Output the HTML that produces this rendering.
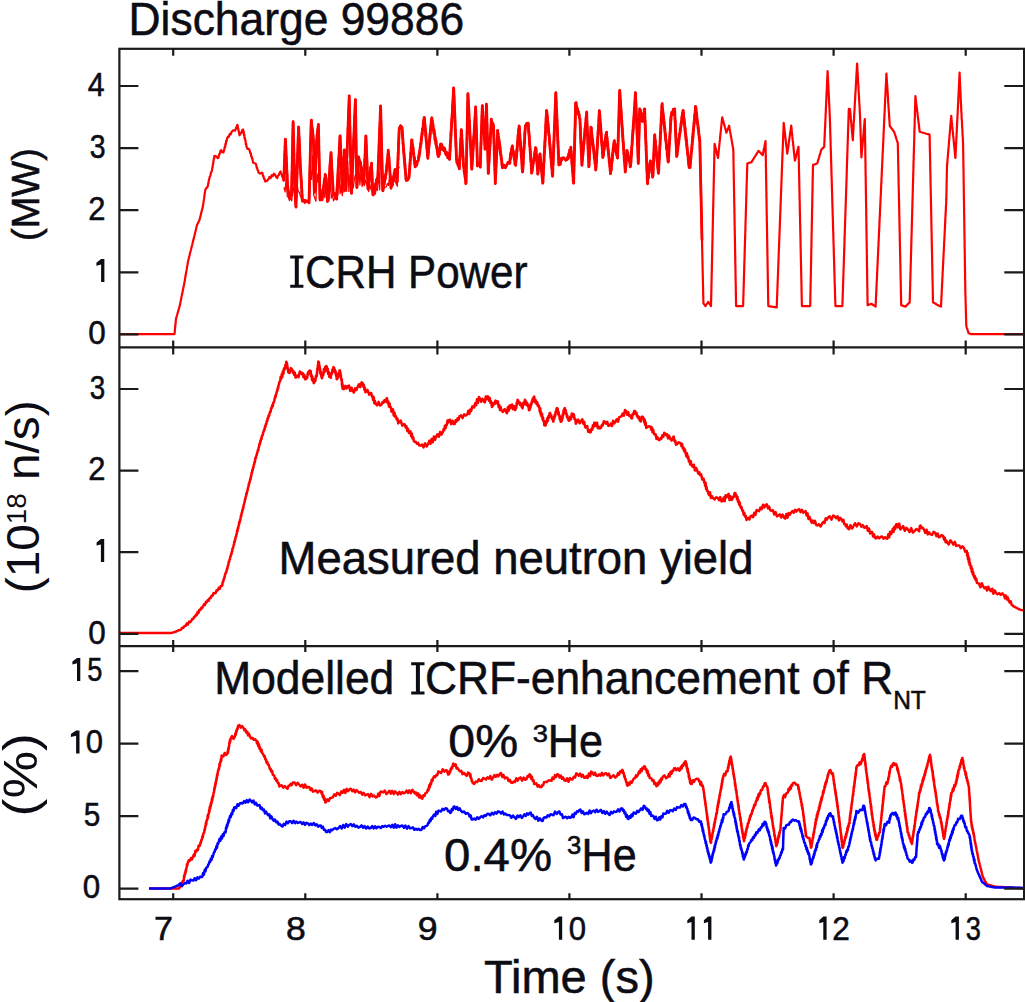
<!DOCTYPE html>
<html><head><meta charset="utf-8"><style>
html,body{margin:0;padding:0;background:#fff;}
body{width:1025px;height:1002px;overflow:hidden;}
svg{display:block;}
text{font-family:"Liberation Sans",sans-serif;fill:#0c0c14;stroke:#0c0c14;stroke-width:0.55px;}
</style></head><body>
<svg width="1025" height="1002" viewBox="0 0 1025 1002">
<rect width="1025" height="1002" fill="#fff"/>
<defs><clipPath id="c1"><rect x="119.4" y="48.8" width="904.6999999999999" height="850.4000000000001"/></clipPath></defs>
<g clip-path="url(#c1)">
<path d="M149.0,888.5 150.4,888.5 151.9,888.5 153.3,888.5 154.7,888.5 156.2,888.5 157.6,888.5 159.0,888.5 160.5,888.5 161.9,888.5 163.3,888.5 164.8,888.5 166.2,888.5 167.6,888.5 169.1,888.5 170.5,888.5 171.9,888.5 173.4,888.5 174.8,888.5 176.2,888.5 177.7,888.5 179.1,888.5 179.8,887.1 180.5,885.8 181.2,884.4 182.0,883.0 182.7,881.1 183.4,880.3 183.8,880.6 184.1,875.8 184.5,876.8 184.8,873.4 185.2,874.3 185.6,870.3 185.9,871.9 186.3,868.3 186.6,867.8 187.0,864.2 187.3,865.6 187.7,863.1 188.8,860.2 189.8,860.9 190.9,858.1 191.9,859.5 193.0,856.7 193.8,854.6 194.6,855.9 195.4,850.8 196.2,851.8 197.1,849.6 197.9,849.9 198.7,845.4 199.5,846.0 200.0,845.6 200.5,842.4 200.9,842.8 201.4,839.8 201.9,839.6 202.4,836.3 202.8,837.2 203.3,833.8 203.8,833.1 204.2,832.4 204.5,829.5 204.9,829.9 205.2,826.5 205.6,826.4 205.9,822.8 206.3,824.4 206.6,820.2 207.0,820.2 207.4,819.5 207.7,815.3 208.1,817.7 208.4,813.9 208.8,814.0 209.1,810.0 209.5,811.7 209.8,806.8 210.2,808.4 210.6,804.1 210.9,805.9 211.3,802.1 211.6,802.9 212.0,798.3 212.3,800.5 212.7,796.1 213.0,797.2 213.4,794.4 213.7,792.5 214.0,792.3 214.3,788.4 214.5,789.8 214.8,786.6 215.1,787.1 215.4,782.9 215.7,784.5 216.0,780.6 216.3,781.2 216.6,777.5 216.8,778.9 217.1,774.6 217.4,775.5 217.7,773.0 218.1,770.4 218.4,770.6 218.8,768.2 219.1,768.8 219.5,763.9 219.8,765.7 220.2,761.9 220.6,762.2 220.9,758.9 221.3,760.6 221.6,755.6 222.0,755.8 223.3,756.5 224.7,753.0 226.1,755.0 227.4,753.7 227.7,751.1 228.0,752.9 228.3,748.3 228.6,749.3 228.9,746.0 229.1,746.7 229.4,742.2 229.7,743.1 230.0,739.7 230.3,741.7 230.6,738.6 232.0,736.1 233.5,738.8 234.9,736.5 235.4,733.3 235.8,734.7 236.3,730.6 236.7,731.5 237.2,728.4 237.6,729.1 238.1,725.8 239.4,725.0 240.8,727.6 242.2,726.2 243.5,727.9 244.4,730.3 245.3,729.4 246.2,732.5 247.2,731.6 248.1,735.4 249.0,733.9 249.9,736.5 251.2,738.5 252.5,737.8 253.8,739.8 255.1,739.3 256.4,740.8 257.0,743.4 257.7,741.6 258.3,746.3 259.0,744.3 259.6,749.0 260.2,747.7 260.9,751.6 261.5,749.6 262.2,752.9 262.8,753.7 263.4,754.6 264.1,756.7 264.7,755.9 265.4,759.6 266.0,759.5 266.6,762.8 267.3,761.7 267.9,764.5 268.6,764.6 269.2,766.5 269.9,769.2 270.6,768.7 271.4,771.6 272.1,770.7 272.8,774.8 273.5,775.1 274.2,775.4 274.9,778.7 275.7,778.3 276.4,780.9 277.1,780.0 277.8,783.0 278.6,782.9 279.3,786.5 280.0,785.9 281.6,785.2 283.2,787.7 284.8,786.1 286.4,788.0 287.5,788.8 288.6,785.8 289.6,785.7 290.7,783.8 291.8,785.1 292.9,782.6 294.5,782.5 296.1,785.2 297.7,782.8 299.3,784.8 300.7,786.4 302.2,784.7 303.6,787.8 305.0,784.5 306.5,787.8 307.9,786.9 309.2,787.0 310.5,790.1 311.7,788.4 313.0,791.7 314.3,791.2 315.9,790.3 317.6,792.6 319.2,790.7 320.8,791.2 321.5,793.4 322.1,792.0 322.8,797.1 323.5,795.7 324.1,799.7 324.8,798.4 325.4,802.6 326.1,802.0 327.5,799.3 328.8,800.9 330.1,798.0 331.5,797.7 332.9,797.3 334.3,794.3 335.8,795.8 337.2,792.8 338.6,793.7 339.9,795.1 341.3,791.3 342.6,792.8 344.0,789.8 345.3,793.0 346.6,788.9 348.0,791.2 349.3,789.4 350.7,788.7 352.2,791.1 353.6,789.7 355.0,792.3 356.5,790.1 357.9,791.5 359.3,792.7 360.8,792.0 362.2,794.6 363.6,792.8 365.1,795.4 366.5,794.7 368.0,794.1 369.6,797.1 371.1,793.8 372.6,796.4 374.1,795.6 375.7,797.5 377.2,796.9 378.3,793.6 379.4,795.9 380.4,791.9 381.5,791.5 383.1,792.5 384.8,790.6 386.4,794.1 388.0,792.6 389.4,790.7 390.8,793.6 392.2,790.8 393.7,794.1 395.1,791.4 396.5,792.6 397.9,794.6 399.4,791.8 400.8,794.2 402.2,792.1 403.7,793.3 405.1,792.6 406.5,790.6 408.0,793.0 409.4,790.4 410.8,793.2 412.3,789.9 413.7,791.5 414.8,793.4 415.8,792.4 416.9,795.2 418.0,793.4 419.1,797.5 420.1,795.1 421.2,798.0 422.3,798.7 423.4,795.2 424.4,796.0 425.5,793.1 426.6,792.6 427.2,791.7 427.9,789.3 428.5,790.2 429.2,785.3 429.8,787.3 430.4,783.3 431.1,784.2 431.7,779.7 432.4,781.0 433.0,778.6 434.1,776.2 435.2,777.2 436.2,774.9 437.3,775.2 438.4,771.4 439.5,772.2 441.1,773.0 442.7,769.2 444.3,771.7 445.9,770.0 447.0,770.6 448.0,774.5 449.1,774.3 449.6,771.2 450.2,772.0 450.7,768.8 451.2,769.5 451.8,767.0 452.3,768.1 452.9,764.5 453.4,763.6 454.5,765.7 455.6,764.2 456.6,768.5 457.7,768.1 458.8,770.0 460.1,771.5 461.4,770.9 462.6,774.2 463.9,772.9 465.2,774.3 466.6,775.8 468.1,772.6 469.5,773.3 470.0,776.6 470.4,774.2 470.9,778.3 471.3,778.0 471.8,781.3 472.2,781.0 472.7,782.9 474.2,783.9 475.7,781.6 477.2,782.1 478.7,779.2 480.2,780.8 481.6,780.9 483.1,778.0 484.5,778.6 485.9,779.6 487.4,777.4 488.8,778.6 490.2,776.1 491.7,779.7 493.1,777.6 494.4,775.0 495.7,776.9 497.0,774.9 498.3,776.3 499.6,774.3 500.9,773.0 502.2,776.9 503.4,774.8 504.7,778.4 506.0,777.6 507.3,777.8 508.6,781.0 509.8,779.9 511.1,782.6 512.4,782.9 513.7,781.5 515.0,782.0 516.3,778.3 517.6,780.6 518.9,778.6 520.5,777.4 522.1,780.6 523.7,777.5 525.3,779.7 526.4,779.4 527.5,776.1 528.5,776.6 529.6,774.3 530.4,774.8 531.1,778.8 531.9,776.6 532.7,780.7 533.5,780.3 534.2,783.9 535.0,784.0 536.3,783.3 537.6,786.6 538.8,785.1 540.1,787.0 541.4,787.2 542.3,785.1 543.2,785.2 544.1,782.1 545.0,782.1 546.8,782.0 548.5,780.4 550.3,780.4 551.5,780.8 552.6,777.5 553.8,779.0 555.0,775.1 556.1,777.0 557.3,774.2 558.5,774.6 559.6,777.5 560.8,775.6 562.0,778.9 563.1,777.4 564.3,780.4 565.7,780.9 567.1,778.4 568.5,781.8 569.9,778.0 571.3,779.5 572.5,779.4 573.8,776.8 575.0,777.5 576.3,773.4 577.5,774.2 578.8,775.7 580.1,773.6 581.5,776.6 582.8,774.7 584.1,777.7 585.4,777.8 586.6,776.0 587.7,777.9 588.9,773.5 590.1,776.1 591.2,771.6 592.4,772.5 593.7,775.0 595.0,772.7 596.4,775.8 597.7,776.0 599.1,774.4 600.5,775.6 601.9,772.9 603.3,775.4 604.7,773.4 606.1,773.3 607.5,775.3 608.9,773.6 610.3,777.9 611.7,776.9 613.5,775.3 615.2,777.6 617.0,776.0 618.1,773.0 619.1,774.7 620.2,771.3 621.2,772.1 622.3,769.9 622.8,770.5 623.2,773.2 623.7,772.8 624.2,776.7 624.7,775.8 625.1,779.0 625.6,779.0 626.1,782.0 626.6,782.2 627.0,785.1 627.5,785.7 628.6,782.9 629.6,784.6 630.7,781.5 631.7,782.8 632.8,780.4 633.9,778.4 634.9,778.3 636.0,775.4 637.0,776.6 638.1,774.2 639.0,771.6 639.8,773.0 640.7,769.3 641.6,771.3 642.5,767.8 643.3,768.6 644.2,766.3 644.9,766.4 645.6,769.6 646.3,769.1 647.0,772.7 647.6,770.8 648.3,775.8 649.0,774.4 649.7,778.0 650.4,777.8 651.4,778.5 652.4,780.6 653.4,780.0 654.4,784.1 655.4,782.8 656.4,786.2 657.4,785.7 658.2,782.6 658.9,784.1 659.7,780.4 660.4,782.4 661.2,778.4 661.9,779.7 662.7,776.9 664.4,775.3 666.2,778.3 667.9,776.9 668.8,774.0 669.7,776.5 670.6,771.7 671.5,773.8 672.3,770.7 673.2,771.1 674.1,768.5 675.0,768.1 676.4,770.3 677.9,768.2 679.3,770.7 680.1,770.0 680.8,766.8 681.6,768.6 682.4,764.9 683.2,765.9 684.0,762.8 684.7,763.9 685.5,761.1 685.8,762.1 686.2,765.9 686.5,763.7 686.8,768.2 687.2,767.4 687.5,771.5 687.8,769.1 688.1,773.1 688.5,772.3 688.8,777.1 689.1,775.3 689.5,779.7 689.8,778.5 690.1,782.9 690.5,780.5 690.8,783.9 691.8,783.9 692.9,780.2 694.0,781.9 695.0,779.8 696.6,778.7 698.3,779.0 699.0,781.2 699.7,781.0 700.4,784.8 701.2,782.3 701.9,786.1 702.6,785.4 703.3,788.1 703.5,790.6 703.7,790.3 703.9,793.2 704.1,792.9 704.3,796.7 704.5,796.1 704.6,798.6 704.8,798.2 705.0,801.2 705.2,800.7 705.4,804.9 705.6,803.2 705.8,807.1 706.0,806.9 706.2,810.4 706.4,809.7 706.6,813.3 706.8,812.5 707.0,816.2 707.1,814.5 707.3,819.2 707.5,817.0 707.7,821.6 707.9,820.6 708.1,824.9 708.3,822.9 708.5,827.3 708.7,826.4 708.9,829.6 709.1,829.6 709.3,833.3 709.5,832.4 709.6,836.0 709.8,834.5 710.0,839.1 710.2,837.0 710.4,842.0 710.6,840.8 710.8,842.8 711.1,842.6 711.4,838.6 711.6,839.4 711.9,835.9 712.2,836.7 712.5,833.0 712.7,833.3 713.0,830.3 713.3,831.1 713.6,827.7 713.8,828.2 714.1,824.1 714.4,825.8 714.7,821.7 714.9,823.0 715.2,819.1 715.5,819.4 715.8,816.9 716.0,816.7 716.3,813.1 716.6,813.0 716.9,813.4 717.1,808.5 717.4,810.0 717.6,805.4 717.9,807.1 718.1,802.8 718.4,804.2 718.6,800.2 718.9,802.3 719.1,798.1 719.4,798.2 719.6,794.8 719.9,796.0 720.2,792.4 720.4,792.3 720.7,789.5 720.9,790.2 721.2,786.7 721.4,788.1 721.7,783.6 721.9,785.1 722.2,780.3 722.4,782.3 722.7,778.1 722.9,779.5 723.2,776.5 724.2,773.8 725.2,775.4 726.3,771.3 727.3,771.5 727.6,771.1 728.0,767.1 728.3,768.4 728.7,763.6 729.0,765.7 729.3,760.8 729.7,762.7 730.0,757.9 730.4,759.5 730.7,756.6 730.9,757.0 731.2,760.2 731.4,759.2 731.6,763.9 731.8,762.2 732.1,765.5 732.3,764.6 732.5,768.8 732.8,767.9 733.0,770.9 733.2,770.6 733.4,774.8 733.7,773.5 733.9,776.9 734.1,775.9 734.3,779.2 734.6,778.9 734.8,781.5 735.0,784.8 735.2,782.8 735.4,786.8 735.6,785.6 735.8,789.9 736.1,789.2 736.3,792.1 736.5,791.0 736.7,795.0 736.9,795.1 737.1,798.7 737.3,797.2 737.5,800.8 737.7,800.0 738.0,804.2 738.2,803.4 738.4,806.9 738.6,805.3 738.8,810.0 739.0,809.7 739.2,810.3 739.4,813.9 739.7,813.2 739.9,816.7 740.1,816.2 740.3,820.0 740.6,817.9 740.8,822.1 741.0,821.8 741.2,826.0 741.5,823.9 741.7,828.6 741.9,827.9 742.1,831.6 742.3,829.8 742.6,833.5 742.8,833.0 743.0,837.1 743.2,835.2 743.5,839.0 743.7,838.4 743.9,841.2 744.2,840.5 744.5,836.4 744.9,838.1 745.2,833.7 745.5,835.7 745.8,831.4 746.2,832.2 746.5,828.7 746.8,829.2 747.1,826.5 747.5,827.3 747.8,823.3 748.1,822.9 748.6,823.1 749.1,819.3 749.6,820.2 750.1,815.8 750.6,816.8 751.1,813.9 751.7,814.1 752.2,810.5 752.7,810.9 753.2,808.2 753.7,808.0 754.2,804.7 754.7,804.7 755.3,805.2 755.9,801.2 756.5,801.1 757.1,797.8 757.7,799.6 758.3,794.6 758.9,796.6 759.5,792.9 760.1,794.2 760.7,790.6 761.3,789.8 762.1,790.0 763.0,786.6 763.8,786.8 764.7,783.2 765.5,783.1 766.4,785.8 767.2,786.4 767.4,787.1 767.6,790.0 767.8,788.9 768.0,793.2 768.2,792.1 768.4,795.6 768.6,794.7 768.8,798.6 769.0,797.7 769.2,802.4 769.5,799.9 769.7,803.8 769.9,803.1 770.1,807.9 770.3,806.6 770.5,810.0 770.7,809.0 770.9,813.7 771.1,812.2 771.3,814.6 771.5,817.8 771.8,815.9 772.0,819.6 772.2,818.5 772.4,822.2 772.7,822.6 772.9,826.1 773.1,825.6 773.3,828.5 773.6,828.4 773.8,831.5 774.0,830.1 774.3,835.1 774.5,834.3 774.7,836.6 774.9,835.8 775.2,839.5 775.4,839.6 775.6,842.5 775.8,842.8 776.1,845.2 776.3,846.2 776.6,843.4 777.0,845.0 777.3,840.6 777.7,842.4 778.0,837.8 778.3,838.9 778.7,835.1 779.0,837.1 779.4,832.3 779.7,833.2 780.1,830.5 780.4,829.6 780.5,830.1 780.6,825.4 780.7,826.3 780.9,822.5 781.0,823.7 781.1,819.7 781.2,820.0 781.3,817.1 781.4,817.7 781.5,814.5 781.6,815.6 781.8,811.3 781.9,812.4 782.0,807.9 782.1,809.6 782.2,805.1 782.3,806.8 782.4,802.9 782.6,804.3 782.7,800.2 782.8,801.3 782.9,798.0 784.0,795.0 785.0,797.3 786.0,793.8 787.1,793.1 787.8,792.4 788.5,788.9 789.3,790.5 790.0,787.1 790.7,788.8 791.5,785.1 792.2,785.6 792.9,783.1 794.5,782.6 796.2,784.8 797.8,784.8 798.1,785.2 798.4,789.1 798.6,787.1 798.9,790.8 799.2,790.5 799.5,793.6 799.7,792.8 800.0,796.4 800.3,796.8 800.6,799.6 800.9,798.4 801.1,802.3 801.4,802.2 801.7,805.8 802.0,803.9 802.2,808.7 802.5,807.4 802.8,809.7 803.0,812.2 803.1,811.7 803.3,815.2 803.5,814.4 803.7,817.6 803.8,816.4 804.0,821.4 804.2,819.5 804.4,822.8 804.5,822.2 804.7,826.2 804.9,824.5 805.1,829.4 805.2,827.5 805.4,832.1 805.6,830.8 805.8,835.2 805.9,833.1 806.1,836.2 807.8,837.9 809.4,837.9 809.6,838.7 809.9,841.7 810.1,840.9 810.4,844.1 810.6,844.0 810.9,847.7 811.1,847.8 811.4,845.9 811.6,846.7 811.9,842.1 812.1,843.1 812.4,839.9 812.6,840.3 812.9,837.0 813.1,838.1 813.4,833.9 813.6,834.9 813.9,831.7 814.1,832.7 814.4,828.5 814.6,829.0 814.9,826.1 815.1,827.2 815.4,822.7 815.6,824.3 815.9,819.1 816.1,819.6 816.5,820.2 816.8,815.1 817.2,817.3 817.6,812.2 817.9,814.4 818.3,810.7 818.7,811.2 819.0,807.2 819.4,809.1 819.8,804.1 820.1,805.9 820.5,801.4 820.9,802.6 821.2,798.3 821.6,800.3 822.0,796.4 822.3,797.2 822.7,794.7 823.1,791.3 823.5,793.1 823.9,789.8 824.3,789.7 824.6,786.1 825.0,787.5 825.4,783.0 825.8,784.1 826.2,780.9 826.6,782.1 827.0,778.7 827.4,778.3 827.7,775.1 828.1,775.8 828.5,773.0 828.9,772.9 829.3,770.7 830.4,770.1 831.6,773.6 832.7,773.2 832.9,774.1 833.1,776.6 833.3,775.8 833.6,780.4 833.8,779.7 834.0,783.6 834.2,782.8 834.4,785.7 834.6,784.4 834.8,789.1 835.0,788.2 835.3,792.3 835.5,790.6 835.7,795.1 835.9,793.0 836.1,797.3 836.3,796.2 836.5,800.4 836.7,798.6 837.0,803.7 837.2,801.9 837.4,806.6 837.6,806.3 837.8,805.7 837.9,810.0 838.1,809.9 838.3,813.6 838.5,811.8 838.6,816.1 838.8,815.1 839.0,818.8 839.2,817.4 839.3,822.3 839.5,820.7 839.7,823.9 839.8,823.1 840.0,827.5 840.2,827.1 840.4,830.1 840.5,829.1 840.7,832.5 840.9,832.9 841.0,835.8 841.2,834.5 841.4,839.4 841.6,837.3 841.7,841.9 841.9,840.8 842.1,844.8 842.3,843.7 842.4,847.6 842.6,847.8 843.0,844.7 843.3,847.0 843.7,842.6 844.1,843.7 844.5,840.0 844.8,840.4 845.2,836.9 845.6,838.1 846.0,834.1 846.3,835.9 846.7,831.9 847.1,832.6 847.4,827.8 847.8,830.0 848.2,825.7 848.6,826.7 848.9,823.2 849.3,822.9 849.5,823.4 849.7,818.2 849.9,820.1 850.0,815.4 850.2,817.7 850.4,812.7 850.6,814.0 850.8,810.5 851.0,811.9 851.1,807.8 851.3,809.0 851.5,804.8 851.7,805.5 851.9,802.0 852.1,802.3 852.3,799.4 852.4,800.0 852.6,797.1 852.8,796.8 853.0,793.9 853.2,795.1 853.4,790.5 853.6,791.3 853.7,787.1 853.9,788.5 854.1,785.0 854.3,786.4 854.5,781.9 854.7,783.1 854.9,779.0 855.0,780.4 855.2,776.2 855.4,777.6 855.6,773.0 855.8,775.1 856.0,771.6 856.1,771.3 856.3,767.4 856.5,768.7 856.7,766.5 857.7,765.0 858.7,765.3 859.6,762.3 860.6,764.3 861.6,761.4 862.1,758.9 862.6,760.0 863.1,755.2 863.6,756.0 864.1,754.0 864.3,754.1 864.5,758.9 864.7,757.1 864.8,761.1 865.0,760.4 865.2,764.7 865.4,762.3 865.6,766.3 865.8,765.9 865.9,769.7 866.1,768.6 866.3,772.1 866.5,773.0 866.7,773.6 866.9,776.8 867.1,776.2 867.3,780.5 867.5,778.5 867.7,783.4 867.9,781.7 868.1,785.2 868.2,785.1 868.4,789.0 868.6,788.1 868.8,791.6 869.0,790.0 869.2,793.9 869.4,793.0 869.6,796.8 869.8,797.7 870.0,798.1 870.2,802.5 870.4,801.3 870.6,804.7 870.8,803.9 871.0,808.2 871.2,805.9 871.4,810.2 871.5,809.6 871.7,814.1 871.9,812.4 872.1,815.9 872.3,815.0 872.5,819.0 872.7,818.3 872.9,821.4 873.1,822.4 873.4,821.9 873.6,826.8 873.9,824.9 874.2,830.1 874.5,828.8 874.8,832.4 875.0,831.4 875.3,835.6 875.6,833.7 875.9,837.7 876.1,837.5 876.4,839.8 877.1,839.8 877.7,835.7 878.4,835.9 879.0,833.1 879.7,832.3 879.9,832.2 880.0,828.1 880.2,830.0 880.3,825.5 880.5,826.7 880.6,823.3 880.8,823.6 880.9,820.3 881.1,821.2 881.2,817.5 881.4,817.7 881.5,814.5 881.7,815.3 881.8,811.8 882.0,812.7 882.1,809.3 882.3,810.4 882.4,805.6 882.6,807.0 882.7,803.9 882.9,803.9 883.0,800.1 883.2,801.6 883.3,797.1 883.5,799.2 883.6,795.1 883.8,795.8 883.9,792.3 884.1,792.4 884.2,789.8 884.4,789.8 884.5,787.1 884.7,786.2 885.5,786.2 886.4,782.2 887.2,783.8 888.0,781.2 888.3,778.2 888.5,779.0 888.8,776.1 889.1,776.6 889.3,772.1 889.6,773.5 889.9,770.5 890.1,769.9 890.4,768.0 891.2,765.9 892.0,766.9 892.9,763.8 893.7,763.1 894.8,765.0 895.9,763.8 897.0,766.4 897.3,769.8 897.6,768.2 898.0,771.9 898.3,770.7 898.6,773.8 898.9,773.8 899.3,776.8 899.6,776.7 899.9,780.6 900.2,778.8 900.6,782.2 900.9,782.6 901.2,784.5 901.4,787.5 901.6,786.8 901.8,789.8 902.0,789.5 902.2,792.2 902.4,792.8 902.6,795.3 902.8,795.1 902.9,799.5 903.1,797.6 903.3,801.3 903.5,800.4 903.7,804.2 903.9,803.6 904.1,807.2 904.3,805.8 904.5,809.2 904.7,811.6 904.9,810.4 905.1,815.0 905.3,813.2 905.5,817.8 905.7,816.1 905.9,820.4 906.1,819.3 906.4,823.6 906.6,822.4 906.8,826.4 907.0,825.3 907.2,829.0 907.4,827.6 907.6,832.3 907.8,832.3 908.3,832.5 908.8,835.7 909.3,835.4 909.8,838.8 910.4,838.8 910.9,842.1 911.4,841.2 911.9,843.9 912.1,843.3 912.3,840.3 912.5,840.9 912.7,837.1 912.9,837.9 913.1,834.9 913.3,835.1 913.5,831.2 913.7,832.5 914.0,828.6 914.2,830.2 914.4,825.5 914.6,827.1 914.8,823.8 915.0,823.7 915.2,819.9 915.4,820.7 915.6,816.7 915.8,817.8 916.0,815.8 916.2,812.6 916.4,813.7 916.6,809.7 916.8,811.8 917.0,807.7 917.2,809.0 917.4,805.1 917.6,806.1 917.9,801.9 918.1,802.5 918.3,799.4 918.5,799.9 918.7,796.3 918.9,797.1 919.1,792.6 919.3,792.8 919.7,792.8 920.1,789.6 920.5,790.6 920.9,785.4 921.3,787.4 921.8,783.5 922.2,784.5 922.6,780.0 923.0,781.6 923.4,777.4 923.8,779.0 924.2,776.3 924.6,773.8 925.0,775.3 925.4,770.9 925.7,771.9 926.1,768.6 926.5,768.9 926.9,765.8 927.3,766.4 927.7,763.0 928.1,762.4 928.5,760.0 928.8,759.7 929.2,756.5 929.6,757.2 930.0,754.8 930.2,755.4 930.4,759.6 930.6,757.2 930.8,761.9 931.0,760.1 931.2,764.9 931.4,763.8 931.6,767.7 931.8,766.7 932.0,770.1 932.3,769.3 932.5,772.3 932.7,771.4 932.9,776.3 933.1,775.0 933.3,779.1 933.5,777.7 933.7,781.5 933.9,779.5 934.1,782.9 934.3,785.9 934.5,785.2 934.7,788.2 934.9,787.5 935.1,790.8 935.4,789.6 935.6,793.8 935.8,792.6 936.0,796.9 936.2,795.7 936.4,798.8 936.6,798.2 936.8,802.9 937.0,801.8 937.2,805.3 937.5,804.1 937.7,807.6 937.9,806.6 938.1,811.5 938.3,810.9 938.7,811.8 939.1,815.5 939.5,814.0 939.9,818.1 940.3,817.1 940.7,819.1 940.9,822.1 941.2,821.4 941.4,824.3 941.6,822.8 941.9,827.6 942.1,825.9 942.4,830.1 942.6,829.3 942.8,833.0 943.1,831.6 943.3,836.2 943.5,835.4 943.8,838.6 944.0,838.9 944.2,836.2 944.5,837.4 944.7,832.8 944.9,835.0 945.2,831.2 945.4,831.4 945.6,828.4 945.9,828.0 946.1,825.7 946.4,825.4 946.6,821.7 946.8,823.4 947.1,818.8 947.3,819.1 947.5,818.6 947.7,815.7 948.0,816.9 948.2,811.8 948.4,814.1 948.6,810.4 948.8,810.4 949.1,806.6 949.3,808.2 949.5,803.4 949.7,805.1 950.0,801.5 950.2,801.5 950.4,798.0 950.6,800.3 950.8,795.1 951.1,797.0 951.3,793.2 951.5,792.8 952.2,792.2 952.9,788.4 953.5,790.5 954.2,785.3 954.9,786.6 955.6,784.5 955.9,781.7 956.3,782.8 956.6,779.0 956.9,780.3 957.2,775.2 957.6,777.2 957.9,772.6 958.2,774.2 958.6,769.7 958.9,769.7 959.3,769.5 959.7,766.0 960.1,767.0 960.5,763.3 961.0,763.9 961.4,760.0 961.8,760.8 962.2,758.1 962.5,758.1 962.8,762.2 963.1,760.5 963.4,764.7 963.7,764.9 964.0,768.7 964.3,767.4 964.6,769.7 965.0,771.9 965.3,771.4 965.6,775.2 966.0,773.2 966.4,778.1 966.7,777.0 967.0,780.6 967.4,779.6 967.8,783.3 968.1,782.4 968.4,785.5 968.8,786.2 968.9,786.6 969.0,790.1 969.1,789.8 969.2,793.7 969.3,792.5 969.4,795.5 969.5,795.0 969.6,799.5 969.7,797.6 969.8,802.1 969.9,800.6 970.0,804.5 970.0,804.4 970.1,807.3 970.2,807.0 970.3,810.2 970.4,809.7 970.5,812.9 970.6,813.1 970.7,816.0 970.8,815.9 970.9,819.7 971.0,818.2 971.1,821.7 971.2,822.4 971.5,822.7 971.8,826.9 972.0,825.2 972.3,829.2 972.6,828.2 972.9,831.4 973.1,830.6 973.4,833.9 973.7,833.1 974.0,836.6 974.2,835.9 974.5,838.9 974.8,841.3 975.1,841.8 975.3,843.2 975.6,844.6 975.9,846.1 976.2,847.5 976.5,848.9 976.7,850.4 977.0,851.8 977.3,853.2 977.6,854.7 977.9,856.1 978.1,857.5 978.4,859.0 978.7,860.4 979.0,861.8 979.4,863.1 979.7,864.5 980.1,865.9 980.4,867.3 980.8,868.6 981.1,870.0 981.4,871.4 981.8,872.8 982.1,874.1 982.5,875.5 982.8,876.9 983.5,878.1 984.2,879.4 984.8,880.6 985.5,881.8 986.2,883.1 986.9,884.3 988.3,884.7 989.6,885.1 991.0,885.5 992.4,885.9 993.7,886.3 995.1,886.7 996.6,886.8 998.1,886.9 999.6,886.9 1001.1,887.0 1002.6,887.1 1004.1,887.2 1005.6,887.3 1007.1,887.4 1008.6,887.4 1010.1,887.5 1011.6,887.6 1013.1,887.7 1014.7,887.8 1016.2,887.9 1017.8,888.0 1019.4,888.1 1020.9,888.2 1022.5,888.3 1024.0,888.4" stroke="#ff0000" stroke-width="2.5" fill="none" stroke-linejoin="round"/>
<path d="M149.0,888.5 150.4,888.5 151.9,888.5 153.3,888.5 154.7,888.5 156.2,888.5 157.6,888.5 159.0,888.5 160.5,888.5 161.9,888.5 163.3,888.5 164.8,888.5 166.2,888.5 167.6,888.5 169.1,888.5 170.5,888.5 171.8,887.9 173.1,887.4 174.4,886.8 175.7,886.3 177.0,885.7 178.6,885.3 180.2,883.2 181.8,886.3 183.4,884.2 184.8,883.1 186.3,883.4 187.7,880.7 189.1,883.0 190.6,879.6 192.0,880.3 193.4,880.6 194.7,878.2 196.1,880.2 197.5,877.3 198.9,878.6 200.2,876.6 201.6,877.1 202.4,876.6 203.1,872.9 203.9,874.7 204.7,869.8 205.5,871.3 206.2,867.8 207.0,867.4 207.6,866.9 208.3,864.4 208.9,863.9 209.6,861.2 210.2,861.8 210.8,858.8 211.5,860.0 212.1,856.0 212.8,857.0 213.4,854.5 214.0,852.4 214.6,852.0 215.2,849.4 215.8,849.4 216.4,846.3 217.0,847.8 217.6,843.2 218.2,843.7 218.8,841.7 219.6,838.8 220.4,840.8 221.2,836.6 222.0,838.5 222.8,834.2 223.6,835.9 224.4,832.3 225.2,832.0 225.6,832.4 226.1,827.5 226.5,828.4 226.9,825.0 227.3,826.4 227.8,822.6 228.2,823.4 228.6,819.8 229.1,821.2 229.5,818.1 230.2,815.7 230.8,817.0 231.5,813.2 232.2,814.3 232.9,809.7 233.6,811.0 234.2,807.5 234.9,807.3 236.2,808.1 237.5,804.2 238.7,805.8 240.0,803.2 241.3,803.0 242.7,803.5 244.1,801.0 245.5,802.7 246.8,800.1 248.2,802.2 249.6,799.5 251.0,800.9 252.2,802.4 253.5,800.6 254.8,804.4 256.0,802.7 257.2,805.6 258.5,805.2 259.6,805.0 260.6,808.6 261.7,807.6 262.8,810.2 263.9,809.5 265.0,813.4 266.0,811.5 267.1,813.8 268.2,815.3 269.3,814.4 270.3,818.4 271.4,816.4 272.5,819.1 273.7,820.7 274.9,819.5 276.1,822.3 277.4,821.5 278.6,824.5 279.8,824.0 281.0,825.6 282.4,826.6 283.8,823.9 285.2,824.9 286.5,821.6 287.9,823.2 289.3,821.3 290.7,821.3 292.1,823.1 293.6,820.7 295.0,823.2 296.4,821.6 297.9,823.0 299.3,822.3 300.7,821.9 302.2,824.0 303.6,822.4 305.0,824.8 306.5,822.8 307.9,823.4 309.4,825.1 310.8,823.6 312.3,825.0 313.8,823.0 315.3,825.4 316.8,824.4 318.2,826.7 319.7,825.6 320.8,825.6 321.8,827.9 322.9,826.6 324.0,829.8 325.1,829.8 326.1,831.9 327.2,832.0 328.5,830.1 329.8,832.1 331.0,829.6 332.3,830.3 333.6,828.8 335.3,828.1 336.9,829.3 338.6,828.0 340.1,826.1 341.7,828.5 343.2,825.0 344.7,827.6 346.2,824.1 347.8,826.6 349.3,824.8 350.8,824.1 352.4,826.1 353.9,824.4 355.4,826.8 356.9,825.8 358.5,827.6 360.0,826.9 361.5,825.4 363.1,827.8 364.6,826.2 366.2,828.5 367.7,826.6 369.3,828.4 370.8,828.0 372.2,826.1 373.7,828.4 375.1,826.2 376.5,828.2 378.0,826.7 379.4,826.9 380.8,827.9 382.3,826.0 383.7,826.8 385.1,825.8 386.6,826.7 388.0,825.9 389.4,825.4 390.8,827.2 392.3,824.8 393.7,827.7 395.1,824.2 396.5,827.7 398.0,825.2 399.4,826.9 400.8,825.9 402.3,825.5 403.9,827.7 405.4,825.5 407.0,828.6 408.5,826.0 410.1,828.4 411.6,828.0 413.0,827.4 414.4,829.8 415.9,828.7 417.3,829.8 418.7,828.8 420.1,830.1 421.4,829.8 422.7,827.0 424.0,828.3 425.3,826.2 426.6,825.9 427.4,825.3 428.2,822.8 429.0,822.9 429.8,819.9 430.6,820.9 431.4,817.8 432.2,818.7 433.0,816.2 434.1,814.6 435.2,816.1 436.2,811.8 437.3,814.0 438.4,810.7 439.5,810.8 441.0,811.5 442.5,808.8 444.0,810.0 445.5,808.2 447.0,808.7 448.1,811.2 449.1,810.9 450.2,813.0 451.1,812.2 451.9,808.9 452.8,810.0 453.6,806.7 454.5,806.5 455.8,809.0 457.1,807.0 458.3,809.9 459.6,808.2 460.9,810.8 462.5,812.2 464.1,811.5 465.8,813.8 467.4,813.0 468.5,813.8 469.5,816.4 470.6,815.3 471.6,819.4 472.7,819.4 474.2,818.6 475.7,819.6 477.2,817.2 478.7,818.8 480.2,817.3 481.6,816.1 483.1,817.4 484.5,815.2 485.9,815.9 487.4,813.7 488.8,814.0 490.3,815.4 491.9,812.9 493.4,814.5 495.0,812.2 496.5,813.7 498.1,811.3 499.6,811.9 501.0,813.5 502.5,811.5 503.9,814.4 505.3,813.5 506.8,815.1 508.2,815.1 509.8,815.2 511.4,817.8 513.0,815.5 514.6,817.3 516.0,818.9 517.5,815.6 518.9,817.1 520.3,815.3 521.8,817.9 523.2,816.2 524.5,814.2 525.8,816.0 527.0,813.4 528.3,814.7 529.6,813.0 530.7,812.6 531.8,815.9 532.8,815.1 533.9,817.3 535.4,819.0 536.9,816.8 538.4,820.7 539.9,818.2 541.4,820.5 542.6,821.0 543.8,817.6 545.0,817.3 546.4,817.5 547.8,815.2 549.2,816.4 550.6,814.2 552.0,814.6 553.5,815.3 555.1,811.6 556.7,813.9 558.2,812.0 559.4,811.5 560.6,814.6 561.9,814.3 563.1,818.0 564.3,817.3 565.7,816.7 567.1,818.3 568.5,816.8 569.9,817.8 571.3,817.3 572.4,814.6 573.6,817.1 574.7,813.0 575.8,813.8 576.9,811.4 578.1,811.9 579.2,810.2 580.4,809.6 581.7,813.0 582.9,811.4 584.2,814.2 585.4,813.8 586.8,812.7 588.2,813.9 589.6,810.5 591.0,813.1 592.4,811.1 593.8,810.6 595.2,812.2 596.6,809.7 598.0,811.8 599.4,811.1 600.9,809.9 602.3,813.0 603.8,811.1 605.3,813.8 606.7,811.6 608.2,813.8 609.6,814.9 611.0,811.9 612.5,813.3 613.9,811.4 615.3,812.0 616.7,811.7 618.1,809.4 619.5,811.5 620.9,808.6 622.3,808.5 623.1,810.9 623.8,810.1 624.6,813.4 625.3,812.4 626.1,816.8 626.9,815.0 627.6,818.7 628.4,819.0 629.4,816.2 630.5,817.8 631.5,814.5 632.5,816.2 633.6,812.5 634.6,812.9 635.9,813.8 637.2,810.9 638.5,812.1 639.8,810.2 641.1,808.4 642.5,809.8 643.8,805.8 645.1,806.7 646.0,809.1 646.9,808.5 647.7,811.0 648.6,809.7 649.5,813.8 650.4,812.0 651.2,815.9 652.1,815.5 653.3,816.0 654.6,819.0 655.8,816.7 657.1,820.3 658.3,819.9 659.3,817.2 660.3,819.5 661.3,816.3 662.4,817.4 663.4,813.4 664.4,813.8 665.8,813.7 667.2,810.9 668.6,812.8 670.0,810.3 671.4,810.2 672.8,811.2 674.2,808.6 675.7,809.9 677.1,807.1 678.5,807.6 679.9,807.6 681.3,805.0 682.7,806.5 684.1,804.1 685.5,804.1 686.0,807.3 686.5,806.5 686.9,808.8 687.4,808.8 687.9,812.8 688.4,811.4 688.9,815.6 689.4,814.5 689.8,818.4 690.3,817.6 690.8,819.9 692.2,820.0 693.6,817.5 695.0,818.0 696.5,819.2 697.9,819.2 699.3,821.9 700.8,821.3 701.1,822.1 701.4,825.5 701.8,824.0 702.1,827.8 702.4,827.0 702.7,831.2 703.1,829.5 703.4,833.1 703.7,833.3 704.0,836.2 704.4,835.7 704.7,838.9 705.0,839.5 705.3,840.5 705.7,843.4 706.0,841.8 706.4,845.8 706.7,845.2 707.0,848.6 707.4,848.1 707.7,852.0 708.1,851.0 708.4,854.4 708.8,853.5 709.1,857.0 709.4,855.6 709.8,859.1 710.1,858.4 710.5,862.1 710.8,862.7 711.1,860.0 711.5,861.5 711.8,857.3 712.2,858.2 712.5,854.3 712.8,855.0 713.2,851.9 713.5,852.7 713.9,849.3 714.2,850.6 714.6,846.2 714.9,847.6 715.2,844.2 715.6,844.3 715.9,841.2 716.3,841.6 716.6,839.5 717.0,837.4 717.4,838.5 717.8,834.8 718.2,835.5 718.7,831.7 719.1,832.1 719.5,829.0 719.9,828.9 720.3,826.0 720.7,826.3 721.1,823.3 721.5,823.7 721.9,819.9 722.4,821.8 722.8,817.8 723.2,818.6 723.6,814.3 724.0,814.6 725.4,814.3 726.8,811.9 728.2,811.3 728.7,810.5 729.2,807.6 729.7,808.1 730.2,804.3 730.7,804.6 731.2,802.2 731.5,802.1 731.9,805.8 732.2,805.0 732.5,809.2 732.8,808.4 733.2,812.4 733.5,811.4 733.8,815.3 734.1,813.4 734.5,817.6 734.8,818.0 735.1,818.0 735.4,822.5 735.6,820.7 735.9,825.0 736.2,823.3 736.5,828.0 736.7,826.2 737.0,830.8 737.3,829.6 737.6,833.0 737.9,831.8 738.1,835.4 738.4,835.0 738.7,837.9 739.0,836.9 739.2,840.9 739.5,840.4 739.8,842.8 740.1,845.8 740.5,844.9 740.8,848.7 741.2,847.8 741.5,850.1 741.8,850.2 742.2,853.4 742.5,852.2 742.9,856.9 743.2,855.2 743.6,859.0 743.9,859.4 744.4,856.9 744.9,857.3 745.4,853.7 745.8,854.8 746.3,851.7 746.8,852.4 747.3,849.1 747.8,849.1 748.2,845.3 748.7,846.1 749.2,843.6 749.7,842.8 750.5,842.3 751.4,839.8 752.2,840.3 753.0,837.4 753.9,837.9 754.7,835.1 755.5,835.4 756.3,832.3 757.2,833.2 758.0,831.2 758.9,829.2 759.9,830.4 760.8,827.3 761.8,827.2 762.7,823.9 763.6,825.4 764.6,821.8 765.5,822.1 765.9,824.1 766.3,823.8 766.7,827.9 767.1,826.9 767.5,830.6 768.0,829.3 768.4,832.9 768.8,831.6 769.2,835.7 769.6,836.2 769.9,836.5 770.2,840.2 770.6,839.5 770.9,843.3 771.2,841.9 771.5,845.7 771.8,844.7 772.2,849.0 772.5,846.8 772.8,851.6 773.1,850.4 773.4,853.7 773.7,853.0 774.1,856.0 774.4,856.4 774.7,860.1 775.0,859.1 775.3,862.8 775.7,861.1 776.0,865.5 776.3,865.2 776.8,863.4 777.4,863.4 777.9,859.8 778.5,860.3 779.0,858.1 779.6,858.2 780.1,855.4 780.7,855.3 781.2,852.1 781.8,852.6 782.4,849.0 782.9,849.5 783.0,849.4 783.0,846.2 783.1,846.8 783.1,843.0 783.2,843.4 783.2,839.7 783.3,840.0 783.3,836.9 783.4,837.0 783.4,834.5 783.5,835.3 783.5,830.7 783.6,831.9 783.6,828.0 783.7,827.9 785.1,828.4 786.5,825.1 787.9,824.6 788.9,824.7 789.9,822.1 790.9,822.1 791.9,820.1 792.9,819.6 794.4,820.7 795.8,820.0 797.2,821.5 798.7,821.3 799.1,821.8 799.5,825.4 799.9,824.0 800.2,828.7 800.6,827.1 801.0,831.0 801.4,829.7 801.8,833.4 802.2,833.7 802.6,837.2 803.0,835.8 803.3,839.2 803.7,839.0 804.1,842.2 804.5,842.8 805.0,843.1 805.5,846.4 806.0,845.9 806.5,849.6 807.0,847.9 807.4,851.9 807.9,851.1 808.4,854.2 808.9,853.3 809.4,856.1 809.7,859.3 810.0,858.2 810.2,861.6 810.5,860.3 810.8,864.3 811.1,864.4 811.5,862.6 811.9,862.9 812.3,859.7 812.8,859.6 813.2,856.5 813.6,857.6 814.0,853.7 814.4,855.0 814.8,850.9 815.2,851.9 815.6,849.1 816.1,849.7 816.5,845.3 816.9,847.1 817.3,842.9 817.7,842.8 818.3,841.8 818.8,839.4 819.4,839.2 819.9,836.0 820.5,837.0 821.0,833.9 821.6,834.9 822.2,830.0 822.7,832.0 823.3,827.9 823.8,828.4 824.4,826.2 824.9,824.2 825.5,825.0 826.0,820.7 826.6,821.4 827.1,817.7 827.7,819.1 828.2,815.6 828.8,816.1 829.3,813.8 830.4,813.2 831.6,816.5 832.7,816.3 833.0,816.4 833.3,819.7 833.6,819.3 833.9,822.9 834.2,821.9 834.5,825.7 834.8,825.6 835.2,829.0 835.5,828.4 835.8,831.9 836.1,830.6 836.4,834.3 836.7,833.7 837.0,838.0 837.3,836.6 837.6,839.5 837.9,842.0 838.2,841.4 838.5,844.7 838.9,844.3 839.2,847.5 839.5,847.6 839.8,850.7 840.1,850.5 840.4,853.6 840.7,852.8 841.0,856.3 841.4,856.3 841.7,859.6 842.0,858.2 842.3,861.9 842.6,862.7 843.1,860.1 843.6,861.2 844.1,856.9 844.7,858.4 845.2,854.9 845.7,855.0 846.2,851.3 846.7,852.3 847.2,849.7 847.8,850.3 848.3,846.7 848.8,846.7 849.3,844.5 849.6,842.3 849.9,842.5 850.2,838.9 850.5,839.8 850.8,836.6 851.1,837.2 851.5,833.3 851.8,833.8 852.1,830.9 852.4,831.2 852.7,828.7 853.0,829.1 853.3,825.6 853.6,825.6 853.9,822.5 854.2,824.0 854.5,819.7 854.9,820.7 855.2,816.7 855.5,818.5 855.8,814.9 856.1,814.9 856.4,810.9 856.7,811.3 858.3,812.6 860.0,809.8 861.6,810.1 862.4,810.1 863.3,805.7 864.1,806.0 864.4,808.7 864.6,807.5 864.9,811.5 865.2,811.1 865.4,813.9 865.7,814.3 866.0,817.5 866.2,817.1 866.5,819.1 866.8,821.8 867.0,821.1 867.3,824.4 867.5,823.1 867.8,827.2 868.1,826.7 868.3,830.1 868.6,830.0 868.9,832.8 869.1,832.4 869.4,836.5 869.7,835.9 869.9,839.6 870.2,838.0 870.4,841.2 870.7,842.2 871.1,842.2 871.5,845.9 871.8,845.3 872.2,848.3 872.6,848.1 873.0,851.7 873.3,850.5 873.7,854.6 874.1,853.4 874.5,857.6 874.8,856.9 875.2,859.4 875.6,860.4 877.2,858.5 878.9,858.7 879.1,857.9 879.4,855.4 879.6,855.4 879.8,852.0 880.1,853.0 880.3,849.1 880.5,850.7 880.8,847.1 881.0,847.4 881.2,844.4 881.5,844.8 881.7,841.1 881.9,841.3 882.1,838.5 882.4,839.3 882.6,835.5 882.8,836.9 883.1,832.9 883.3,833.3 883.5,829.3 883.8,830.9 884.0,827.7 884.2,828.4 884.5,824.6 884.7,824.1 886.1,825.3 887.4,821.7 888.8,822.4 889.2,822.6 889.6,818.0 890.0,819.4 890.5,815.2 890.9,816.0 891.3,814.2 892.7,812.8 894.0,814.6 895.4,812.5 896.0,813.5 896.5,816.6 897.0,814.9 897.6,819.4 898.2,817.8 898.7,820.8 899.0,822.7 899.2,822.5 899.5,826.3 899.8,825.5 900.1,828.9 900.3,827.9 900.6,831.4 900.9,831.8 901.2,834.9 901.4,833.3 901.7,838.0 902.0,836.6 902.3,840.1 902.5,839.1 902.8,842.2 903.2,844.0 903.6,844.2 904.0,847.8 904.5,846.1 904.9,850.0 905.3,848.8 905.7,852.3 906.1,852.0 906.5,855.0 907.0,855.3 907.4,858.0 907.8,858.7 908.8,859.4 909.8,861.7 910.9,860.7 911.9,862.8 912.7,862.4 913.5,859.2 914.4,859.8 915.2,857.1 916.0,857.1 916.1,856.8 916.2,853.3 916.3,854.4 916.4,850.8 916.5,850.9 916.6,847.4 916.7,847.9 916.9,843.8 917.0,845.3 917.1,841.6 917.2,842.2 917.3,838.8 917.4,840.1 917.5,835.4 917.6,836.7 917.7,834.0 918.2,832.0 918.8,832.5 919.3,829.3 919.9,829.4 920.4,826.7 921.0,827.1 921.5,822.6 922.0,824.3 922.6,820.4 923.1,821.0 923.7,817.9 924.2,817.5 925.0,817.2 925.9,813.9 926.7,814.3 927.5,811.6 928.3,812.4 929.2,808.0 930.0,808.4 930.3,811.4 930.7,810.0 931.0,813.1 931.4,813.4 931.7,817.2 932.0,815.3 932.4,819.6 932.7,818.8 933.1,822.7 933.4,822.1 933.8,825.6 934.1,825.7 934.4,826.2 934.6,830.1 934.9,828.9 935.1,832.6 935.4,831.5 935.6,835.2 935.9,834.5 936.1,838.6 936.4,836.9 936.6,840.7 936.9,840.0 937.1,844.2 937.4,843.9 938.2,843.7 939.0,847.7 939.9,845.8 940.7,848.8 941.1,850.8 941.5,850.5 941.9,854.4 942.4,853.6 942.8,857.8 943.2,855.7 943.6,859.9 944.0,860.4 944.4,857.8 944.8,859.1 945.2,854.8 945.5,855.7 945.9,851.9 946.3,852.9 946.7,850.0 947.1,850.5 947.5,846.5 947.8,847.3 948.2,843.9 948.6,845.4 949.0,842.2 949.4,839.3 949.9,840.5 950.3,836.5 950.8,838.0 951.2,834.5 951.7,835.4 952.1,831.3 952.6,833.1 953.0,828.8 953.5,830.1 953.9,827.4 954.7,825.1 955.6,825.1 956.4,822.2 957.2,822.4 958.1,818.8 958.9,819.1 960.0,818.9 961.1,815.7 962.2,815.8 962.6,818.7 963.0,818.1 963.4,821.7 963.9,820.8 964.3,823.5 964.7,823.3 965.1,826.9 965.5,827.4 966.2,827.1 966.9,831.1 967.5,831.0 968.2,833.3 968.9,833.8 969.6,835.6 969.8,838.2 970.1,837.2 970.3,840.5 970.5,840.8 970.7,844.1 971.0,842.9 971.2,847.9 971.4,846.0 971.6,850.4 971.9,849.4 972.1,852.1 972.5,854.2 972.9,853.7 973.2,856.9 973.6,856.9 974.0,860.7 974.4,859.3 974.7,863.3 975.1,863.3 975.5,864.7 975.9,866.1 976.2,867.5 976.6,868.9 977.0,870.3 977.6,871.7 978.2,873.2 978.9,874.6 979.5,876.0 980.1,877.5 980.8,878.9 981.4,880.4 982.0,881.8 983.2,882.8 984.5,883.8 985.7,884.9 986.9,885.9 988.5,886.2 990.2,886.6 991.8,886.9 993.5,887.3 995.1,887.6 996.6,887.6 998.1,887.6 999.6,887.6 1001.1,887.6 1002.6,887.6 1004.1,887.6 1005.6,887.6 1007.1,887.6 1008.6,887.6 1010.1,887.6 1011.6,887.6 1013.1,887.6 1014.7,887.7 1016.2,887.7 1017.8,887.8 1019.4,887.8 1020.9,887.8 1022.5,887.9 1024.0,887.9" stroke="#0000ff" stroke-width="2.5" fill="none" stroke-linejoin="round"/>
<path d="M119.0,334.2 120.5,334.2 122.0,334.2 123.5,334.2 125.0,334.2 126.5,334.2 128.0,334.2 129.5,334.2 131.0,334.2 132.5,334.2 134.0,334.2 135.5,334.2 137.0,334.2 138.5,334.2 140.0,334.2 141.5,334.2 143.0,334.2 144.5,334.2 146.0,334.2 147.5,334.2 149.0,334.2 150.5,334.2 152.0,334.2 153.5,334.2 155.0,334.2 156.5,334.2 158.0,334.2 159.5,334.2 161.0,334.2 162.5,334.2 164.0,334.2 165.5,334.2 167.0,334.2 168.5,334.2 170.0,334.2 171.5,334.2 173.0,334.2 174.5,334.2 174.7,332.7 174.8,331.1 174.9,329.6 175.1,328.1 175.2,326.5 175.4,325.0 175.6,323.5 175.7,322.0 175.8,320.4 176.0,318.9 176.4,317.4 176.9,315.8 177.3,314.3 177.7,312.8 178.2,311.2 178.6,309.7 179.0,308.2 179.5,306.6 179.9,305.1 180.2,303.6 180.5,302.0 180.8,300.5 181.1,299.0 181.4,297.5 181.7,295.9 182.0,294.4 182.4,292.9 182.7,291.4 183.0,289.8 183.3,288.3 183.6,286.8 183.9,285.3 184.2,283.7 184.5,282.2 184.8,280.6 185.0,279.0 185.3,277.4 185.6,275.8 185.8,274.2 186.1,272.6 186.4,271.1 186.7,269.5 186.9,267.9 187.2,266.3 187.5,264.7 187.7,263.1 188.0,261.5 188.4,260.0 188.8,258.4 189.2,256.9 189.5,255.4 189.9,253.8 190.3,252.3 190.7,250.8 191.1,249.3 191.4,247.7 191.8,246.2 192.2,244.7 192.6,243.2 192.9,241.6 193.3,240.1 193.7,238.6 194.1,237.1 194.5,235.5 194.8,234.0 195.2,232.5 195.6,230.9 196.0,229.4 196.3,227.9 196.7,226.3 197.1,224.8 197.9,223.3 198.6,221.7 199.4,220.2 199.8,218.7 200.2,217.1 200.6,215.6 201.0,214.1 201.3,212.5 201.7,211.0 202.1,209.5 202.5,207.9 202.9,206.4 203.1,204.8 203.4,203.2 203.6,201.6 203.8,200.0 204.1,198.4 204.3,196.7 204.5,195.1 204.7,193.5 205.0,191.9 205.2,190.3 206.3,188.1 207.5,186.9 207.8,186.2 208.2,183.4 208.5,183.3 208.8,180.2 209.1,179.8 209.5,177.8 209.8,176.6 210.4,175.9 210.9,172.7 211.5,171.9 212.1,169.7 212.4,167.0 212.6,167.3 212.9,164.1 213.1,164.3 213.4,161.2 213.6,160.9 213.9,158.1 214.1,158.5 214.4,155.9 216.1,156.3 217.8,158.2 218.5,157.6 219.2,154.1 219.8,153.7 220.5,150.8 221.2,150.2 222.3,152.2 223.5,152.5 223.9,150.4 224.3,149.7 224.7,146.8 225.1,147.1 225.4,143.9 225.8,144.4 226.2,140.8 226.6,141.4 227.0,138.7 227.9,136.7 228.8,136.9 229.8,133.9 230.7,134.3 231.6,131.8 233.3,130.2 235.0,130.7 235.6,129.6 236.2,127.4 236.7,126.8 237.3,124.9 237.6,125.2 238.0,128.5 238.3,128.5 238.6,131.4 238.9,131.6 239.3,134.4 239.6,135.3 240.5,133.3 241.3,133.2 242.2,130.1 243.1,129.5 243.4,132.2 243.7,131.7 244.0,135.3 244.3,134.7 244.6,138.5 245.0,138.0 245.3,140.8 245.6,140.9 245.9,144.7 246.2,144.0 246.5,146.7 247.6,149.0 248.8,148.8 249.9,151.3 250.3,153.2 250.8,153.1 251.2,156.4 251.7,156.5 252.1,158.8 252.5,158.9 253.0,162.6 253.4,162.8 255.8,163.8 256.2,164.9 256.7,167.7 257.1,167.6 257.6,170.1 258.1,170.6 258.5,172.6 260.1,173.6 261.8,172.6 262.4,173.0 262.9,175.8 263.5,176.2 264.0,178.7 264.6,179.0 265.1,181.4 266.8,180.9 268.4,179.2 269.5,177.0 270.6,178.2 271.7,175.2 272.8,176.0 273.9,173.7 275.0,174.6 276.1,176.9 277.2,178.1 278.0,175.6 278.9,175.1 279.7,172.7 280.5,171.5 281.1,173.6 281.6,173.6 282.1,176.3 282.7,177.1 283.2,178.8 283.8,180.3 283.9,178.8 283.9,177.2 284.0,175.7 284.0,176.7 284.1,171.4 284.2,173.9 284.2,167.1 284.3,169.5 284.3,165.0 284.4,166.8 284.5,161.5 284.5,163.9 284.6,158.7 284.6,160.9 284.7,154.7 284.7,157.6 284.8,152.8 284.9,155.0 284.9,150.2 285.0,151.0 285.0,145.5 285.1,148.5 285.2,143.4 285.2,144.3 285.3,140.7 285.3,142.5 285.4,139.1 285.5,140.0 285.5,144.1 285.6,141.7 285.7,145.9 285.8,144.8 285.8,149.9 285.9,147.8 286.0,152.8 286.0,150.8 286.1,156.7 286.2,155.4 286.3,158.3 286.3,157.0 286.4,163.4 286.5,161.1 286.5,165.3 286.6,163.4 286.7,168.1 286.7,167.0 286.8,171.1 286.9,170.0 287.0,174.8 287.0,173.3 287.1,177.4 287.2,175.3 287.2,179.7 287.3,178.8 287.4,184.4 287.5,182.5 287.5,186.3 287.6,186.8 287.8,186.0 288.1,191.0 288.3,190.5 288.6,194.6 288.8,192.5 289.1,197.0 289.3,197.8 290.4,195.4 291.5,195.6 291.5,195.4 291.6,190.2 291.6,192.6 291.6,187.1 291.7,189.0 291.7,185.3 291.7,187.1 291.8,181.1 291.8,183.7 291.8,179.5 291.9,179.9 291.9,175.9 291.9,177.1 292.0,172.2 292.0,175.5 292.0,170.6 292.1,171.3 292.1,166.2 292.1,169.1 292.2,163.2 292.2,165.4 292.2,161.7 292.3,162.3 292.3,157.3 292.3,159.3 292.3,155.3 292.4,156.6 292.4,152.1 292.4,153.6 292.5,148.0 292.5,150.0 292.5,147.0 292.6,148.8 292.6,142.1 292.6,145.9 292.7,140.1 292.7,142.8 292.7,136.0 292.8,138.2 292.8,133.4 292.8,136.5 292.9,130.6 292.9,132.8 292.9,128.4 293.0,129.4 293.0,125.5 293.0,125.8 293.1,121.7 293.1,122.1 293.1,124.8 293.2,122.7 293.2,127.3 293.3,125.5 293.3,131.7 293.3,128.5 293.4,135.2 293.4,131.6 293.5,137.5 293.5,136.6 293.5,140.9 293.6,139.2 293.6,142.9 293.7,141.1 293.7,146.4 293.7,144.7 293.8,150.3 293.8,147.3 293.9,152.0 293.9,151.1 293.9,156.2 294.0,153.6 294.0,159.0 294.0,156.9 294.1,160.7 294.1,159.5 294.2,165.1 294.2,163.3 294.2,168.1 294.3,164.6 294.3,171.1 294.4,167.8 294.4,172.3 294.4,171.3 294.5,177.3 294.5,175.6 294.6,178.9 294.6,178.1 294.6,182.5 294.7,180.8 294.7,185.4 294.8,183.0 294.8,186.8 294.9,188.9 295.0,189.2 295.1,192.2 295.1,192.1 295.2,195.1 295.3,193.2 295.4,199.9 295.5,198.2 295.6,202.2 295.6,200.8 295.7,204.8 295.8,203.7 295.9,206.6 296.0,207.1 296.0,201.7 296.1,203.5 296.1,199.6 296.2,200.4 296.2,196.8 296.3,197.9 296.3,192.4 296.4,194.5 296.4,190.8 296.5,191.0 296.5,187.2 296.6,189.0 296.6,183.3 296.7,185.5 296.7,180.2 296.8,183.0 296.8,178.0 296.9,179.5 296.9,174.9 297.0,177.2 297.0,172.1 297.1,174.2 297.1,169.0 297.2,170.2 297.2,165.8 297.3,168.2 297.3,163.8 297.4,164.6 297.4,160.0 297.5,162.6 297.5,155.9 297.6,158.4 297.6,153.0 297.7,156.4 297.7,151.4 297.8,152.6 297.8,148.7 297.9,150.4 297.9,144.5 298.0,147.6 298.0,141.2 298.1,144.1 298.1,138.3 298.2,140.8 298.2,136.7 298.3,137.9 298.3,133.9 298.4,133.9 298.4,129.2 298.5,130.7 298.5,127.7 298.6,127.0 298.7,129.3 298.7,127.5 298.8,132.5 298.9,132.5 298.9,137.0 299.0,135.3 299.1,140.1 299.1,137.1 299.2,143.1 299.3,139.5 299.3,145.5 299.4,142.8 299.5,147.3 299.6,145.9 299.6,151.4 299.7,149.1 299.8,153.6 299.8,152.1 299.9,158.5 300.0,156.6 300.0,160.1 300.1,158.5 300.2,164.3 300.2,162.3 300.3,164.9 300.4,167.4 300.5,166.8 300.6,171.4 300.6,168.7 300.7,173.9 300.8,172.6 300.9,176.9 301.0,175.6 301.1,180.0 301.2,179.2 301.3,183.2 301.4,180.3 301.4,186.0 301.5,183.8 301.6,188.4 301.7,186.9 301.8,192.8 301.9,190.0 302.0,195.3 302.0,193.4 302.1,198.6 302.2,195.5 302.3,200.5 302.4,201.1 304.6,200.3 306.8,201.1 309.0,202.2 309.0,202.9 309.1,196.6 309.1,199.4 309.2,194.6 309.2,196.9 309.2,192.2 309.3,192.8 309.3,189.2 309.4,190.5 309.4,185.9 309.4,186.7 309.5,182.0 309.5,185.3 309.6,179.9 309.6,181.8 309.7,176.7 309.7,179.1 309.7,173.3 309.8,174.8 309.8,171.1 309.9,171.2 309.9,167.5 309.9,169.0 310.0,165.2 310.0,166.0 310.1,161.8 310.1,163.9 310.1,159.2 310.2,161.4 310.2,155.5 310.3,157.5 310.3,152.5 310.3,155.0 310.4,148.7 310.4,151.4 310.5,146.4 310.5,148.7 310.5,142.6 310.6,145.0 310.6,139.8 310.7,143.3 310.7,137.4 310.8,138.6 310.8,135.0 310.8,136.7 310.9,131.0 310.9,134.2 311.0,127.5 311.0,129.6 311.0,126.0 311.1,126.7 311.1,123.0 311.2,124.6 311.2,121.0 311.4,120.1 311.6,126.8 311.8,124.6 312.0,129.9 312.2,127.7 312.4,132.1 312.6,129.9 312.8,134.5 313.0,134.6 313.2,139.3 313.4,138.5 313.4,138.8 313.5,142.9 313.5,141.3 313.5,146.7 313.6,145.6 313.6,149.0 313.6,147.7 313.7,152.4 313.7,151.3 313.7,155.7 313.7,152.7 313.8,158.4 313.8,156.7 313.8,160.8 313.9,160.4 313.9,165.1 313.9,163.8 314.0,168.7 314.0,165.1 314.0,170.0 314.1,168.1 314.1,173.7 314.1,171.6 314.2,177.6 314.2,175.7 314.2,180.5 314.2,178.0 314.3,183.9 314.3,181.9 314.3,186.9 314.4,183.4 314.4,189.8 314.4,187.5 314.5,191.6 314.5,192.3 314.6,189.1 314.6,190.6 314.7,185.6 314.8,188.3 314.8,182.9 314.9,184.2 315.0,179.7 315.0,182.1 315.1,177.7 315.1,179.7 315.2,173.6 315.3,174.9 315.3,169.9 315.4,171.9 315.5,168.2 315.5,170.2 315.6,164.6 315.7,166.8 315.7,161.5 315.8,163.5 315.9,159.2 315.9,159.9 316.0,156.7 316.1,158.0 316.1,152.1 316.2,154.6 316.2,149.1 316.3,151.2 316.4,147.1 316.4,148.2 316.5,142.7 316.6,144.4 316.6,140.5 316.7,140.7 316.9,140.2 317.0,135.1 317.2,137.1 317.4,132.8 317.5,134.0 317.7,129.1 317.9,131.5 318.1,126.2 318.2,128.4 318.4,124.3 318.4,125.0 318.5,128.5 318.5,128.1 318.5,131.2 318.6,129.6 318.6,135.6 318.6,133.9 318.7,137.4 318.7,136.4 318.7,141.7 318.8,138.6 318.8,144.7 318.8,142.1 318.8,146.4 318.9,145.6 318.9,149.5 318.9,148.3 319.0,153.4 319.0,152.1 319.0,155.7 319.1,153.8 319.1,158.2 319.1,156.8 319.2,163.2 319.2,159.5 319.2,165.1 319.3,163.4 319.3,168.6 319.3,166.2 319.4,172.5 319.4,169.1 319.4,174.0 319.5,171.8 319.5,177.4 319.5,175.4 319.6,181.0 319.6,179.8 319.6,184.1 319.6,181.3 319.7,186.5 319.7,184.6 319.7,189.5 319.8,188.4 319.8,192.7 319.8,191.8 319.9,195.6 319.9,193.5 319.9,198.5 320.0,196.7 320.0,200.0 321.9,198.7 322.1,199.8 322.4,193.0 322.6,194.8 322.8,190.0 323.1,192.8 323.3,188.5 323.5,189.0 323.8,185.0 324.0,185.2 324.2,181.1 324.5,184.0 324.7,178.5 324.9,180.7 325.2,174.5 325.4,175.0 325.5,177.4 325.6,175.6 325.8,181.6 325.9,178.6 326.0,185.0 326.1,182.1 326.3,187.2 326.4,185.1 326.5,191.7 326.6,188.1 326.8,193.7 326.9,191.5 327.0,196.9 327.1,196.0 327.3,199.0 327.4,199.2 327.5,201.5 327.6,201.0 327.7,197.5 327.8,198.6 327.9,193.3 328.0,195.6 328.2,190.8 328.3,192.8 328.4,188.0 328.5,189.3 328.6,184.0 328.7,186.1 328.8,182.2 328.9,184.2 329.0,177.9 329.1,180.0 329.2,175.7 329.4,177.3 329.5,172.1 329.6,173.5 329.7,170.4 329.8,170.4 329.9,165.6 330.0,167.2 330.1,163.2 330.2,164.3 330.3,160.7 330.5,161.2 330.6,157.2 330.7,158.1 330.8,155.0 330.9,154.9 331.0,152.6 331.1,153.2 331.2,157.3 331.2,156.4 331.3,159.2 331.4,158.6 331.5,163.1 331.6,161.0 331.6,165.3 331.7,164.7 331.8,169.1 331.9,168.6 332.0,173.4 332.1,171.1 332.1,174.5 332.2,173.6 332.3,177.7 332.4,176.3 332.5,181.1 332.5,180.4 332.6,183.4 332.7,182.1 332.8,186.9 332.9,185.0 332.9,190.4 333.0,187.6 333.1,191.8 333.8,194.4 334.5,193.4 335.2,197.1 335.9,194.9 336.6,198.7 336.7,199.1 336.8,194.3 336.9,194.9 336.9,190.5 337.0,193.8 337.1,187.6 337.2,188.5 337.3,185.8 337.4,185.7 337.5,182.4 337.5,182.5 337.6,179.6 337.7,180.8 337.8,174.7 337.9,176.7 338.0,171.5 338.1,174.3 338.1,168.8 338.2,172.2 338.3,165.4 338.4,167.2 338.5,163.8 338.6,165.4 338.6,159.3 338.7,161.2 338.8,157.7 338.9,159.8 339.0,155.0 339.1,155.7 339.2,151.4 339.2,153.3 339.3,147.0 339.4,149.1 339.5,144.4 339.6,147.3 339.7,141.1 339.8,143.8 339.8,137.9 339.9,140.3 340.0,135.9 340.1,135.9 340.2,138.5 340.2,136.6 340.3,142.1 340.3,140.8 340.4,144.4 340.4,142.8 340.5,148.4 340.6,145.8 340.6,150.9 340.7,149.4 340.7,153.4 340.8,151.9 340.8,156.2 340.9,155.4 341.0,160.8 341.0,158.0 341.1,162.4 341.1,162.0 341.2,167.1 341.2,164.1 341.3,170.2 341.3,166.6 341.4,172.2 341.5,169.6 341.5,175.9 341.6,173.9 341.6,178.1 341.7,177.5 341.7,181.2 341.8,178.5 341.9,183.5 341.9,182.4 342.0,186.6 342.0,186.5 342.1,190.8 342.1,189.2 342.2,191.8 342.3,190.9 342.4,187.8 342.4,189.1 342.5,183.7 342.6,184.6 342.7,181.4 342.7,183.7 342.8,178.3 342.9,179.7 343.0,174.8 343.1,177.0 343.1,171.3 343.2,174.0 343.3,168.3 343.4,169.5 343.4,166.0 343.5,166.2 343.6,161.5 343.7,163.1 343.8,160.1 343.8,161.9 343.9,156.7 344.0,158.7 344.1,153.8 344.1,154.6 344.2,150.4 344.3,149.9 344.4,153.8 344.4,151.0 344.5,156.4 344.5,153.6 344.6,159.9 344.6,157.6 344.7,162.3 344.7,160.4 344.8,164.2 344.8,162.5 344.9,168.3 344.9,165.6 345.0,170.5 345.1,169.2 345.1,174.1 345.2,171.8 345.2,176.2 345.3,175.6 345.3,180.1 345.4,179.3 345.4,183.3 345.5,180.8 345.5,186.0 345.6,184.0 345.6,189.4 345.7,189.0 345.8,186.4 345.8,187.3 345.9,181.7 345.9,184.3 346.0,179.9 346.0,180.7 346.1,177.4 346.2,177.8 346.2,172.8 346.3,176.1 346.3,169.9 346.4,173.6 346.4,167.4 346.5,170.5 346.6,164.6 346.6,166.3 346.7,160.6 346.7,164.4 346.8,157.6 346.8,160.4 346.9,155.0 347.0,157.2 347.0,151.4 347.1,155.3 347.1,150.0 347.2,152.4 347.2,147.2 347.3,147.5 347.4,143.0 347.4,144.9 347.5,140.4 347.5,142.6 347.6,138.5 347.7,139.8 347.7,134.9 347.8,136.1 347.8,131.7 347.9,133.8 347.9,127.8 348.0,129.7 348.1,126.2 348.1,126.7 348.2,122.5 348.2,123.2 348.3,120.1 348.3,121.7 348.4,115.8 348.5,119.2 348.5,112.2 348.6,115.9 348.6,110.5 348.7,111.3 348.7,107.6 348.8,109.0 348.9,104.1 348.9,106.1 349.0,101.5 349.0,103.8 349.1,98.6 349.1,99.9 349.2,96.8 349.2,95.8 349.3,102.2 349.3,100.1 349.3,103.9 349.4,102.0 349.4,106.4 349.5,106.5 349.5,110.6 349.5,108.6 349.6,112.8 349.6,112.7 349.6,115.9 349.7,114.1 349.7,119.5 349.7,116.6 349.8,123.2 349.8,119.7 349.8,124.6 349.9,124.4 349.9,127.5 350.0,126.9 350.0,131.3 350.0,130.8 350.1,134.7 350.1,133.7 350.1,137.2 350.2,136.4 350.2,141.3 350.2,139.0 350.3,143.1 350.3,142.8 350.4,146.5 350.4,144.5 350.4,150.1 350.5,146.9 350.5,153.4 350.5,151.4 350.6,154.9 350.6,153.3 350.6,159.4 350.7,156.9 350.7,162.5 350.7,159.8 350.8,164.3 350.8,163.6 350.9,166.7 350.9,165.6 350.9,171.7 351.0,168.0 351.0,173.7 351.0,171.6 351.1,177.8 351.1,174.2 351.1,180.0 351.2,178.2 351.2,182.9 351.2,181.7 351.3,185.1 351.3,183.6 351.4,190.0 351.4,186.9 351.4,191.7 351.5,190.3 351.5,193.2 351.6,193.3 351.6,187.8 351.7,190.2 351.8,184.5 351.8,186.6 351.9,182.9 351.9,184.4 352.0,179.6 352.1,182.1 352.1,175.7 352.2,179.2 352.3,173.2 352.3,174.2 352.4,170.2 352.4,172.3 352.5,167.4 352.6,168.7 352.6,163.9 352.7,167.1 352.8,162.2 352.8,163.6 352.9,158.6 352.9,160.2 353.0,154.4 353.1,158.2 353.1,151.9 353.2,153.4 353.3,148.3 353.3,150.4 353.4,146.5 353.4,148.8 353.5,143.6 353.6,144.5 353.6,139.2 353.7,143.0 353.8,137.6 353.8,138.8 353.9,134.6 354.0,135.2 354.0,131.7 354.1,134.1 354.1,129.1 354.2,129.4 354.3,125.8 354.3,126.0 354.4,122.0 354.5,124.5 354.5,118.3 354.6,121.2 354.6,115.3 354.7,116.8 354.8,113.5 354.8,115.9 354.9,111.0 355.0,111.3 355.0,107.0 355.1,108.3 355.1,103.9 355.2,104.8 355.3,101.5 355.3,103.8 355.4,99.6 355.4,100.2 355.4,105.2 355.5,103.2 355.5,108.5 355.5,105.1 355.5,110.7 355.6,109.3 355.6,112.4 355.6,111.0 355.6,115.7 355.7,115.3 355.7,120.2 355.7,116.8 355.7,121.5 355.8,119.6 355.8,125.6 355.8,124.0 355.8,127.7 355.9,127.0 355.9,132.7 355.9,130.3 355.9,133.8 356.0,133.6 356.0,136.9 356.0,136.2 356.0,141.7 356.1,139.8 356.1,143.1 356.1,140.9 356.1,147.9 356.1,143.9 356.2,149.3 356.2,148.3 356.2,153.9 356.2,151.1 356.3,156.4 356.3,154.5 356.3,157.9 356.3,157.4 356.4,162.5 356.4,159.5 356.4,165.2 356.4,163.2 356.5,168.1 356.5,166.3 356.5,171.2 356.5,168.5 356.6,173.4 356.6,172.1 356.6,178.1 356.6,174.5 356.7,179.5 356.7,177.3 356.7,184.0 356.7,182.1 356.8,185.7 356.8,185.1 356.8,187.6 356.9,186.7 356.9,181.8 357.0,184.5 357.1,178.9 357.1,180.7 357.2,177.8 357.3,179.3 357.4,172.9 357.4,176.5 357.5,170.1 357.6,172.4 357.6,166.8 357.7,168.3 357.8,164.3 357.9,166.0 357.9,162.1 358.0,163.3 358.1,158.6 358.1,160.0 358.2,156.8 358.7,157.0 359.1,161.3 359.6,160.3 360.1,165.2 360.5,162.2 361.0,166.6 361.3,170.8 361.5,167.2 361.8,173.6 362.0,171.5 362.3,177.0 362.5,174.6 362.8,178.1 363.0,177.1 363.3,182.5 363.5,180.5 363.8,183.4 363.9,183.9 363.9,179.1 364.0,181.5 364.1,175.7 364.1,177.4 364.2,172.5 364.3,175.2 364.3,168.4 364.4,171.4 364.5,166.5 364.5,168.5 364.6,164.3 364.7,165.0 364.7,159.5 364.8,162.7 364.9,158.2 365.0,159.8 365.0,154.4 365.1,157.0 365.2,151.4 365.2,152.3 365.3,147.9 365.4,150.7 365.4,145.1 365.5,147.6 365.6,141.4 365.6,143.4 365.7,139.3 365.8,140.7 365.8,136.0 365.9,135.9 366.0,138.8 366.0,136.9 366.1,143.0 366.1,140.1 366.2,144.4 366.3,144.0 366.3,147.9 366.4,146.1 366.4,150.4 366.5,150.3 366.6,153.9 366.6,152.9 366.7,156.2 366.7,155.4 366.8,161.3 366.9,158.4 366.9,163.9 367.0,160.8 367.0,167.2 367.1,163.6 367.2,169.3 367.2,167.2 367.3,171.6 367.3,169.8 367.4,175.2 367.5,173.7 367.5,179.4 367.6,177.2 367.6,180.9 367.7,179.0 367.8,184.8 367.8,183.7 367.9,186.6 367.9,186.1 368.0,189.0 368.2,188.0 368.4,183.4 368.7,185.2 368.9,181.5 369.1,182.6 369.3,177.8 369.5,179.5 369.8,174.4 370.0,176.9 370.2,171.7 370.4,172.5 370.6,167.3 370.8,170.6 371.1,166.2 371.3,166.9 371.5,163.8 371.6,163.1 371.6,169.7 371.7,167.7 371.8,170.5 371.9,169.9 371.9,174.5 372.0,172.0 372.1,178.5 372.1,176.4 372.2,180.7 372.3,178.9 372.3,184.8 372.4,182.8 372.5,186.8 372.5,186.1 372.6,190.4 372.7,189.4 372.8,194.2 372.8,191.3 372.9,194.6 373.3,194.9 373.8,190.8 374.2,191.1 374.7,186.9 375.1,189.4 375.6,183.7 376.0,185.1 376.5,179.6 376.9,182.9 377.4,177.6 377.8,177.8 377.9,177.3 377.9,173.5 378.0,175.8 378.0,170.9 378.1,172.0 378.2,166.7 378.2,168.5 378.3,163.4 378.3,166.7 378.4,160.1 378.5,163.3 378.5,158.6 378.6,158.8 378.6,155.0 378.7,156.3 378.8,152.5 378.8,154.5 378.9,149.4 378.9,151.4 379.0,144.8 379.1,146.8 379.1,141.8 379.2,144.4 379.2,140.4 379.3,140.9 379.3,137.7 379.4,138.5 379.5,133.9 379.5,136.3 379.6,129.9 379.6,131.5 379.7,127.8 379.8,129.2 379.8,125.3 379.9,125.8 379.9,122.0 380.0,123.8 380.1,118.8 380.1,119.4 380.2,116.1 380.2,117.2 380.3,112.3 380.4,113.7 380.4,108.9 380.5,110.6 380.5,106.0 380.6,106.5 380.6,110.0 380.7,108.6 380.7,113.3 380.8,111.2 380.8,115.9 380.8,113.8 380.9,119.1 380.9,117.2 380.9,120.9 381.0,119.4 381.0,125.8 381.1,123.1 381.1,128.2 381.1,126.7 381.2,132.0 381.2,128.8 381.2,133.5 381.3,131.6 381.3,138.3 381.4,135.7 381.4,141.3 381.4,138.4 381.5,142.5 381.5,140.9 381.6,146.0 381.6,144.0 381.6,149.6 381.7,148.4 381.7,152.5 381.7,149.8 381.8,155.4 381.8,153.5 381.9,159.3 381.9,156.8 381.9,161.6 382.0,159.6 382.0,165.3 382.1,163.5 382.1,166.8 382.1,165.3 382.2,170.8 382.2,169.3 382.2,174.7 382.3,171.1 382.3,176.9 382.4,173.9 382.4,180.6 382.4,177.5 382.5,182.5 382.5,182.2 382.5,186.4 382.6,183.6 382.6,188.7 382.7,187.2 382.7,190.4 383.0,190.7 383.3,186.2 383.6,188.0 383.9,182.5 384.2,184.2 384.4,180.5 384.7,181.6 385.0,177.0 385.3,178.9 385.6,174.3 385.9,175.2 386.2,172.2 386.3,169.7 386.5,170.7 386.6,165.8 386.8,167.0 386.9,164.0 387.1,164.8 387.2,160.7 387.4,161.9 387.6,157.8 387.7,158.0 387.9,153.9 388.0,156.8 388.2,150.2 388.3,151.2 388.4,154.4 388.5,152.8 388.7,156.5 388.8,156.1 388.9,160.0 389.0,157.6 389.1,162.6 389.2,160.6 389.4,166.5 389.5,164.8 389.6,169.0 389.7,166.7 389.8,171.9 389.9,170.6 390.1,175.7 390.2,174.5 390.3,178.0 390.4,175.7 390.5,182.3 390.6,179.3 390.8,185.6 390.9,183.8 391.0,188.2 391.1,187.6 391.5,183.8 391.8,185.6 392.2,181.5 392.5,184.3 392.9,178.7 393.2,180.8 393.6,176.1 393.9,177.5 394.2,172.8 394.6,174.1 394.9,169.5 395.3,169.4 395.5,173.5 395.8,170.3 396.0,175.7 396.2,173.5 396.4,178.7 396.7,176.3 396.9,181.4 397.1,181.8 397.2,178.5 397.2,180.6 397.3,175.8 397.3,176.4 397.4,173.3 397.5,174.7 397.5,170.1 397.6,171.9 397.6,166.5 397.7,169.3 397.8,162.7 397.8,165.8 397.9,160.7 397.9,161.2 398.0,157.2 398.1,159.8 398.1,153.4 398.2,155.5 398.2,152.1 398.3,154.2 398.4,147.7 398.4,150.1 398.5,144.7 398.5,146.3 398.6,142.1 398.7,144.4 398.7,138.9 398.8,140.2 398.8,136.9 398.9,138.2 399.0,132.2 399.0,134.1 399.1,131.2 399.1,131.0 399.2,128.7 400.6,125.7 402.0,127.3 402.1,130.3 402.2,128.9 402.3,134.9 402.4,131.8 402.5,136.5 402.6,134.8 402.8,139.1 402.9,139.0 403.0,143.9 403.1,142.4 403.2,145.6 403.3,144.9 403.4,148.2 403.5,151.0 403.7,148.5 403.8,153.6 403.9,152.0 404.1,157.3 404.2,155.0 404.3,160.5 404.5,158.4 404.6,163.3 404.7,162.5 404.9,166.6 405.0,164.2 405.1,169.5 405.3,168.6 405.4,172.7 405.5,172.0 405.7,175.5 405.8,174.0 405.9,179.1 406.1,177.0 406.2,180.4 407.6,180.2 409.0,177.6 409.1,175.5 409.2,175.2 409.3,171.8 409.4,172.6 409.6,168.2 409.7,169.7 409.8,164.8 409.9,167.4 410.0,162.0 410.1,164.7 410.2,159.3 410.3,161.0 410.5,156.7 410.6,157.2 410.7,152.6 410.8,155.2 410.9,151.2 411.0,153.1 411.1,147.1 411.2,149.4 411.4,144.4 411.5,145.3 411.6,140.1 411.7,142.3 411.8,139.9 412.0,140.1 412.2,145.8 412.4,143.7 412.6,147.8 412.8,146.1 413.0,150.4 413.2,148.2 413.4,153.9 413.7,153.3 413.9,157.1 414.1,156.5 414.3,160.8 414.5,157.7 414.7,164.3 414.9,162.6 415.1,166.9 415.3,166.4 416.0,163.8 416.7,165.2 417.4,161.0 418.1,160.8 418.3,160.5 418.6,156.9 418.8,158.2 419.1,153.9 419.3,155.9 419.6,151.0 419.8,152.8 420.1,147.6 420.3,147.8 420.6,143.3 420.8,144.0 421.0,144.2 421.2,138.6 421.4,141.0 421.6,135.8 421.8,137.0 422.0,132.6 422.2,134.8 422.4,128.8 422.7,130.5 422.9,127.7 423.1,128.9 423.3,122.7 423.5,125.2 423.7,120.0 423.9,122.4 424.1,117.6 424.3,117.5 424.4,120.6 424.6,118.6 424.7,122.6 424.8,122.3 424.9,127.2 425.1,125.4 425.2,129.6 425.3,128.4 425.5,132.4 425.6,130.5 425.7,136.2 425.9,132.8 426.0,138.6 426.1,137.5 426.2,141.3 426.4,140.8 426.5,144.1 426.6,142.6 426.8,147.9 426.9,146.4 427.0,150.0 427.2,149.7 427.3,153.0 427.4,151.8 427.5,156.1 427.7,154.0 427.8,158.0 427.9,158.3 428.1,153.7 428.2,155.0 428.4,151.3 428.5,152.7 428.7,146.7 428.8,148.8 429.0,143.8 429.1,145.6 429.3,141.9 429.4,142.5 429.6,139.0 429.7,140.4 429.8,134.9 430.0,137.6 430.1,133.1 430.3,134.7 430.4,129.3 430.6,130.8 430.7,126.2 430.9,127.9 431.0,123.9 431.2,124.9 431.3,119.9 431.5,122.6 431.6,118.9 431.9,117.8 432.2,122.9 432.4,120.8 432.7,127.3 433.0,124.2 433.3,130.7 433.6,128.5 433.8,133.2 434.1,129.8 434.4,134.7 434.7,133.5 434.9,139.6 435.2,137.2 435.5,139.9 435.8,143.9 436.0,140.3 436.3,146.0 436.5,145.1 436.8,148.5 437.0,146.6 437.3,152.0 437.5,150.8 437.8,155.1 438.0,152.4 438.3,156.6 438.7,156.2 439.0,152.8 439.4,154.6 439.7,149.0 440.1,150.1 440.4,144.4 440.8,146.8 441.1,144.0 441.8,144.6 442.5,149.3 443.2,147.1 443.9,150.7 444.6,148.3 445.3,152.4 446.1,154.9 447.0,152.6 447.8,157.9 448.7,156.8 449.5,159.4 449.6,158.9 449.7,154.6 449.8,156.7 449.9,151.9 449.9,153.5 450.0,149.1 450.1,151.2 450.2,144.6 450.3,148.0 450.4,141.9 450.5,143.5 450.6,140.1 450.7,140.7 450.8,137.3 450.8,139.4 450.9,132.6 451.0,136.3 451.1,130.3 451.2,131.4 451.3,127.6 451.4,128.3 451.5,123.5 451.6,125.7 451.6,121.8 451.7,124.2 451.8,119.0 451.9,121.1 452.0,115.7 452.1,117.5 452.2,113.2 452.3,115.0 452.4,109.5 452.4,110.7 452.5,105.9 452.6,108.3 452.7,103.7 452.8,104.2 452.9,100.0 453.0,100.9 453.1,96.3 453.2,98.6 453.3,94.8 453.3,95.6 453.4,91.9 453.5,92.5 453.6,87.9 453.7,88.2 453.8,91.2 453.8,89.9 453.9,94.0 453.9,92.6 454.0,98.1 454.1,95.7 454.1,101.1 454.2,98.7 454.2,102.7 454.3,102.4 454.4,107.3 454.4,104.7 454.5,109.3 454.5,107.7 454.6,113.4 454.7,111.0 454.7,115.3 454.8,114.1 454.8,117.6 454.9,116.7 455.0,121.6 455.0,119.9 455.1,124.6 455.1,122.9 455.2,128.2 455.2,126.6 455.3,131.9 455.4,129.8 455.4,134.6 455.5,132.7 455.5,137.5 455.6,135.5 455.7,138.9 455.7,137.9 455.8,143.7 455.8,140.3 455.9,146.8 456.0,143.0 456.0,148.0 456.1,147.4 456.1,151.1 456.2,149.6 456.3,154.9 456.3,152.6 456.4,158.7 456.4,155.1 456.5,159.4 457.1,163.2 457.6,160.2 458.2,166.2 458.7,165.4 459.3,167.8 459.4,168.8 459.5,164.0 459.6,164.0 459.6,159.3 459.7,161.4 459.8,156.7 459.9,157.9 460.0,154.7 460.1,156.4 460.1,152.1 460.2,152.9 460.3,147.0 460.4,149.2 460.5,144.5 460.6,147.4 460.6,141.7 460.7,144.4 460.8,138.5 460.9,139.7 461.0,136.7 461.1,137.9 461.1,131.9 461.2,134.2 461.3,129.7 461.4,130.1 461.5,132.5 461.6,130.7 461.7,136.2 461.8,134.4 461.9,139.7 461.9,138.3 462.0,142.9 462.1,139.9 462.2,146.2 462.3,144.1 462.4,147.9 462.5,147.4 462.6,152.4 462.7,149.8 462.8,154.3 462.9,152.7 463.0,158.0 463.0,156.1 463.1,160.2 463.2,158.2 463.3,164.3 463.4,162.3 463.5,165.0 463.7,167.2 463.9,165.4 464.1,171.7 464.3,169.2 464.5,174.0 464.8,171.4 465.0,177.1 465.2,176.1 465.4,179.4 465.6,178.8 465.8,183.6 466.0,183.2 466.0,180.3 466.1,182.8 466.1,176.6 466.1,178.7 466.2,173.6 466.2,176.0 466.2,170.6 466.3,172.7 466.3,167.8 466.3,169.7 466.4,164.1 466.4,166.0 466.4,161.2 466.5,163.2 466.5,158.0 466.5,159.7 466.5,155.8 466.6,157.4 466.6,152.2 466.6,153.9 466.7,150.2 466.7,150.7 466.7,146.5 466.8,148.6 466.8,144.7 466.8,144.7 466.9,141.2 466.9,143.4 466.9,137.6 467.0,139.5 467.0,135.0 467.0,136.7 467.1,130.8 467.1,133.7 467.1,129.5 467.2,130.1 467.2,125.4 467.2,126.2 467.3,121.7 467.3,123.8 467.3,119.8 467.4,121.4 467.4,116.1 467.4,118.1 467.4,112.5 467.5,115.1 467.5,110.6 467.5,111.1 467.6,107.1 467.6,108.7 467.6,104.1 467.7,105.7 467.7,102.2 467.7,101.9 467.8,98.9 467.8,99.0 467.8,94.3 467.9,97.1 467.9,93.7 468.0,94.1 468.1,98.9 468.1,96.2 468.2,100.4 468.3,99.0 468.4,103.8 468.4,101.5 468.5,106.7 468.6,106.1 468.7,109.9 468.8,107.8 468.8,114.2 468.9,111.5 469.0,115.7 469.1,114.8 469.1,120.0 469.2,118.7 469.3,123.5 469.4,119.9 469.5,126.5 469.5,123.3 469.6,128.9 469.7,125.7 469.8,131.1 469.9,130.2 469.9,133.8 470.0,133.5 470.1,138.3 470.2,136.7 470.2,141.2 470.3,139.1 470.4,144.5 470.5,141.3 470.6,147.1 470.6,144.1 470.7,148.7 470.8,148.4 470.9,152.5 470.9,151.1 471.0,156.2 471.1,153.1 471.2,159.3 471.3,156.0 471.3,162.3 471.4,160.3 471.5,164.9 471.6,162.4 471.6,168.6 471.7,166.3 471.8,169.2 471.9,169.1 472.0,164.3 472.1,165.8 472.2,160.7 472.3,162.3 472.4,158.2 472.5,160.3 472.6,156.2 472.7,157.5 472.8,152.6 472.8,155.4 472.9,148.7 473.0,151.6 473.1,145.7 473.2,149.2 473.3,144.3 473.4,146.1 473.5,139.8 473.6,143.5 473.7,136.9 473.8,139.1 473.9,135.2 474.0,136.7 474.1,132.2 474.2,134.0 474.3,128.4 474.4,131.1 474.5,125.8 474.6,126.9 474.7,121.6 474.7,124.7 474.8,119.8 474.9,121.5 475.0,116.7 475.1,118.7 475.2,113.5 475.3,114.9 475.4,109.4 475.5,113.2 475.6,106.9 475.7,107.7 475.7,110.4 475.8,109.7 475.8,114.4 475.9,111.3 475.9,117.3 476.0,115.7 476.0,120.4 476.1,118.0 476.1,122.7 476.1,120.9 476.2,125.9 476.2,123.8 476.3,129.5 476.3,126.0 476.4,131.1 476.4,130.0 476.5,136.0 476.5,132.8 476.5,138.2 476.6,135.4 476.6,140.0 476.7,138.5 476.7,144.3 476.8,142.0 476.8,146.7 476.9,145.0 476.9,149.3 477.0,148.2 477.0,152.6 477.0,150.3 477.1,156.8 477.1,154.3 477.2,159.7 477.2,157.5 477.3,162.2 477.3,161.1 477.4,166.0 477.4,165.0 478.8,163.4 480.2,166.4 480.3,167.2 480.3,162.6 480.4,164.3 480.4,159.8 480.5,160.7 480.5,155.7 480.6,156.6 480.6,152.9 480.7,155.4 480.7,149.4 480.8,151.1 480.8,146.0 480.9,148.2 480.9,142.8 481.0,145.3 481.0,141.6 481.1,143.6 481.1,138.6 481.2,139.0 481.2,134.1 481.3,135.7 481.4,131.6 481.4,134.3 481.5,128.5 481.5,130.2 481.6,125.1 481.6,128.2 481.7,122.5 481.7,124.8 481.8,120.0 481.8,121.3 481.9,115.5 481.9,119.6 482.0,114.8 482.0,114.8 482.1,111.2 482.1,113.1 482.2,108.3 482.2,108.7 482.3,106.3 482.4,105.6 482.5,110.3 482.6,108.2 482.7,114.1 482.8,111.5 482.9,118.0 483.0,116.1 483.1,121.0 483.2,118.8 483.3,122.9 483.4,122.7 483.5,127.1 483.6,124.7 483.8,129.3 483.9,127.2 484.0,132.1 484.1,131.1 484.2,135.0 484.3,134.4 484.4,139.9 484.5,137.2 484.6,141.3 484.7,140.9 484.8,145.5 484.9,143.9 485.0,149.2 485.1,148.2 485.2,146.0 485.2,147.6 485.2,141.6 485.3,144.4 485.4,139.1 485.4,139.6 485.5,136.4 485.5,137.8 485.6,133.7 485.6,133.5 485.7,128.9 485.7,132.2 485.8,125.6 485.8,129.0 485.9,123.2 485.9,126.0 485.9,119.8 486.0,122.2 486.1,117.3 486.1,117.9 486.1,115.0 486.2,115.3 486.2,111.0 486.3,111.9 486.4,106.8 486.4,109.8 486.4,104.2 486.5,104.9 486.5,109.0 486.6,106.9 486.6,112.0 486.7,108.3 486.7,113.7 486.7,113.2 486.8,117.9 486.8,114.5 486.9,120.9 486.9,118.6 486.9,123.6 487.0,122.4 487.0,125.8 487.1,124.7 487.1,130.0 487.1,128.5 487.2,133.4 487.2,131.7 487.3,136.6 487.3,134.3 487.3,139.3 487.4,136.0 487.4,142.6 487.5,139.8 487.5,145.1 487.5,143.3 487.6,148.4 487.6,146.7 487.7,151.6 487.7,148.7 487.7,152.8 487.8,150.9 487.8,156.4 487.9,155.9 487.9,159.3 487.9,159.1 488.0,162.4 488.0,160.6 488.1,167.0 488.1,163.8 488.1,169.8 488.2,166.4 488.2,172.5 488.3,170.5 488.3,173.4 488.4,173.0 488.5,169.5 488.6,170.6 488.7,166.3 488.7,168.0 488.8,163.0 488.9,164.6 489.0,159.5 489.1,161.7 489.2,157.3 489.3,157.8 489.4,153.1 489.5,154.7 489.5,150.1 489.6,153.4 489.7,147.7 489.8,150.3 489.9,144.2 490.0,147.2 490.1,141.3 490.2,143.8 490.2,137.9 490.3,139.5 490.4,135.3 490.5,137.3 490.6,132.4 490.7,134.5 490.8,128.3 490.9,131.7 491.0,125.5 491.0,127.2 491.1,122.7 491.2,125.3 491.3,119.2 491.4,120.3 492.1,122.7 492.8,123.1 493.5,125.9 493.5,130.2 493.6,127.5 493.6,132.6 493.7,130.0 493.7,134.9 493.8,133.4 493.8,138.3 493.9,135.2 493.9,141.2 494.0,138.6 494.0,143.7 494.1,141.8 494.1,147.4 494.2,144.8 494.2,151.0 494.3,149.3 494.3,154.3 494.4,151.1 494.4,155.7 494.4,154.5 494.5,158.3 494.5,158.0 494.6,163.0 494.6,159.9 494.7,166.1 494.7,164.2 494.8,167.4 494.8,166.7 494.9,171.3 494.9,169.0 495.0,173.9 495.0,171.9 495.1,177.5 495.1,176.0 495.2,181.0 495.2,179.5 495.3,183.6 495.3,183.2 495.4,180.7 495.4,180.8 495.5,177.0 495.6,178.8 495.7,173.7 495.7,175.5 495.8,169.9 495.9,173.4 495.9,168.6 496.0,168.6 496.1,163.8 496.1,166.4 496.2,162.6 496.3,162.9 496.4,158.3 496.4,159.8 496.5,156.0 496.6,157.9 496.6,153.0 496.7,154.8 496.8,148.6 496.9,152.1 496.9,146.3 497.0,148.7 497.1,143.9 497.1,145.7 497.2,140.1 497.3,142.5 497.3,137.4 497.4,139.8 497.5,135.0 497.6,136.7 497.6,130.3 497.7,131.5 497.9,133.7 498.1,133.4 498.3,138.8 498.5,136.8 498.7,141.5 498.9,138.7 499.1,142.8 499.3,141.6 499.5,145.7 499.7,144.2 499.9,149.4 500.1,147.0 500.4,153.7 500.6,151.8 500.8,155.7 501.0,154.8 501.2,159.5 501.4,158.0 501.6,161.0 501.8,160.9 502.0,165.7 502.2,163.7 502.4,167.6 502.6,167.8 504.0,165.3 505.4,167.7 506.8,165.0 508.2,162.1 509.6,162.2 509.9,163.3 510.1,157.8 510.4,159.2 510.6,153.5 510.9,155.6 511.1,152.0 511.4,153.9 511.6,148.6 511.9,150.9 512.1,146.8 512.4,145.9 512.7,151.2 513.0,150.0 513.3,153.7 513.6,151.9 513.9,157.5 514.1,156.1 514.4,159.9 514.7,159.4 515.0,164.5 515.3,162.6 515.6,165.0 515.7,165.3 515.9,160.0 516.0,162.2 516.1,157.3 516.3,158.9 516.4,155.0 516.5,156.9 516.7,150.4 516.8,153.3 516.9,148.8 517.1,151.1 517.2,145.9 517.4,146.4 517.5,142.0 517.6,144.9 517.8,139.1 517.9,140.2 518.0,135.2 518.2,137.3 518.3,133.6 518.4,136.2 518.6,129.6 518.7,132.7 518.8,128.2 519.0,129.9 519.1,125.9 519.2,126.0 519.3,129.6 519.5,128.2 519.6,134.7 519.7,132.9 519.8,136.7 519.9,134.1 520.0,139.5 520.1,138.5 520.3,143.6 520.4,141.3 520.5,147.1 520.6,143.4 520.7,149.9 520.9,146.8 521.0,151.5 521.1,149.9 521.2,155.4 521.3,153.5 521.4,158.5 521.6,156.9 521.7,160.7 521.8,158.6 521.9,164.2 522.0,163.5 522.1,168.6 522.2,165.7 522.4,171.0 522.5,169.1 522.6,172.0 522.7,171.4 522.8,167.6 522.9,169.8 523.0,164.7 523.1,166.9 523.2,161.5 523.3,163.8 523.3,158.7 523.4,159.7 523.5,155.8 523.6,156.0 523.7,151.8 523.8,153.4 523.9,148.7 524.0,150.0 524.1,146.2 524.2,147.2 524.3,141.8 524.4,143.5 524.5,139.8 524.6,142.2 524.7,136.4 524.7,137.8 524.8,132.3 524.9,134.4 525.0,131.2 525.1,131.1 525.2,127.4 525.3,129.9 525.4,125.9 526.8,123.3 528.2,123.1 528.3,125.8 528.4,123.8 528.5,128.4 528.6,128.6 528.7,132.8 528.9,131.5 529.0,135.5 529.1,134.4 529.2,138.8 529.3,135.9 529.4,141.5 529.5,140.3 529.6,144.9 529.7,142.4 529.8,146.7 530.0,146.5 530.1,150.5 530.2,148.9 530.3,153.3 530.4,151.6 530.5,156.3 530.6,154.1 530.7,159.6 530.8,158.7 530.9,162.0 531.0,162.0 531.2,165.4 531.3,163.4 531.4,168.9 531.5,167.4 531.6,173.2 531.7,172.0 532.0,167.8 532.2,171.3 532.5,166.4 532.7,167.3 533.0,162.9 533.2,164.2 533.5,160.3 533.8,161.1 534.0,157.5 534.3,159.4 534.5,153.7 534.8,155.7 535.0,151.0 535.3,153.1 535.5,147.6 535.8,148.2 535.9,150.4 536.1,148.9 536.2,154.5 536.3,153.2 536.5,158.8 536.6,155.4 536.7,160.6 536.8,160.2 537.0,163.9 537.1,162.4 537.2,166.9 537.4,166.3 537.5,170.5 537.6,169.1 537.8,174.1 537.9,173.4 538.1,170.1 538.2,171.6 538.4,166.5 538.5,168.9 538.7,165.1 538.9,165.5 539.0,162.2 539.2,162.9 539.4,157.2 539.5,161.0 539.7,154.8 539.8,156.2 540.0,153.8 540.1,154.3 540.3,157.9 540.4,157.0 540.6,162.0 540.7,160.9 540.9,164.7 541.0,163.1 541.2,168.2 541.3,165.3 541.5,170.7 541.6,168.9 541.8,173.5 541.9,172.3 542.1,177.4 542.2,176.3 542.4,180.3 542.5,178.4 542.7,182.6 542.8,183.2 542.9,180.6 543.0,182.6 543.0,177.3 543.1,178.1 543.2,174.4 543.3,175.8 543.4,171.1 543.4,172.4 543.5,168.3 543.6,169.1 543.7,164.8 543.8,166.9 543.8,162.8 543.9,163.9 544.0,159.2 544.1,161.7 544.1,154.8 544.2,156.8 544.3,152.3 544.4,154.2 544.5,150.6 544.5,152.4 544.6,145.8 544.7,149.2 544.8,143.3 544.9,146.6 544.9,140.5 545.0,142.9 545.1,137.3 545.2,140.2 545.3,133.8 545.3,136.0 545.4,132.2 545.5,133.5 545.6,128.3 545.6,130.0 545.7,124.7 545.8,128.1 545.9,122.0 546.0,124.4 546.0,119.0 546.1,120.6 546.2,115.7 546.3,117.4 546.4,112.5 546.4,115.5 546.5,110.8 546.6,110.5 546.8,113.1 546.9,111.7 547.1,116.8 547.2,114.7 547.4,119.2 547.5,117.4 547.7,123.0 547.9,121.6 548.0,126.9 548.2,124.3 548.3,129.4 548.5,128.2 548.6,132.6 548.8,131.9 548.9,135.3 549.1,135.7 549.2,134.8 549.4,139.5 549.5,139.4 549.6,144.2 549.7,141.8 549.9,146.4 550.0,144.3 550.1,149.9 550.3,147.9 550.4,153.0 550.5,151.6 550.7,156.2 550.8,153.9 550.9,158.7 551.0,157.0 551.2,161.9 551.3,159.8 551.4,164.6 551.6,162.9 551.7,168.1 551.8,164.9 552.0,169.7 552.1,167.9 552.2,174.4 552.3,172.1 552.5,175.7 552.6,176.2 552.7,172.0 552.7,175.9 552.8,170.8 552.8,172.5 552.9,166.0 552.9,168.3 553.0,163.3 553.1,165.3 553.1,160.3 553.2,162.8 553.2,158.0 553.3,158.9 553.4,154.5 553.4,157.2 553.5,152.3 553.5,152.7 553.6,149.8 553.6,150.1 553.7,144.7 553.8,148.2 553.8,141.9 553.9,145.2 553.9,140.6 554.0,141.4 554.1,135.7 554.1,139.4 554.2,132.6 554.2,136.3 554.3,130.2 554.3,133.1 554.4,126.8 554.5,129.4 554.5,125.7 554.6,126.1 554.6,122.7 554.7,123.0 554.8,118.4 554.8,120.0 554.9,116.2 554.9,116.5 555.0,112.9 555.0,114.5 555.1,109.3 555.2,112.4 555.2,107.5 555.3,107.8 555.3,104.5 555.4,106.3 555.5,100.2 555.5,102.7 555.6,96.8 555.6,98.2 555.7,93.5 555.7,95.9 555.8,93.1 555.9,92.7 555.9,97.6 556.0,95.5 556.1,100.5 556.1,99.6 556.2,103.4 556.3,101.6 556.3,106.9 556.4,106.0 556.5,109.8 556.5,108.1 556.6,112.9 556.7,111.1 556.7,117.0 556.8,114.1 556.9,119.9 556.9,117.9 557.0,123.1 557.1,119.5 557.1,125.4 557.2,124.6 557.3,127.5 557.3,126.0 557.4,132.3 557.4,129.2 557.5,134.6 557.6,132.6 557.6,136.8 557.7,135.6 557.8,141.8 557.8,139.5 557.9,144.0 558.0,141.1 558.0,147.1 558.1,145.3 558.2,149.3 558.2,147.5 558.3,153.9 558.4,150.2 558.4,155.7 558.5,153.6 558.6,159.7 558.6,157.5 558.7,162.7 558.8,160.5 558.8,164.5 558.9,165.0 559.6,163.0 560.3,164.4 561.0,158.6 561.7,160.1 562.4,158.0 564.0,157.8 565.7,160.2 567.3,159.4 567.8,156.8 568.3,158.4 568.8,153.6 569.3,154.9 569.8,149.6 570.3,151.1 570.8,148.2 570.9,147.2 571.0,152.8 571.2,151.1 571.3,156.3 571.4,154.3 571.5,158.3 571.7,156.2 571.8,162.6 571.9,160.1 572.0,165.1 572.1,163.0 572.3,167.7 572.4,167.3 572.5,171.3 572.6,168.5 572.7,173.3 572.9,171.3 573.0,177.0 573.1,174.3 573.2,180.9 573.4,179.0 573.5,182.7 573.6,183.2 573.6,179.1 573.7,182.9 573.7,176.3 573.8,179.0 573.8,173.8 573.8,176.4 573.9,170.2 573.9,173.5 574.0,168.3 574.0,170.4 574.0,163.8 574.1,166.8 574.1,162.9 574.2,162.9 574.2,158.4 574.2,160.4 574.3,154.8 574.3,157.9 574.4,152.3 574.4,153.8 574.4,149.6 574.5,152.0 574.5,145.7 574.6,149.4 574.6,144.1 574.6,145.4 574.7,139.5 574.7,141.5 574.7,138.5 574.8,138.7 574.8,134.0 574.9,135.9 574.9,131.0 574.9,134.0 575.0,127.7 575.0,129.2 575.1,125.0 575.1,127.9 575.1,121.9 575.2,125.0 575.2,118.6 575.3,121.4 575.3,115.5 575.3,118.2 575.4,114.1 575.4,114.6 575.5,109.3 575.5,111.7 575.5,107.3 575.6,109.9 575.6,103.7 575.7,106.6 575.7,102.8 576.1,102.7 576.5,107.4 576.8,106.5 577.2,109.7 577.6,109.2 578.0,113.3 578.4,111.3 578.8,115.2 579.1,114.0 579.5,118.2 579.9,118.9 580.0,119.0 580.0,122.6 580.1,121.9 580.2,125.9 580.2,123.9 580.3,129.5 580.4,127.2 580.4,132.7 580.5,131.4 580.6,136.7 580.6,134.6 580.7,139.1 580.8,136.9 580.8,143.2 580.9,139.8 581.0,144.2 581.0,143.4 581.1,149.3 581.2,145.6 581.2,151.0 581.3,150.3 581.4,153.9 581.4,152.0 581.5,156.7 581.6,154.8 581.6,160.0 581.7,158.3 581.8,164.0 581.8,162.4 581.9,165.0 582.0,165.2 582.2,160.0 582.3,161.6 582.5,157.2 582.6,159.4 582.7,153.2 582.9,155.6 583.0,151.9 583.1,153.0 583.3,147.9 583.4,149.9 583.6,144.1 583.7,146.2 583.8,142.0 584.0,143.8 584.1,139.7 584.2,140.7 584.4,136.1 584.5,137.5 584.7,132.3 584.8,135.8 584.9,128.8 585.1,131.1 585.2,127.1 585.4,129.7 585.5,124.7 585.6,124.7 585.8,121.7 585.9,123.6 586.0,117.7 586.2,119.4 586.3,115.6 586.5,117.4 586.6,113.3 586.7,112.0 586.7,118.4 586.8,115.2 586.9,121.2 586.9,119.6 587.0,123.4 587.1,122.7 587.1,126.3 587.2,125.6 587.3,129.1 587.3,129.3 587.4,134.1 587.5,130.6 587.5,136.9 587.6,134.7 587.7,139.1 587.7,137.3 587.8,142.9 587.8,140.9 587.9,145.4 588.0,143.4 588.0,149.1 588.1,146.9 588.2,150.3 588.2,149.8 588.3,155.3 588.4,153.3 588.4,157.7 588.5,156.4 588.6,160.0 588.6,158.4 588.7,162.6 588.8,161.8 588.8,166.8 588.9,166.4 589.0,163.5 589.1,165.6 589.1,159.4 589.2,161.6 589.3,156.6 589.4,159.6 589.5,154.0 589.5,156.3 589.6,151.0 589.7,153.6 589.8,147.8 589.9,149.5 590.0,144.8 590.0,147.5 590.1,142.2 590.2,144.9 590.3,139.6 590.4,141.1 590.4,136.0 590.5,138.2 590.6,133.8 590.7,135.4 590.8,131.0 590.8,132.1 590.9,127.2 591.0,127.3 591.2,130.9 591.4,127.8 591.5,134.6 591.7,132.2 591.9,137.4 592.0,134.7 592.2,139.5 592.4,138.6 592.6,143.3 592.8,141.2 592.9,144.9 593.1,144.0 593.3,147.8 593.5,147.0 593.6,151.0 593.8,149.5 594.0,154.1 594.1,152.0 594.3,158.4 594.5,154.6 594.7,160.1 594.9,158.1 595.0,163.9 595.2,161.0 595.4,166.2 595.5,165.2 595.7,170.0 595.9,169.2 596.0,165.6 596.1,167.5 596.2,162.6 596.3,163.8 596.4,159.3 596.5,162.6 596.5,155.8 596.6,157.8 596.7,153.4 596.8,156.2 596.9,151.5 597.0,152.8 597.1,148.4 597.2,148.9 597.3,145.7 597.4,146.0 597.5,140.8 597.6,143.6 597.6,137.9 597.7,141.4 597.8,136.2 597.9,138.1 598.0,131.5 598.1,134.6 598.2,129.7 598.3,130.5 598.4,126.4 598.5,127.9 598.6,123.8 598.7,125.5 598.8,119.9 598.8,121.5 598.9,117.9 599.0,119.0 599.1,113.6 599.2,116.3 599.3,110.7 599.4,111.2 599.5,115.3 599.6,112.0 599.8,117.3 599.9,115.0 600.0,120.8 600.1,119.0 600.2,122.7 600.3,121.9 600.4,127.0 600.6,124.1 600.7,129.1 600.8,127.6 600.9,131.6 601.0,130.5 601.1,135.5 601.3,133.1 601.4,139.4 601.5,137.8 601.6,142.7 601.7,140.5 601.9,145.7 602.0,141.7 602.1,147.1 602.2,146.3 602.3,149.9 602.4,147.9 602.5,154.3 602.7,150.8 602.8,157.5 602.9,156.6 603.1,153.7 603.4,155.7 603.6,150.5 603.8,151.6 604.1,147.2 604.3,149.2 604.5,144.3 604.8,145.8 605.0,140.5 605.2,143.1 605.5,137.6 605.7,139.1 605.9,134.3 606.2,136.1 606.4,132.9 606.6,132.2 606.7,136.7 606.9,136.4 607.0,139.5 607.2,138.9 607.3,144.4 607.5,141.5 607.6,146.9 607.8,143.7 608.0,150.3 608.1,148.2 608.3,152.0 608.4,150.6 608.6,155.0 608.7,153.5 608.9,157.6 609.0,157.0 609.2,162.1 609.4,160.3 609.5,163.8 609.7,162.2 609.8,166.9 610.0,164.8 610.1,170.8 610.3,167.8 610.4,173.7 610.6,173.4 610.8,170.2 610.9,171.5 611.1,168.1 611.3,170.0 611.4,164.7 611.6,164.9 611.8,160.0 611.9,162.9 612.1,157.7 612.3,160.7 612.4,154.3 612.6,156.1 612.8,152.3 612.9,154.0 613.1,148.3 613.3,149.9 613.4,146.2 613.6,147.5 613.8,143.6 613.9,145.1 614.1,141.2 614.4,140.7 614.7,145.2 615.1,143.9 615.4,149.2 615.7,148.1 616.0,151.9 616.3,149.6 616.6,155.0 617.0,152.8 617.3,157.6 617.6,158.0 617.6,153.7 617.7,157.0 617.7,151.7 617.8,152.6 617.8,149.1 617.9,149.5 617.9,145.9 618.0,146.9 618.0,143.4 618.1,144.2 618.1,140.6 618.2,141.1 618.2,136.8 618.3,137.8 618.3,133.6 618.3,136.6 618.4,130.2 618.4,133.6 618.5,128.6 618.5,130.0 618.6,125.3 618.6,127.6 618.7,121.7 618.7,124.1 618.8,118.1 618.8,119.7 618.9,116.6 618.9,118.3 619.0,112.0 619.0,114.4 619.0,110.7 619.1,110.5 619.1,106.0 619.2,109.0 619.2,103.9 619.3,105.9 619.3,100.0 619.4,101.4 619.4,97.1 619.5,100.6 619.5,93.8 619.6,97.4 619.6,91.8 619.7,93.7 619.7,90.3 619.8,91.0 619.9,95.7 620.0,92.8 620.1,97.9 620.2,97.2 620.3,100.4 620.4,99.5 620.5,105.1 620.6,102.4 620.7,108.0 620.8,106.1 620.9,109.7 621.0,109.0 621.1,112.8 621.2,110.8 621.3,116.0 621.4,114.9 621.5,119.8 621.6,117.6 621.7,123.3 621.8,120.1 621.9,126.2 622.0,123.8 622.1,128.3 622.2,126.8 622.3,132.6 622.4,128.7 622.5,132.9 622.6,136.2 622.7,134.2 622.8,138.1 622.9,136.4 623.0,142.3 623.1,140.4 623.3,144.4 623.4,143.3 623.5,148.6 623.6,146.8 623.7,150.6 623.8,149.2 623.9,154.1 624.0,153.4 624.1,156.2 624.2,155.6 624.3,160.6 624.4,158.6 624.5,162.1 624.7,161.9 624.8,165.5 624.9,163.7 625.0,168.6 625.1,166.2 625.2,171.7 625.3,172.0 625.4,169.5 625.6,169.6 625.7,165.8 625.8,167.7 625.9,162.1 626.1,165.0 626.2,159.6 626.3,160.6 626.5,155.7 626.6,158.0 626.7,154.3 626.8,154.8 627.0,150.4 627.1,150.8 627.5,154.4 627.8,152.6 628.1,156.6 628.5,156.4 628.9,160.4 629.2,157.9 629.6,162.4 629.9,162.0 630.2,166.9 630.6,166.2 630.7,162.5 630.8,164.0 630.9,158.9 631.0,162.3 631.1,156.5 631.2,158.4 631.3,152.9 631.4,155.6 631.5,150.6 631.6,153.8 631.7,147.1 631.8,149.0 631.9,145.7 632.0,146.0 632.1,142.7 632.2,144.5 632.3,138.7 632.4,140.6 632.5,136.0 632.6,137.6 632.7,132.9 632.8,135.1 632.9,129.9 633.0,132.4 633.2,125.9 633.3,129.3 633.4,123.1 633.5,124.7 633.6,120.8 633.7,123.2 633.8,117.9 633.9,119.6 634.0,115.2 634.1,117.1 634.2,111.9 634.3,113.0 634.4,107.8 634.5,109.4 634.6,106.6 634.7,107.1 634.8,102.5 634.9,103.4 635.0,99.6 635.1,101.8 635.2,95.5 635.3,99.2 635.4,92.7 635.5,93.5 635.6,95.7 635.6,95.2 635.7,99.6 635.7,99.0 635.8,103.4 635.9,101.4 635.9,106.4 636.0,103.6 636.0,108.3 636.1,107.4 636.2,111.8 636.2,110.7 636.3,113.8 636.4,113.3 636.4,117.4 636.5,116.7 636.5,121.7 636.6,118.6 636.7,123.9 636.7,123.3 636.8,127.7 636.8,125.8 636.9,129.2 637.0,127.7 637.0,134.1 637.1,131.9 637.1,136.3 637.2,133.5 637.3,139.3 637.3,137.7 637.4,141.5 637.4,141.5 637.5,146.2 637.6,142.8 637.6,147.7 637.7,146.2 637.8,150.7 637.8,149.0 637.9,154.2 637.9,152.2 638.0,157.6 638.1,156.6 638.1,160.7 638.2,158.3 638.2,162.5 638.3,163.4 638.3,161.2 638.4,161.5 638.4,156.7 638.5,160.1 638.5,154.3 638.5,156.8 638.6,150.7 638.6,152.5 638.6,148.2 638.7,150.7 638.7,145.1 638.8,146.9 638.8,141.5 638.8,143.1 638.9,139.1 638.9,140.9 639.0,135.8 639.0,138.3 639.0,133.5 639.1,134.7 639.1,130.0 639.2,130.9 639.2,126.3 639.2,129.8 639.3,123.7 639.3,125.5 639.4,121.1 639.4,122.6 639.4,118.1 639.5,119.2 639.5,113.8 639.5,116.3 639.6,112.4 639.6,114.0 639.7,109.8 639.7,108.9 640.1,111.8 640.4,110.2 640.8,116.0 641.1,114.0 641.5,117.5 641.8,115.6 642.1,120.5 642.5,121.5 642.8,118.4 643.0,120.1 643.3,114.0 643.5,116.6 643.8,112.5 644.1,113.2 644.3,109.1 644.6,108.9 644.7,111.3 644.7,109.3 644.8,115.1 644.8,112.7 644.9,117.6 644.9,115.9 645.0,122.1 645.1,119.9 645.1,125.2 645.2,122.8 645.2,127.7 645.3,124.4 645.3,130.1 645.4,127.4 645.5,133.0 645.5,131.5 645.6,137.2 645.6,134.2 645.7,138.3 645.7,138.2 645.8,142.4 645.9,140.8 645.9,144.3 646.0,142.8 646.0,147.9 646.1,145.6 646.1,151.1 646.2,150.2 646.3,154.2 646.3,151.8 646.4,158.3 646.4,155.4 646.5,159.9 646.5,158.5 646.6,162.9 646.7,161.9 646.7,165.4 646.8,165.7 646.8,170.4 646.9,167.0 646.9,171.9 647.0,170.4 647.1,174.5 647.1,172.9 647.2,178.8 647.2,176.2 647.3,181.4 647.3,179.9 647.4,182.9 647.6,183.8 647.8,178.6 648.0,179.2 648.2,176.1 648.4,178.1 648.6,172.8 648.8,173.2 648.9,169.1 649.1,170.3 649.3,166.5 649.5,168.8 649.7,163.9 649.9,165.0 650.1,162.0 650.4,160.9 650.7,167.6 651.0,164.2 651.3,168.9 651.7,167.0 652.0,173.1 652.3,172.0 652.6,177.2 652.9,176.0 653.0,173.7 653.0,175.8 653.1,170.9 653.2,170.7 653.2,166.9 653.3,168.9 653.3,163.6 653.4,166.4 653.5,161.7 653.5,163.1 653.6,158.2 653.7,160.7 653.7,154.5 653.8,157.1 653.8,152.6 653.9,154.5 654.0,149.2 654.0,150.0 654.1,145.9 654.2,148.2 654.2,143.1 654.3,144.5 654.3,139.5 654.4,141.0 654.5,137.6 654.5,138.4 654.6,135.4 654.8,134.8 654.9,140.5 655.1,138.9 655.2,143.5 655.4,140.5 655.5,146.6 655.7,145.0 655.8,148.2 656.0,146.2 656.2,152.7 656.3,150.9 656.5,155.8 656.6,153.2 656.8,158.5 656.9,156.7 657.1,161.6 657.3,159.7 657.4,164.0 657.6,162.8 657.7,167.8 657.9,164.7 658.0,169.9 658.2,169.4 658.3,172.8 658.5,173.2 658.6,169.4 658.7,171.5 658.7,168.0 658.8,169.6 658.9,164.1 659.0,164.8 659.0,160.3 659.1,162.7 659.2,157.0 659.3,160.4 659.4,154.1 659.4,157.5 659.5,152.0 659.6,154.3 659.7,148.7 659.7,150.9 659.8,146.3 659.9,147.8 660.0,143.6 660.1,145.2 660.1,140.3 660.2,141.5 660.3,135.7 660.4,139.1 660.4,132.7 660.5,135.1 660.6,131.4 660.7,133.3 660.8,127.8 660.8,130.0 660.9,124.5 661.0,126.0 661.1,121.2 661.1,123.2 661.2,117.6 661.3,120.3 661.4,115.9 661.5,117.1 661.5,113.1 661.6,114.8 661.7,109.8 661.8,110.6 661.8,105.9 661.9,107.5 662.0,104.7 662.2,103.6 662.3,110.1 662.5,107.9 662.7,112.3 662.8,110.0 663.0,115.5 663.2,113.3 663.3,118.1 663.5,116.4 663.7,121.7 663.8,118.7 664.0,124.1 664.2,121.9 664.3,126.8 664.5,126.1 664.7,129.9 664.8,127.7 665.0,132.6 665.1,132.1 665.3,136.5 665.5,134.2 665.6,139.9 665.8,138.5 666.0,142.3 666.1,140.2 666.3,144.8 666.5,144.6 666.6,149.3 666.8,147.9 667.0,150.7 667.1,150.5 667.3,155.4 667.5,153.1 667.6,157.5 667.8,155.7 668.0,161.5 668.1,159.8 668.3,162.0 668.4,161.5 668.5,157.5 668.6,159.4 668.7,155.0 668.8,155.9 668.9,150.9 669.0,151.9 669.0,148.4 669.1,148.9 669.2,144.0 669.3,145.7 669.4,142.6 669.5,144.0 669.6,139.4 669.7,140.8 669.8,136.1 669.9,138.7 670.0,132.5 670.1,134.2 670.2,130.3 670.3,131.4 670.4,125.9 670.4,128.8 670.5,123.0 670.6,125.3 670.7,119.4 670.8,122.0 670.9,117.2 671.0,120.1 671.1,115.9 671.8,112.2 672.5,114.7 673.2,109.4 673.9,112.6 674.6,108.9 674.7,109.2 674.7,113.4 674.8,111.2 674.9,116.4 674.9,115.2 675.0,119.9 675.1,118.9 675.1,122.3 675.2,119.9 675.3,125.3 675.3,123.4 675.4,127.9 675.5,127.6 675.5,132.1 675.6,130.6 675.7,136.1 675.8,132.2 675.8,137.7 675.9,137.1 676.0,142.2 676.0,138.7 676.1,144.3 676.2,143.5 676.2,146.3 676.3,145.1 676.4,150.8 676.4,148.7 676.5,153.1 676.6,152.2 676.6,156.3 676.7,156.4 676.9,153.4 677.1,155.4 677.3,150.5 677.5,151.8 677.7,147.9 677.9,149.5 678.1,143.3 678.3,145.5 678.5,140.7 678.7,143.5 678.9,139.0 679.1,139.4 679.3,134.6 679.5,136.5 679.7,133.3 680.0,133.4 680.2,128.7 680.4,131.0 680.6,127.6 680.8,127.8 681.0,123.4 681.2,125.3 681.4,121.3 681.6,123.2 681.8,117.1 682.0,118.9 682.2,115.0 682.4,115.9 682.6,112.7 682.8,113.7 683.0,110.3 683.2,110.6 683.3,115.4 683.5,112.4 683.7,117.6 683.8,116.6 684.0,120.7 684.2,119.2 684.3,123.0 684.5,122.4 684.7,126.6 684.8,126.1 685.0,130.8 685.2,127.8 685.3,133.1 685.5,132.2 685.7,136.6 685.8,134.5 686.0,140.0 686.1,136.9 686.3,141.6 686.5,139.7 686.6,145.4 686.8,143.6 687.0,148.8 687.1,146.7 687.3,150.4 687.5,150.4 687.6,154.5 687.8,152.9 688.0,156.5 688.1,156.4 688.3,160.8 688.5,158.9 688.6,164.1 688.8,160.5 689.0,167.0 689.1,165.0 689.3,167.6 690.0,166.3 690.1,167.5 690.3,161.3 690.4,164.2 690.6,157.7 690.7,160.0 690.9,155.9 691.0,158.3 691.1,153.0 691.3,153.5 691.4,150.6 691.6,151.5 691.7,147.0 691.9,149.4 692.0,144.6 692.2,145.1 692.3,140.0 692.4,142.6 692.6,136.7 692.7,139.7 692.9,133.6 693.0,137.4 693.2,130.6 693.3,133.5 693.4,128.7 693.6,130.4 693.7,126.0 693.9,126.7 694.0,122.4 694.2,124.1 694.3,119.6 694.5,120.3 694.6,115.3 694.7,117.9 694.9,113.4 695.0,114.9 695.2,110.2 695.3,112.8 695.5,106.3 695.6,107.5 695.8,110.9 696.0,107.9 696.2,113.5 696.4,112.0 696.6,116.5 696.7,113.9 696.9,119.0 697.1,118.7 697.3,123.5 697.5,121.7 697.7,125.0 697.9,124.4 698.1,129.0 698.3,127.3 698.5,131.5 698.7,130.6 698.8,134.7 699.0,134.0 699.2,138.2 699.4,137.0 699.6,140.6 699.8,141.1 699.8,140.0 699.9,146.6 699.9,144.2 699.9,148.9 700.0,147.8 700.0,150.7 700.0,151.6 700.1,153.1 700.1,154.6 700.1,156.1 700.2,157.6 700.2,159.1 700.2,160.6 700.3,162.1 700.3,163.6 700.3,165.1 700.4,166.6 700.4,168.1 700.4,169.6 700.5,171.1 700.5,172.6 700.5,174.1 700.6,175.6 700.6,177.1 700.6,178.6 700.7,180.1 700.7,181.7 700.7,183.2 700.8,184.7 700.8,186.2 700.8,187.7 700.9,189.2 700.9,190.7 700.9,192.2 701.0,193.7 701.0,195.2 701.0,196.7 701.1,198.2 701.1,199.7 701.1,201.2 701.2,202.7 701.2,204.2 701.2,205.7 701.3,207.2 701.3,208.7 701.3,210.2 701.4,211.7 701.4,213.2 701.4,214.7 701.5,216.2 701.5,217.7 701.5,219.2 701.6,220.7 701.6,222.2 701.6,223.7 701.7,225.2 701.7,226.7 701.7,228.2 701.8,229.7 701.8,231.2 701.8,232.7 701.9,234.2 701.9,235.7 701.9,237.2 702.0,238.7 702.0,240.2 702.0,241.7 702.1,243.2 702.1,244.7 702.1,246.2 702.2,247.7 702.2,249.2 702.2,250.7 702.3,252.2 702.3,253.7 702.3,255.2 702.4,256.7 702.4,258.2 702.4,259.7 702.5,261.2 702.5,262.8 702.5,264.3 702.6,265.8 702.6,267.3 702.6,268.8 702.7,270.3 702.7,271.8 702.7,273.3 702.8,274.8 702.8,276.3 702.8,277.8 702.9,279.3 702.9,280.8 702.9,282.3 703.0,283.8 703.0,285.3 703.0,286.8 703.1,288.3 703.1,289.8 703.1,291.3 703.2,292.8 703.2,294.3 703.2,295.8 703.3,297.3 703.3,298.8 703.3,300.3 703.4,301.8 703.4,303.3 704.4,304.7 705.4,306.1 706.3,304.7 707.3,303.3 708.2,301.9 709.1,303.3 710.1,304.7 711.0,306.1 711.0,304.6 711.1,303.1 711.1,301.6 711.1,300.1 711.2,298.6 711.2,297.1 711.2,295.6 711.3,294.1 711.3,292.6 711.3,291.1 711.4,289.6 711.4,288.1 711.4,286.6 711.5,285.1 711.5,283.6 711.5,282.1 711.6,280.6 711.6,279.1 711.6,277.6 711.7,276.1 711.7,274.6 711.7,273.1 711.8,271.6 711.8,270.1 711.8,268.6 711.9,267.1 711.9,265.6 711.9,264.0 712.0,262.5 712.0,261.0 712.0,259.5 712.1,258.0 712.1,256.5 712.1,255.0 712.2,253.5 712.2,252.0 712.2,250.5 712.3,249.0 712.3,247.5 712.3,246.0 712.4,244.5 712.4,243.0 712.4,241.5 712.5,240.0 712.5,238.5 712.5,237.0 712.6,235.5 712.6,234.0 712.6,232.5 712.7,231.0 712.7,229.5 712.7,228.0 712.8,226.5 712.8,225.0 712.8,223.5 712.9,222.0 712.9,220.5 712.9,219.0 713.0,217.5 713.0,216.0 713.0,214.5 713.1,213.0 713.1,211.5 713.1,210.0 713.2,208.5 713.2,207.0 713.2,205.5 713.3,204.0 713.3,202.5 713.3,201.0 713.4,199.5 713.4,198.0 713.4,196.5 713.5,195.0 713.5,193.5 713.5,192.0 713.6,190.5 713.6,189.0 713.6,187.5 713.7,186.0 713.7,184.5 713.7,182.9 713.8,181.4 713.8,179.9 713.8,178.4 713.9,176.9 713.9,175.4 713.9,173.9 714.0,172.4 714.0,170.9 714.0,169.4 714.1,167.9 714.1,166.4 714.1,164.9 714.2,163.4 714.2,161.9 714.2,160.4 714.3,158.9 714.3,157.4 714.3,155.9 714.4,154.4 714.4,152.9 714.4,151.4 714.5,149.9 714.5,148.4 714.5,146.9 714.6,145.4 714.6,143.9 715.0,145.5 715.4,147.0 715.7,148.6 716.1,150.1 716.5,151.7 716.9,153.2 717.2,154.8 717.6,156.3 718.0,157.9 718.2,156.4 718.3,154.9 718.5,153.4 718.6,151.9 718.8,150.4 718.9,148.9 719.1,147.4 719.2,145.9 719.4,144.4 719.6,142.9 719.7,141.4 719.9,139.9 720.0,138.4 720.2,136.8 720.3,135.3 720.5,133.8 720.6,132.3 720.8,130.8 721.0,129.3 721.1,127.8 721.3,126.3 721.4,124.8 721.6,123.3 721.7,121.8 721.9,120.3 722.0,118.8 722.2,117.3 722.6,118.8 723.0,120.4 723.5,121.9 723.9,123.5 724.3,125.0 724.7,126.5 725.1,128.1 725.6,129.6 726.0,131.2 726.4,132.7 726.9,131.3 727.5,129.9 728.0,128.5 728.6,127.1 729.1,125.7 729.4,127.2 729.6,128.7 729.9,130.2 730.1,131.7 730.4,133.1 730.7,134.6 730.9,136.1 731.2,137.6 731.5,139.1 731.7,140.6 732.0,142.1 732.2,143.6 732.5,145.0 732.8,146.5 733.0,148.0 733.3,149.5 733.3,151.0 733.4,152.5 733.4,154.0 733.4,155.5 733.4,157.0 733.5,158.5 733.5,160.0 733.5,161.5 733.5,163.1 733.6,164.6 733.6,166.1 733.6,167.6 733.6,169.1 733.7,170.6 733.7,172.1 733.7,173.6 733.8,175.1 733.8,176.6 733.8,178.1 733.8,179.6 733.9,181.1 733.9,182.6 733.9,184.1 733.9,185.6 734.0,187.1 734.0,188.7 734.0,190.2 734.1,191.7 734.1,193.2 734.1,194.7 734.1,196.2 734.2,197.7 734.2,199.2 734.2,200.7 734.2,202.2 734.3,203.7 734.3,205.2 734.3,206.7 734.4,208.2 734.4,209.7 734.4,211.2 734.4,212.7 734.5,214.2 734.5,215.8 734.5,217.3 734.5,218.8 734.6,220.3 734.6,221.8 734.6,223.3 734.6,224.8 734.7,226.3 734.7,227.8 734.7,229.3 734.8,230.8 734.8,232.3 734.8,233.8 734.8,235.3 734.9,236.8 734.9,238.3 734.9,239.8 734.9,241.4 735.0,242.9 735.0,244.4 735.0,245.9 735.0,247.4 735.1,248.9 735.1,250.4 735.1,251.9 735.2,253.4 735.2,254.9 735.2,256.4 735.2,257.9 735.3,259.4 735.3,260.9 735.3,262.4 735.3,263.9 735.4,265.4 735.4,267.0 735.4,268.5 735.5,270.0 735.5,271.5 735.5,273.0 735.5,274.5 735.6,276.0 735.6,277.5 735.6,279.0 735.6,280.5 735.7,282.0 735.7,283.5 735.7,285.0 735.8,286.5 735.8,288.0 735.8,289.5 735.8,291.0 735.9,292.5 735.9,294.1 735.9,295.6 735.9,297.1 736.0,298.6 736.0,300.1 736.0,301.6 736.0,303.1 736.1,304.6 736.1,306.1 737.9,306.1 739.6,306.1 741.4,306.1 743.1,306.1 743.1,304.6 743.2,303.1 743.2,301.6 743.3,300.1 743.3,298.6 743.4,297.1 743.4,295.6 743.5,294.1 743.5,292.6 743.5,291.1 743.6,289.6 743.6,288.1 743.7,286.6 743.7,285.1 743.8,283.6 743.8,282.1 743.9,280.6 743.9,279.1 743.9,277.6 744.0,276.1 744.0,274.6 744.1,273.1 744.1,271.6 744.2,270.1 744.2,268.6 744.2,267.1 744.3,265.6 744.3,264.1 744.4,262.6 744.4,261.1 744.5,259.6 744.5,258.1 744.6,256.6 744.6,255.1 744.6,253.6 744.7,252.1 744.7,250.6 744.8,249.1 744.8,247.6 744.9,246.1 744.9,244.6 745.0,243.1 745.0,241.6 745.0,240.1 745.1,238.6 745.1,237.1 745.2,235.6 745.2,234.0 745.3,232.5 745.3,231.0 745.4,229.5 745.4,228.0 745.4,226.5 745.5,225.0 745.5,223.5 745.6,222.0 745.6,220.5 745.7,219.0 745.7,217.5 745.8,216.0 745.8,214.5 745.8,213.0 745.9,211.5 745.9,210.0 746.0,208.5 746.0,207.0 746.1,205.5 746.1,204.0 746.2,202.5 746.2,201.0 746.2,199.5 746.3,198.0 746.3,196.5 746.4,195.0 746.4,193.5 746.5,192.0 746.5,190.5 746.5,189.0 746.6,187.5 746.6,186.0 746.7,184.5 746.7,183.0 746.8,181.5 746.8,180.0 746.9,178.5 746.9,177.0 746.9,175.5 747.0,174.0 747.0,172.5 747.1,171.0 747.1,169.5 747.2,168.0 747.2,166.5 747.3,165.0 747.3,163.5 749.4,162.8 751.5,162.1 752.4,160.7 753.2,159.3 754.1,157.9 755.0,156.5 755.9,155.1 756.8,153.7 757.6,152.3 758.5,150.9 759.9,152.3 761.3,153.7 762.7,155.1 763.0,153.5 763.3,152.0 763.6,150.4 763.9,148.9 764.3,147.3 764.6,145.8 764.9,144.2 765.2,142.7 765.5,141.1 765.5,142.6 765.6,144.1 765.6,145.6 765.6,147.1 765.6,148.6 765.7,150.1 765.7,151.6 765.7,153.1 765.7,154.6 765.8,156.1 765.8,157.6 765.8,159.1 765.8,160.6 765.9,162.1 765.9,163.6 765.9,165.1 765.9,166.6 766.0,168.1 766.0,169.6 766.0,171.1 766.0,172.6 766.1,174.1 766.1,175.6 766.1,177.1 766.1,178.6 766.2,180.1 766.2,181.6 766.2,183.1 766.2,184.6 766.3,186.1 766.3,187.6 766.3,189.1 766.3,190.6 766.4,192.1 766.4,193.6 766.4,195.1 766.4,196.6 766.5,198.1 766.5,199.6 766.5,201.1 766.5,202.6 766.6,204.1 766.6,205.6 766.6,207.1 766.6,208.6 766.7,210.1 766.7,211.6 766.7,213.1 766.7,214.6 766.8,216.1 766.8,217.6 766.8,219.1 766.8,220.6 766.9,222.1 766.9,223.6 766.9,225.1 767.0,226.6 767.0,228.1 767.0,229.6 767.0,231.1 767.1,232.6 767.1,234.1 767.1,235.6 767.1,237.1 767.2,238.6 767.2,240.1 767.2,241.6 767.2,243.1 767.3,244.6 767.3,246.1 767.3,247.6 767.3,249.1 767.4,250.6 767.4,252.1 767.4,253.6 767.4,255.1 767.5,256.6 767.5,258.1 767.5,259.6 767.5,261.1 767.6,262.6 767.6,264.1 767.6,265.6 767.6,267.1 767.7,268.6 767.7,270.1 767.7,271.6 767.7,273.1 767.8,274.6 767.8,276.1 767.8,277.6 767.8,279.1 767.9,280.6 767.9,282.1 767.9,283.6 767.9,285.1 768.0,286.6 768.0,288.1 768.0,289.6 768.0,291.1 768.1,292.6 768.1,294.1 768.1,295.6 768.1,297.1 768.2,298.6 768.2,300.1 768.2,301.6 768.2,303.1 768.3,304.6 768.3,306.1 770.0,306.4 771.7,306.7 773.3,306.9 775.0,307.2 776.7,307.5 776.8,306.0 776.8,304.5 776.9,303.0 776.9,301.5 777.0,300.0 777.0,298.5 777.1,297.0 777.2,295.5 777.2,294.0 777.3,292.5 777.3,291.0 777.4,289.5 777.4,288.0 777.5,286.5 777.6,285.0 777.6,283.5 777.7,282.0 777.7,280.5 777.8,279.0 777.8,277.5 777.9,276.0 778.0,274.5 778.0,273.0 778.1,271.5 778.1,270.0 778.2,268.5 778.2,267.0 778.3,265.5 778.4,264.0 778.4,262.5 778.5,261.0 778.5,259.5 778.6,258.0 778.6,256.5 778.7,255.0 778.7,253.5 778.8,252.0 778.9,250.5 778.9,249.0 779.0,247.5 779.0,246.0 779.1,244.5 779.1,243.0 779.2,241.5 779.3,240.0 779.3,238.5 779.4,237.0 779.4,235.5 779.5,234.0 779.5,232.5 779.6,231.0 779.7,229.5 779.7,228.0 779.8,226.5 779.8,225.0 779.9,223.5 779.9,222.0 780.0,220.5 780.1,219.0 780.1,217.5 780.2,216.0 780.2,214.4 780.3,212.9 780.3,211.4 780.4,209.9 780.5,208.4 780.5,206.9 780.6,205.4 780.6,203.9 780.7,202.4 780.7,200.9 780.8,199.4 780.9,197.9 780.9,196.4 781.0,194.9 781.0,193.4 781.1,191.9 781.1,190.4 781.2,188.9 781.3,187.4 781.3,185.9 781.4,184.4 781.4,182.9 781.5,181.4 781.5,179.9 781.6,178.4 781.7,176.9 781.7,175.4 781.8,173.9 781.8,172.4 781.9,170.9 781.9,169.4 782.0,167.9 782.0,166.4 782.1,164.9 782.2,163.4 782.2,161.9 782.3,160.4 782.3,158.9 782.4,157.4 782.4,155.9 782.5,154.4 782.6,152.9 782.6,151.4 782.7,149.9 782.7,148.4 782.8,146.9 782.8,145.4 782.9,143.9 783.0,142.4 783.0,140.9 783.1,139.4 783.1,137.9 783.2,136.4 783.2,134.9 783.3,133.4 783.4,131.9 783.4,130.4 783.5,128.9 783.5,127.4 783.6,125.9 783.6,124.4 783.7,122.9 783.9,124.4 784.1,126.0 784.2,127.5 784.4,129.1 784.6,130.6 784.8,132.1 785.0,133.7 785.1,135.2 785.3,136.8 785.5,138.3 785.7,139.8 785.9,141.4 786.0,142.9 786.2,144.5 786.4,146.0 786.6,147.5 786.8,149.1 786.9,150.6 787.1,152.2 787.3,153.7 787.5,152.1 787.7,150.6 787.9,149.0 788.2,147.5 788.4,145.9 788.6,144.4 788.8,142.8 789.0,141.3 789.2,139.7 789.5,138.1 789.7,136.6 789.9,135.0 790.1,133.5 790.3,131.9 790.6,130.4 790.8,128.8 791.0,127.3 791.2,125.7 791.4,127.2 791.5,128.7 791.7,130.3 791.8,131.8 792.0,133.3 792.2,134.8 792.3,136.4 792.5,137.9 792.6,139.4 792.8,140.9 793.0,142.4 793.1,144.0 793.3,145.5 793.5,147.0 793.6,148.5 793.8,150.0 793.9,151.6 794.1,153.1 794.3,154.6 794.4,156.1 794.6,157.7 794.7,159.2 794.9,160.7 795.3,159.1 795.7,157.6 796.1,156.0 796.5,154.5 796.9,152.9 797.3,151.4 797.7,149.8 798.1,148.3 798.5,146.7 798.5,148.2 798.6,149.7 798.6,151.2 798.6,152.7 798.7,154.2 798.7,155.7 798.7,157.2 798.8,158.7 798.8,160.2 798.8,161.7 798.9,163.2 798.9,164.7 798.9,166.2 798.9,167.8 799.0,169.3 799.0,170.8 799.0,172.3 799.1,173.8 799.1,175.3 799.1,176.8 799.2,178.3 799.2,179.8 799.2,181.3 799.3,182.8 799.3,184.3 799.3,185.8 799.4,187.3 799.4,188.8 799.4,190.3 799.5,191.8 799.5,193.3 799.5,194.8 799.6,196.3 799.6,197.8 799.6,199.3 799.7,200.8 799.7,202.3 799.7,203.8 799.8,205.3 799.8,206.9 799.8,208.4 799.8,209.9 799.9,211.4 799.9,212.9 799.9,214.4 800.0,215.9 800.0,217.4 800.0,218.9 800.1,220.4 800.1,221.9 800.1,223.4 800.2,224.9 800.2,226.4 800.2,227.9 800.3,229.4 800.3,230.9 800.3,232.4 800.4,233.9 800.4,235.4 800.4,236.9 800.5,238.4 800.5,239.9 800.5,241.4 800.6,242.9 800.6,244.4 800.6,245.9 800.6,247.5 800.7,249.0 800.7,250.5 800.7,252.0 800.8,253.5 800.8,255.0 800.8,256.5 800.9,258.0 800.9,259.5 800.9,261.0 801.0,262.5 801.0,264.0 801.0,265.5 801.1,267.0 801.1,268.5 801.1,270.0 801.2,271.5 801.2,273.0 801.2,274.5 801.3,276.0 801.3,277.5 801.3,279.0 801.4,280.5 801.4,282.0 801.4,283.5 801.5,285.0 801.5,286.6 801.5,288.1 801.5,289.6 801.6,291.1 801.6,292.6 801.6,294.1 801.7,295.6 801.7,297.1 801.7,298.6 801.8,300.1 801.8,301.6 801.8,303.1 801.9,304.6 801.9,306.1 803.6,306.1 805.2,306.1 806.9,306.1 808.5,306.1 810.2,306.1 810.2,304.6 810.3,303.1 810.3,301.6 810.3,300.1 810.3,298.6 810.4,297.1 810.4,295.6 810.4,294.1 810.5,292.6 810.5,291.1 810.5,289.6 810.6,288.1 810.6,286.6 810.6,285.1 810.6,283.6 810.7,282.1 810.7,280.6 810.7,279.1 810.8,277.6 810.8,276.1 810.8,274.6 810.9,273.1 810.9,271.6 810.9,270.0 810.9,268.5 811.0,267.0 811.0,265.5 811.0,264.0 811.1,262.5 811.1,261.0 811.1,259.5 811.2,258.0 811.2,256.5 811.2,255.0 811.2,253.5 811.3,252.0 811.3,250.5 811.3,249.0 811.4,247.5 811.4,246.0 811.4,244.5 811.5,243.0 811.5,241.5 811.5,240.0 811.5,238.5 811.6,237.0 811.6,235.5 811.6,234.0 811.7,232.5 811.7,231.0 811.7,229.5 811.7,228.0 811.8,226.5 811.8,225.0 811.8,223.5 811.9,222.0 811.9,220.5 811.9,219.0 812.0,217.5 812.0,216.0 812.0,214.5 812.0,213.0 812.1,211.5 812.1,210.0 812.1,208.5 812.2,207.0 812.2,205.5 812.2,204.0 812.3,202.5 812.3,201.0 812.3,199.4 812.3,197.9 812.4,196.4 812.4,194.9 812.4,193.4 812.5,191.9 812.5,190.4 812.5,188.9 812.6,187.4 812.6,185.9 812.6,184.4 812.6,182.9 812.7,181.4 812.7,179.9 812.7,178.4 812.8,176.9 812.8,175.4 812.8,173.9 812.9,172.4 812.9,170.9 812.9,169.4 812.9,167.9 813.0,166.4 813.0,164.9 815.1,164.2 817.2,163.5 817.7,161.9 818.1,160.4 818.6,158.8 819.1,157.3 819.5,155.7 820.0,154.2 820.5,152.6 820.9,151.1 821.4,149.5 822.8,148.1 824.2,146.7 824.3,145.2 824.3,143.7 824.4,142.2 824.5,140.7 824.5,139.1 824.6,137.6 824.7,136.1 824.7,134.6 824.8,133.1 824.9,131.6 824.9,130.1 825.0,128.6 825.1,127.1 825.2,125.6 825.2,124.0 825.3,122.5 825.4,121.0 825.4,119.5 825.5,118.0 825.6,116.5 825.6,115.0 825.7,113.5 825.8,112.0 825.8,110.5 825.9,108.9 826.0,107.4 826.0,105.9 826.1,104.4 826.2,102.9 826.2,101.4 826.3,99.9 826.4,98.4 826.4,96.9 826.5,95.4 826.6,93.8 826.6,92.3 826.7,90.8 826.8,89.3 826.9,87.8 826.9,86.3 827.0,84.8 827.1,83.3 827.1,81.8 827.2,80.3 827.3,78.8 827.3,77.2 827.4,75.7 827.5,74.2 827.5,72.7 827.6,71.2 827.7,72.7 827.8,74.3 827.8,75.8 827.9,77.4 828.0,78.9 828.1,80.4 828.1,82.0 828.2,83.5 828.3,85.1 828.4,86.6 828.4,88.2 828.5,89.7 828.6,91.2 828.7,92.8 828.7,94.3 828.8,95.9 828.9,97.4 829.0,98.9 829.0,100.5 829.1,102.0 829.2,103.6 829.3,105.1 829.3,106.7 829.4,108.2 829.5,109.7 829.6,111.3 829.6,112.8 829.7,114.4 829.8,115.9 829.8,117.4 829.9,118.9 829.9,120.4 830.0,121.9 830.0,123.4 830.1,125.0 830.1,126.5 830.2,128.0 830.2,129.5 830.2,131.0 830.3,132.5 830.3,134.0 830.4,135.5 830.4,137.0 830.5,138.5 830.5,140.1 830.6,141.6 830.6,143.1 830.6,144.6 830.7,146.1 830.7,147.6 830.8,149.1 830.8,150.6 830.9,152.1 830.9,153.6 831.0,155.1 831.0,156.7 831.0,158.2 831.1,159.7 831.1,161.2 831.2,162.7 831.2,164.2 831.3,165.7 831.3,167.2 831.4,168.7 831.4,170.2 831.4,171.8 831.5,173.3 831.5,174.8 831.6,176.3 831.6,177.8 831.7,179.3 831.7,180.8 831.8,182.3 831.8,183.8 831.8,185.3 831.9,186.8 831.9,188.4 832.0,189.9 832.0,191.4 832.1,192.9 832.1,194.4 832.2,195.9 832.2,197.4 832.2,198.9 832.3,200.4 832.3,201.9 832.4,203.5 832.4,205.0 832.5,206.5 832.5,208.0 832.6,209.5 832.6,211.0 832.6,212.5 832.7,214.0 832.7,215.5 832.8,217.0 832.8,218.5 832.9,220.1 832.9,221.6 833.0,223.1 833.0,224.6 833.0,226.1 833.1,227.6 833.1,229.1 833.2,230.6 833.2,232.1 833.3,233.6 833.3,235.2 833.4,236.7 833.4,238.2 833.4,239.7 833.5,241.2 833.5,242.7 833.6,244.2 833.6,245.7 833.7,247.2 833.7,248.7 833.8,250.2 833.8,251.8 833.8,253.3 833.9,254.8 833.9,256.3 834.0,257.8 834.0,259.3 834.1,260.8 834.1,262.3 834.2,263.8 834.2,265.3 834.2,266.9 834.3,268.4 834.3,269.9 834.4,271.4 834.4,272.9 834.5,274.4 834.5,275.9 834.6,277.4 834.6,278.9 834.6,280.4 834.7,281.9 834.7,283.5 834.8,285.0 834.8,286.5 834.9,288.0 834.9,289.5 835.0,291.0 835.0,292.5 835.0,294.0 835.1,295.5 835.1,297.0 835.2,298.6 835.2,300.1 835.3,301.6 835.3,303.1 835.4,304.6 835.4,306.1 837.1,306.1 838.9,306.1 840.6,306.1 842.4,306.1 842.4,304.6 842.5,303.1 842.5,301.6 842.6,300.1 842.6,298.6 842.7,297.1 842.7,295.6 842.8,294.1 842.8,292.6 842.9,291.0 842.9,289.5 843.0,288.0 843.0,286.5 843.1,285.0 843.1,283.5 843.2,282.0 843.2,280.5 843.3,279.0 843.3,277.5 843.4,276.0 843.4,274.5 843.5,273.0 843.5,271.5 843.6,270.0 843.6,268.5 843.7,267.0 843.7,265.5 843.8,264.0 843.8,262.4 843.9,260.9 843.9,259.4 844.0,257.9 844.0,256.4 844.1,254.9 844.1,253.4 844.2,251.9 844.2,250.4 844.3,248.9 844.3,247.4 844.4,245.9 844.4,244.4 844.5,242.9 844.5,241.4 844.5,239.9 844.6,238.4 844.6,236.9 844.7,235.3 844.7,233.8 844.8,232.3 844.8,230.8 844.9,229.3 844.9,227.8 845.0,226.3 845.0,224.8 845.1,223.3 845.1,221.8 845.2,220.3 845.2,218.8 845.3,217.3 845.3,215.8 845.4,214.3 845.4,212.8 845.5,211.3 845.5,209.8 845.6,208.3 845.6,206.7 845.7,205.2 845.7,203.7 845.8,202.2 845.8,200.7 845.9,199.2 845.9,197.7 846.0,196.2 846.0,194.7 846.1,193.2 846.1,191.7 846.2,190.2 846.2,188.7 846.3,187.2 846.3,185.7 846.4,184.2 846.4,182.7 846.5,181.2 846.5,179.7 846.6,178.1 846.6,176.6 846.7,175.1 846.7,173.6 846.7,172.1 846.8,170.6 846.8,169.1 846.9,167.6 846.9,166.1 847.0,164.6 847.0,163.1 847.1,161.6 847.1,160.1 847.2,158.6 847.2,157.1 847.3,155.6 847.3,154.1 847.4,152.6 847.4,151.0 847.5,149.5 847.5,148.0 847.6,146.5 847.6,145.0 847.7,143.5 847.7,142.0 847.8,140.5 847.8,139.0 847.9,137.5 847.9,136.0 848.0,134.5 848.0,133.0 848.1,131.5 848.1,130.0 848.2,128.5 848.2,127.0 848.3,125.5 848.3,124.0 848.4,122.4 848.4,120.9 848.5,119.4 848.5,117.9 848.6,116.4 848.6,114.9 848.7,113.4 848.7,111.9 848.8,110.4 848.8,108.9 850.0,109.0 850.1,110.6 850.3,112.1 850.4,113.7 850.6,115.3 850.7,116.8 850.8,118.4 851.0,120.0 851.1,121.5 851.3,123.1 851.4,124.7 851.5,126.2 851.7,127.8 851.8,129.3 852.0,130.9 852.1,132.5 852.2,134.0 852.4,135.6 852.5,137.2 852.7,138.7 852.8,140.3 852.9,138.8 853.0,137.3 853.1,135.8 853.1,134.3 853.2,132.8 853.3,131.3 853.4,129.8 853.5,128.3 853.6,126.7 853.6,125.2 853.7,123.7 853.8,122.2 853.9,120.7 854.0,119.2 854.1,117.7 854.1,116.2 854.2,114.7 854.3,113.2 854.4,111.7 854.5,110.2 854.6,108.7 854.7,107.2 854.7,105.7 854.8,104.2 854.9,102.7 855.0,101.1 855.1,99.6 855.2,98.1 855.2,96.6 855.3,95.1 855.4,93.6 855.5,92.1 855.6,90.6 855.7,89.1 855.8,87.6 855.8,86.1 855.9,84.6 856.0,83.1 856.1,81.6 856.2,80.1 856.3,78.6 856.3,77.1 856.4,75.5 856.5,74.0 856.6,72.5 856.7,71.0 856.8,69.5 856.8,68.0 856.9,66.5 857.0,65.0 857.1,63.5 857.2,65.0 857.3,66.5 857.4,68.0 857.4,69.5 857.5,71.0 857.6,72.5 857.7,74.0 857.8,75.5 857.9,77.1 858.0,78.6 858.0,80.1 858.1,81.6 858.2,83.1 858.3,84.6 858.4,86.1 858.5,87.6 858.5,89.1 858.6,90.6 858.7,92.1 858.8,93.6 858.9,95.1 859.0,96.6 859.1,98.1 859.1,99.6 859.2,101.1 859.3,102.7 859.4,104.2 859.5,105.7 859.6,107.2 859.7,108.7 859.7,110.2 859.8,111.7 859.9,113.2 860.0,114.7 860.0,116.2 860.1,117.8 860.1,119.3 860.2,120.8 860.2,122.3 860.3,123.9 860.4,125.4 860.4,126.9 860.5,128.4 860.5,130.0 860.5,131.5 860.6,133.0 860.6,134.5 860.7,136.1 860.8,137.6 860.8,139.1 860.9,140.6 860.9,142.2 860.9,143.7 861.0,145.2 861.0,146.7 861.1,148.2 861.1,149.8 861.2,151.3 861.2,152.8 861.3,154.4 861.4,155.9 861.4,157.4 861.5,155.9 861.7,154.3 861.8,152.8 861.9,151.3 862.1,149.7 862.2,148.2 862.4,146.6 862.5,145.1 862.6,143.6 862.8,142.0 862.9,140.5 863.0,139.0 863.2,137.4 863.3,135.9 863.4,134.4 863.6,132.8 863.7,131.3 863.8,129.8 864.0,128.2 864.1,126.7 864.3,125.1 864.4,123.6 864.5,122.1 864.7,120.5 864.8,119.0 864.8,120.5 864.8,122.0 864.9,123.5 864.9,125.0 864.9,126.5 864.9,128.0 865.0,129.5 865.0,131.0 865.0,132.5 865.0,134.0 865.0,135.5 865.1,137.0 865.1,138.5 865.1,140.0 865.1,141.5 865.2,143.0 865.2,144.5 865.2,146.0 865.2,147.5 865.3,149.0 865.3,150.5 865.3,152.0 865.3,153.5 865.3,155.0 865.4,156.5 865.4,158.0 865.4,159.5 865.4,161.0 865.5,162.5 865.5,164.0 865.5,165.6 865.5,167.1 865.5,168.6 865.6,170.1 865.6,171.6 865.6,173.1 865.6,174.6 865.7,176.1 865.7,177.6 865.7,179.1 865.7,180.6 865.7,182.1 865.8,183.6 865.8,185.1 865.8,186.6 865.8,188.1 865.9,189.6 865.9,191.1 865.9,192.6 865.9,194.1 866.0,195.6 866.0,197.1 866.0,198.6 866.0,200.1 866.0,201.6 866.1,203.1 866.1,204.6 866.1,206.1 866.1,207.6 866.2,209.1 866.2,210.6 866.2,212.1 866.2,213.6 866.2,215.1 866.3,216.6 866.3,218.1 866.3,219.6 866.3,221.1 866.4,222.6 866.4,224.1 866.4,225.6 866.4,227.1 866.4,228.6 866.5,230.1 866.5,231.6 866.5,233.1 866.5,234.6 866.6,236.1 866.6,237.6 866.6,239.1 866.6,240.6 866.7,242.1 866.7,243.6 866.7,245.1 866.7,246.6 866.7,248.1 866.8,249.6 866.8,251.1 866.8,252.6 866.8,254.1 866.9,255.6 866.9,257.1 866.9,258.6 866.9,260.2 866.9,261.7 867.0,263.2 867.0,264.7 867.0,266.2 867.0,267.7 867.1,269.2 867.1,270.7 867.1,272.2 867.1,273.7 867.1,275.2 867.2,276.7 867.2,278.2 867.2,279.7 867.2,281.2 867.3,282.7 867.3,284.2 867.3,285.7 867.3,287.2 867.4,288.7 867.4,290.2 867.4,291.7 867.4,293.2 867.4,294.7 867.5,296.2 867.5,297.7 867.5,299.2 867.5,300.7 867.6,302.2 867.6,303.7 867.6,305.2 869.5,304.5 871.3,303.8 872.7,304.7 874.2,305.7 875.6,306.6 875.7,305.1 875.7,303.6 875.8,302.1 875.9,300.6 875.9,299.1 876.0,297.6 876.1,296.1 876.2,294.6 876.2,293.1 876.3,291.6 876.4,290.1 876.4,288.6 876.5,287.0 876.6,285.5 876.6,284.0 876.7,282.5 876.8,281.0 876.9,279.5 876.9,278.0 877.0,276.5 877.1,275.0 877.1,273.5 877.2,272.0 877.3,270.5 877.3,269.0 877.4,267.5 877.5,266.0 877.6,264.5 877.6,263.0 877.7,261.5 877.8,260.0 877.8,258.5 877.9,257.0 878.0,255.5 878.0,254.0 878.1,252.5 878.2,251.0 878.2,249.5 878.3,247.9 878.4,246.4 878.5,244.9 878.5,243.4 878.6,241.9 878.7,240.4 878.7,238.9 878.8,237.4 878.9,235.9 878.9,234.4 879.0,232.9 879.1,231.4 879.2,229.9 879.2,228.4 879.3,226.9 879.4,225.4 879.4,223.9 879.5,222.4 879.6,220.9 879.6,219.4 879.7,217.9 879.8,216.4 879.9,214.9 879.9,213.4 880.0,211.9 880.1,210.4 880.1,208.8 880.2,207.3 880.3,205.8 880.3,204.3 880.4,202.8 880.5,201.3 880.5,199.8 880.6,198.3 880.7,196.8 880.8,195.3 880.8,193.8 880.9,192.3 881.0,190.8 881.0,189.3 881.1,187.8 881.2,186.3 881.2,184.8 881.3,183.3 881.4,181.8 881.5,180.3 881.5,178.8 881.6,177.3 881.7,175.8 881.7,174.3 881.8,172.8 881.9,171.3 881.9,169.7 882.0,168.2 882.1,166.7 882.1,165.2 882.2,163.7 882.3,162.2 882.4,160.7 882.4,159.2 882.5,157.7 882.6,156.2 882.6,154.7 882.7,153.2 882.8,151.7 882.8,150.2 882.9,148.7 883.0,147.2 883.1,145.7 883.1,144.2 883.2,142.7 883.3,141.2 883.3,139.7 883.4,138.2 883.5,136.7 883.5,135.2 883.6,133.7 883.7,132.2 883.8,130.6 883.8,129.1 883.9,127.6 884.0,126.1 884.0,124.6 884.1,123.1 884.2,121.6 884.2,120.1 884.3,118.6 884.4,117.1 884.4,115.6 884.5,114.1 884.6,112.6 884.7,111.1 884.7,109.6 884.8,108.1 884.9,106.6 884.9,105.1 885.0,103.6 885.1,102.1 885.1,100.6 885.2,99.1 885.3,97.6 885.4,96.1 885.4,94.6 885.5,93.1 885.6,91.5 885.6,90.0 885.7,88.5 885.8,87.0 885.8,85.5 885.9,84.0 886.0,82.5 886.1,81.0 886.1,79.5 886.2,78.0 886.3,76.5 886.3,75.0 886.4,73.5 886.5,75.0 886.6,76.5 886.7,78.0 886.8,79.5 886.9,81.0 887.0,82.5 887.1,84.0 887.2,85.5 887.3,87.0 887.4,88.5 887.5,90.0 887.6,91.5 887.7,93.0 887.8,94.5 887.9,96.0 888.0,97.5 888.1,99.0 888.1,100.6 888.2,102.1 888.3,103.6 888.4,105.1 888.5,106.6 888.6,108.1 888.7,109.6 888.8,111.1 888.9,112.6 889.0,114.1 889.1,115.6 889.2,117.1 889.3,118.6 889.4,120.1 889.5,121.6 889.6,123.1 889.7,124.6 889.8,126.1 890.9,127.5 892.0,128.9 893.0,130.4 894.1,131.8 894.6,133.4 895.2,135.0 895.7,136.6 896.2,138.3 896.7,139.9 897.3,141.5 897.8,143.1 897.8,144.6 897.9,146.1 897.9,147.6 897.9,149.1 898.0,150.6 898.0,152.1 898.0,153.6 898.1,155.1 898.1,156.6 898.1,158.1 898.1,159.6 898.2,161.1 898.2,162.6 898.2,164.1 898.3,165.6 898.3,167.1 898.3,168.6 898.4,170.1 898.4,171.6 898.4,173.1 898.5,174.6 898.5,176.1 898.5,177.6 898.6,179.1 898.6,180.6 898.6,182.1 898.6,183.6 898.7,185.1 898.7,186.6 898.7,188.1 898.8,189.6 898.8,191.1 898.8,192.6 898.9,194.1 898.9,195.6 898.9,197.1 899.0,198.6 899.0,200.1 899.0,201.6 899.1,203.1 899.1,204.6 899.1,206.1 899.2,207.6 899.2,209.1 899.2,210.6 899.2,212.1 899.3,213.6 899.3,215.1 899.3,216.6 899.4,218.1 899.4,219.6 899.4,221.1 899.5,222.6 899.5,224.1 899.5,225.7 899.6,227.2 899.6,228.7 899.6,230.2 899.7,231.7 899.7,233.2 899.7,234.7 899.8,236.2 899.8,237.7 899.8,239.2 899.8,240.7 899.9,242.2 899.9,243.7 899.9,245.2 900.0,246.7 900.0,248.2 900.0,249.7 900.1,251.2 900.1,252.7 900.1,254.2 900.2,255.7 900.2,257.2 900.2,258.7 900.3,260.2 900.3,261.7 900.3,263.2 900.4,264.7 900.4,266.2 900.4,267.7 900.4,269.2 900.5,270.7 900.5,272.2 900.5,273.7 900.6,275.2 900.6,276.7 900.6,278.2 900.7,279.7 900.7,281.2 900.7,282.7 900.8,284.2 900.8,285.7 900.8,287.2 900.9,288.7 900.9,290.2 900.9,291.7 900.9,293.2 901.0,294.7 901.0,296.2 901.0,297.7 901.1,299.2 901.1,300.7 901.1,302.2 901.2,303.7 901.2,305.2 903.3,305.9 905.4,306.6 906.5,305.6 907.5,304.5 908.6,303.4 909.7,302.4 909.7,300.9 909.8,299.4 909.8,297.9 909.9,296.4 909.9,294.9 909.9,293.4 910.0,291.9 910.0,290.4 910.1,288.9 910.1,287.3 910.2,285.8 910.2,284.3 910.2,282.8 910.3,281.3 910.3,279.8 910.4,278.3 910.4,276.8 910.4,275.3 910.5,273.8 910.5,272.3 910.6,270.8 910.6,269.3 910.7,267.8 910.7,266.3 910.7,264.8 910.8,263.3 910.8,261.8 910.9,260.3 910.9,258.8 910.9,257.2 911.0,255.7 911.0,254.2 911.1,252.7 911.1,251.2 911.2,249.7 911.2,248.2 911.2,246.7 911.3,245.2 911.3,243.7 911.4,242.2 911.4,240.7 911.4,239.2 911.5,237.7 911.5,236.2 911.6,234.7 911.6,233.2 911.7,231.7 911.7,230.2 911.7,228.6 911.8,227.1 911.8,225.6 911.9,224.1 911.9,222.6 911.9,221.1 912.0,219.6 912.0,218.1 912.1,216.6 912.1,215.1 912.2,213.6 912.2,212.1 912.2,210.6 912.3,209.1 912.3,207.6 912.4,206.1 912.4,204.6 912.4,203.1 912.5,201.6 912.5,200.1 912.6,198.5 912.6,197.0 912.7,195.5 912.7,194.0 912.7,192.5 912.8,191.0 912.8,189.5 912.9,188.0 912.9,186.5 912.9,185.0 913.0,183.5 913.0,182.0 913.1,180.5 913.1,179.0 913.2,177.5 913.2,176.0 913.2,174.5 913.3,173.0 913.3,171.5 913.4,170.0 913.4,168.4 913.4,166.9 913.5,165.4 913.5,163.9 913.6,162.4 913.6,160.9 913.7,159.4 913.7,157.9 913.7,156.4 913.8,154.9 913.8,153.4 913.9,151.9 913.9,150.4 913.9,148.9 914.0,147.4 914.0,145.9 914.1,144.4 914.1,142.9 914.2,141.4 914.2,139.8 914.2,138.3 914.3,136.8 914.3,135.3 914.4,133.8 914.4,132.3 914.4,130.8 914.5,129.3 914.5,127.8 914.6,126.3 914.6,124.8 914.7,123.3 914.7,121.8 914.7,120.3 914.8,118.8 914.8,117.3 914.9,115.8 914.9,114.3 914.9,112.8 915.0,111.3 915.0,109.7 915.1,108.2 915.1,106.7 915.2,105.2 915.2,103.7 915.2,102.2 915.3,100.7 915.3,99.2 915.4,97.7 915.4,96.2 915.6,97.7 915.8,99.3 916.0,100.8 916.1,102.4 916.3,103.9 916.5,105.5 916.7,107.0 916.9,108.6 917.1,110.1 917.3,111.7 917.5,113.2 917.6,114.8 917.8,116.3 918.0,117.9 918.2,119.4 918.4,121.0 918.6,122.5 918.8,124.1 919.0,125.6 919.1,127.2 919.3,128.7 919.5,130.3 919.7,131.8 921.4,132.3 923.0,132.7 924.7,133.2 926.3,133.7 928.0,134.1 929.6,134.6 929.6,136.1 929.7,137.6 929.7,139.1 929.7,140.6 929.8,142.2 929.8,143.7 929.8,145.2 929.8,146.7 929.9,148.2 929.9,149.7 929.9,151.2 930.0,152.7 930.0,154.3 930.0,155.8 930.1,157.3 930.1,158.8 930.1,160.3 930.2,161.8 930.2,163.3 930.2,164.8 930.2,166.3 930.3,167.9 930.3,169.4 930.3,170.9 930.4,172.4 930.4,173.9 930.4,175.4 930.5,176.9 930.5,178.4 930.5,180.0 930.5,181.5 930.6,183.0 930.6,184.5 930.6,186.0 930.7,187.5 930.7,189.0 930.7,190.5 930.8,192.0 930.8,193.6 930.8,195.1 930.9,196.6 930.9,198.1 930.9,199.6 930.9,201.1 931.0,202.6 931.0,204.1 931.0,205.7 931.1,207.2 931.1,208.7 931.1,210.2 931.2,211.7 931.2,213.2 931.2,214.7 931.3,216.2 931.3,217.7 931.3,219.3 931.3,220.8 931.4,222.3 931.4,223.8 931.4,225.3 931.5,226.8 931.5,228.3 931.5,229.8 931.6,231.3 931.6,232.9 931.6,234.4 931.7,235.9 931.7,237.4 931.7,238.9 931.7,240.4 931.8,241.9 931.8,243.4 931.8,245.0 931.9,246.5 931.9,248.0 931.9,249.5 932.0,251.0 932.0,252.5 932.0,254.0 932.1,255.5 932.1,257.0 932.1,258.6 932.1,260.1 932.2,261.6 932.2,263.1 932.2,264.6 932.3,266.1 932.3,267.6 932.3,269.1 932.4,270.7 932.4,272.2 932.4,273.7 932.4,275.2 932.5,276.7 932.5,278.2 932.5,279.7 932.6,281.2 932.6,282.7 932.6,284.3 932.7,285.8 932.7,287.3 932.7,288.8 932.8,290.3 932.8,291.8 932.8,293.3 932.8,294.8 932.9,296.4 932.9,297.9 932.9,299.4 933.0,300.9 933.0,302.4 934.7,303.3 936.4,304.3 938.1,305.2 939.5,305.9 941.0,306.6 941.1,305.1 941.1,303.6 941.2,302.1 941.3,300.6 941.4,299.1 941.4,297.6 941.5,296.1 941.6,294.6 941.7,293.1 941.7,291.6 941.8,290.1 941.9,288.6 942.0,287.1 942.0,285.6 942.1,284.1 942.2,282.6 942.3,281.1 942.3,279.5 942.4,278.0 942.5,276.5 942.6,275.0 942.6,273.5 942.7,272.0 942.8,270.5 942.9,269.0 942.9,267.5 943.0,266.0 943.1,264.5 943.2,263.0 943.2,261.5 943.3,260.0 943.4,258.5 943.5,257.0 943.5,255.5 943.6,254.0 943.7,252.5 943.8,251.0 943.8,249.5 943.9,248.0 944.0,246.5 944.1,245.0 944.1,243.5 944.2,242.0 944.3,240.5 944.4,239.0 944.4,237.5 944.5,236.0 944.6,234.5 944.7,233.0 944.7,231.5 944.8,230.0 944.9,228.5 945.0,227.0 945.0,225.4 945.1,223.9 945.2,222.4 945.3,220.9 945.3,219.4 945.4,217.9 945.5,216.4 945.6,214.9 945.6,213.4 945.7,211.9 945.8,210.4 945.9,208.9 945.9,207.4 946.0,205.9 946.1,204.4 946.2,202.9 946.2,201.4 946.3,199.9 946.3,198.4 946.4,196.8 946.4,195.3 946.4,193.8 946.5,192.3 946.5,190.7 946.5,189.2 946.6,187.7 946.6,186.2 946.6,184.6 946.6,183.1 946.7,181.6 946.7,180.0 946.7,178.5 946.8,177.0 946.8,175.5 946.8,173.9 946.9,172.4 946.9,170.9 946.9,169.4 947.0,167.8 947.0,166.3 947.1,164.8 947.3,163.2 947.4,161.7 947.5,160.2 947.6,158.7 947.8,157.1 947.9,155.6 948.0,154.1 948.1,152.6 948.3,151.0 948.4,149.5 948.5,148.0 948.7,146.4 948.8,144.9 948.9,143.4 949.0,141.9 949.2,140.3 949.3,138.8 949.4,137.3 949.5,135.8 949.7,134.2 949.8,132.7 949.9,131.2 950.1,129.6 950.2,128.1 950.3,126.6 950.4,125.1 950.6,123.5 950.7,122.0 950.8,120.5 950.9,119.0 951.1,117.4 951.2,115.9 951.4,117.4 951.5,118.9 951.7,120.4 951.8,121.9 952.0,123.4 952.1,124.9 952.2,126.4 952.4,127.9 952.6,129.4 952.7,130.9 952.9,132.4 953.0,133.9 953.1,135.4 953.3,136.9 953.5,138.4 953.6,139.9 953.8,141.4 953.9,142.9 954.0,144.4 954.2,145.9 954.4,147.4 954.5,148.9 954.6,150.4 954.8,151.9 954.9,153.4 955.1,154.9 955.2,156.4 955.4,157.9 955.5,156.4 955.6,154.9 955.6,153.4 955.7,151.9 955.8,150.3 955.9,148.8 955.9,147.3 956.0,145.8 956.1,144.3 956.2,142.8 956.2,141.3 956.3,139.8 956.4,138.3 956.5,136.7 956.5,135.2 956.6,133.7 956.7,132.2 956.8,130.7 956.8,129.2 956.9,127.7 957.0,126.2 957.1,124.7 957.1,123.2 957.2,121.6 957.3,120.1 957.4,118.6 957.4,117.1 957.5,115.6 957.6,114.1 957.7,112.6 957.7,111.1 957.8,109.6 957.9,108.0 958.0,106.5 958.0,105.0 958.1,103.5 958.2,102.0 958.3,100.5 958.3,98.9 958.4,97.4 958.5,95.8 958.6,94.3 958.6,92.7 958.7,91.2 958.8,89.6 958.9,88.1 958.9,86.5 959.0,85.0 959.1,83.4 959.2,81.9 959.2,80.3 959.3,78.8 959.4,77.2 959.5,75.7 959.5,74.1 959.6,72.6 959.7,74.1 959.7,75.7 959.8,77.2 959.9,78.7 959.9,80.3 960.0,81.8 960.1,83.3 960.1,84.9 960.2,86.4 960.3,87.9 960.3,89.5 960.4,91.0 960.5,92.5 960.5,94.1 960.6,95.6 960.7,97.1 960.7,98.7 960.8,100.2 960.9,101.7 960.9,103.3 961.0,104.8 961.1,106.3 961.2,107.8 961.2,109.3 961.3,110.8 961.4,112.3 961.5,113.8 961.6,115.3 961.6,116.8 961.7,118.3 961.8,119.8 961.9,121.3 962.0,122.8 962.0,124.3 962.1,125.9 962.2,127.4 962.3,128.9 962.4,130.4 962.5,131.9 962.5,133.4 962.6,134.9 962.7,136.4 962.8,137.9 962.9,139.4 962.9,140.9 963.0,142.4 963.1,143.9 963.1,145.4 963.1,146.9 963.2,148.4 963.2,149.9 963.2,151.4 963.2,152.9 963.3,154.4 963.3,155.9 963.3,157.5 963.3,159.0 963.3,160.5 963.4,162.0 963.4,163.5 963.4,165.0 963.4,166.5 963.5,168.0 963.5,169.5 963.5,171.0 963.5,172.5 963.6,174.0 963.6,175.5 963.6,177.0 963.6,178.5 963.6,180.0 963.7,181.6 963.7,183.1 963.7,184.6 963.7,186.1 963.8,187.6 963.8,189.1 963.8,190.6 963.8,192.1 963.8,193.6 963.9,195.1 963.9,196.6 963.9,198.1 963.9,199.6 964.0,201.1 964.0,202.6 964.0,204.1 964.0,205.7 964.1,207.2 964.1,208.7 964.1,210.2 964.1,211.7 964.1,213.2 964.2,214.7 964.2,216.2 964.2,217.7 964.2,219.2 964.3,220.7 964.3,222.2 964.3,223.7 964.3,225.2 964.3,226.7 964.4,228.2 964.4,229.8 964.4,231.3 964.4,232.8 964.5,234.3 964.5,235.8 964.5,237.3 964.5,238.8 964.6,240.3 964.6,241.8 964.6,243.3 964.6,244.8 964.6,246.3 964.7,247.8 964.7,249.3 964.7,250.8 964.7,252.3 964.8,253.9 964.8,255.4 964.8,256.9 964.8,258.4 964.8,259.9 964.9,261.4 964.9,262.9 964.9,264.4 964.9,265.9 965.0,267.4 965.0,268.9 965.0,270.4 965.0,271.9 965.1,273.4 965.1,274.9 965.1,276.4 965.1,278.0 965.1,279.5 965.2,281.0 965.2,282.5 965.2,284.0 965.2,285.5 965.3,287.0 965.3,288.5 965.3,290.0 965.3,291.5 965.4,293.0 965.4,294.5 965.5,296.0 965.5,297.5 965.5,299.0 965.6,300.5 965.6,302.0 965.7,303.5 965.7,305.0 965.8,306.5 965.8,308.0 965.8,309.5 965.9,311.0 965.9,312.5 966.0,314.0 966.0,315.5 966.0,317.0 966.1,318.5 966.1,320.0 966.2,321.5 966.2,323.0 966.3,324.5 966.3,326.0 966.8,327.8 967.4,329.5 968.0,331.2 968.5,333.0 971.0,334.2 972.5,334.2 974.0,334.2 975.5,334.2 977.1,334.2 978.6,334.2 980.1,334.2 981.6,334.2 983.1,334.2 984.6,334.2 986.1,334.2 987.7,334.2 989.2,334.2 990.7,334.2 992.2,334.2 993.7,334.2 995.2,334.2 996.7,334.2 998.3,334.2 999.8,334.2 1001.3,334.2 1002.8,334.2 1004.3,334.2 1005.8,334.2 1007.3,334.2 1008.9,334.2 1010.4,334.2 1011.9,334.2 1013.4,334.2 1014.9,334.2 1016.4,334.2 1017.9,334.2 1019.5,334.2 1021.0,334.2 1022.5,334.2 1024.0,334.2" stroke="#ff0000" stroke-width="2.2" fill="none" stroke-linejoin="round"/>
<path d="M283.2,178.8 283.8,180.3 283.9,178.8 283.9,177.2 284.0,175.7 284.0,176.7 284.1,171.4 284.2,173.9 284.2,167.1 284.3,169.5 284.3,165.0 284.4,166.8 284.5,161.5 284.5,163.9 284.6,158.7 284.6,160.9 284.7,154.7 284.7,157.6 284.8,152.8 284.9,155.0 284.9,150.2 285.0,151.0 285.0,145.5 285.1,148.5 285.2,143.4 285.2,144.3 285.3,140.7 285.3,142.5 285.4,139.1 285.5,140.0 285.5,144.1 285.6,141.7 285.7,145.9 285.8,144.8 285.8,149.9 285.9,147.8 286.0,152.8 286.0,150.8 286.1,156.7 286.2,155.4 286.3,158.3 286.3,157.0 286.4,163.4 286.5,161.1 286.5,165.3 286.6,163.4 286.7,168.1 286.7,167.0 286.8,171.1 286.9,170.0 287.0,174.8 287.0,173.3 287.1,177.4 287.2,175.3 287.2,179.7 287.3,178.8 287.4,184.4 287.5,182.5 287.5,186.3 287.6,186.8 287.8,186.0 288.1,191.0 288.3,190.5 288.6,194.6 288.8,192.5 289.1,197.0 289.3,197.8 290.4,195.4 291.5,195.6 291.5,195.4 291.6,190.2 291.6,192.6 291.6,187.1 291.7,189.0 291.7,185.3 291.7,187.1 291.8,181.1 291.8,183.7 291.8,179.5 291.9,179.9 291.9,175.9 291.9,177.1 292.0,172.2 292.0,175.5 292.0,170.6 292.1,171.3 292.1,166.2 292.1,169.1 292.2,163.2 292.2,165.4 292.2,161.7 292.3,162.3 292.3,157.3 292.3,159.3 292.3,155.3 292.4,156.6 292.4,152.1 292.4,153.6 292.5,148.0 292.5,150.0 292.5,147.0 292.6,148.8 292.6,142.1 292.6,145.9 292.7,140.1 292.7,142.8 292.7,136.0 292.8,138.2 292.8,133.4 292.8,136.5 292.9,130.6 292.9,132.8 292.9,128.4 293.0,129.4 293.0,125.5 293.0,125.8 293.1,121.7 293.1,122.1 293.1,124.8 293.2,122.7 293.2,127.3 293.3,125.5 293.3,131.7 293.3,128.5 293.4,135.2 293.4,131.6 293.5,137.5 293.5,136.6 293.5,140.9 293.6,139.2 293.6,142.9 293.7,141.1 293.7,146.4 293.7,144.7 293.8,150.3 293.8,147.3 293.9,152.0 293.9,151.1 293.9,156.2 294.0,153.6 294.0,159.0 294.0,156.9 294.1,160.7 294.1,159.5 294.2,165.1 294.2,163.3 294.2,168.1 294.3,164.6 294.3,171.1 294.4,167.8 294.4,172.3 294.4,171.3 294.5,177.3 294.5,175.6 294.6,178.9 294.6,178.1 294.6,182.5 294.7,180.8 294.7,185.4 294.8,183.0 294.8,186.8 294.9,188.9 295.0,189.2 295.1,192.2 295.1,192.1 295.2,195.1 295.3,193.2 295.4,199.9 295.5,198.2 295.6,202.2 295.6,200.8 295.7,204.8 295.8,203.7 295.9,206.6 296.0,207.1 296.0,201.7 296.1,203.5 296.1,199.6 296.2,200.4 296.2,196.8 296.3,197.9 296.3,192.4 296.4,194.5 296.4,190.8 296.5,191.0 296.5,187.2 296.6,189.0 296.6,183.3 296.7,185.5 296.7,180.2 296.8,183.0 296.8,178.0 296.9,179.5 296.9,174.9 297.0,177.2 297.0,172.1 297.1,174.2 297.1,169.0 297.2,170.2 297.2,165.8 297.3,168.2 297.3,163.8 297.4,164.6 297.4,160.0 297.5,162.6 297.5,155.9 297.6,158.4 297.6,153.0 297.7,156.4 297.7,151.4 297.8,152.6 297.8,148.7 297.9,150.4 297.9,144.5 298.0,147.6 298.0,141.2 298.1,144.1 298.1,138.3 298.2,140.8 298.2,136.7 298.3,137.9 298.3,133.9 298.4,133.9 298.4,129.2 298.5,130.7 298.5,127.7 298.6,127.0 298.7,129.3 298.7,127.5 298.8,132.5 298.9,132.5 298.9,137.0 299.0,135.3 299.1,140.1 299.1,137.1 299.2,143.1 299.3,139.5 299.3,145.5 299.4,142.8 299.5,147.3 299.6,145.9 299.6,151.4 299.7,149.1 299.8,153.6 299.8,152.1 299.9,158.5 300.0,156.6 300.0,160.1 300.1,158.5 300.2,164.3 300.2,162.3 300.3,164.9 300.4,167.4 300.5,166.8 300.6,171.4 300.6,168.7 300.7,173.9 300.8,172.6 300.9,176.9 301.0,175.6 301.1,180.0 301.2,179.2 301.3,183.2 301.4,180.3 301.4,186.0 301.5,183.8 301.6,188.4 301.7,186.9 301.8,192.8 301.9,190.0 302.0,195.3 302.0,193.4 302.1,198.6 302.2,195.5 302.3,200.5 302.4,201.1 304.6,200.3 306.8,201.1 309.0,202.2 309.0,202.9 309.1,196.6 309.1,199.4 309.2,194.6 309.2,196.9 309.2,192.2 309.3,192.8 309.3,189.2 309.4,190.5 309.4,185.9 309.4,186.7 309.5,182.0 309.5,185.3 309.6,179.9 309.6,181.8 309.7,176.7 309.7,179.1 309.7,173.3 309.8,174.8 309.8,171.1 309.9,171.2 309.9,167.5 309.9,169.0 310.0,165.2 310.0,166.0 310.1,161.8 310.1,163.9 310.1,159.2 310.2,161.4 310.2,155.5 310.3,157.5 310.3,152.5 310.3,155.0 310.4,148.7 310.4,151.4 310.5,146.4 310.5,148.7 310.5,142.6 310.6,145.0 310.6,139.8 310.7,143.3 310.7,137.4 310.8,138.6 310.8,135.0 310.8,136.7 310.9,131.0 310.9,134.2 311.0,127.5 311.0,129.6 311.0,126.0 311.1,126.7 311.1,123.0 311.2,124.6 311.2,121.0 311.4,120.1 311.6,126.8 311.8,124.6 312.0,129.9 312.2,127.7 312.4,132.1 312.6,129.9 312.8,134.5 313.0,134.6 313.2,139.3 313.4,138.5 313.4,138.8 313.5,142.9 313.5,141.3 313.5,146.7 313.6,145.6 313.6,149.0 313.6,147.7 313.7,152.4 313.7,151.3 313.7,155.7 313.7,152.7 313.8,158.4 313.8,156.7 313.8,160.8 313.9,160.4 313.9,165.1 313.9,163.8 314.0,168.7 314.0,165.1 314.0,170.0 314.1,168.1 314.1,173.7 314.1,171.6 314.2,177.6 314.2,175.7 314.2,180.5 314.2,178.0 314.3,183.9 314.3,181.9 314.3,186.9 314.4,183.4 314.4,189.8 314.4,187.5 314.5,191.6 314.5,192.3 314.6,189.1 314.6,190.6 314.7,185.6 314.8,188.3 314.8,182.9 314.9,184.2 315.0,179.7 315.0,182.1 315.1,177.7 315.1,179.7 315.2,173.6 315.3,174.9 315.3,169.9 315.4,171.9 315.5,168.2 315.5,170.2 315.6,164.6 315.7,166.8 315.7,161.5 315.8,163.5 315.9,159.2 315.9,159.9 316.0,156.7 316.1,158.0 316.1,152.1 316.2,154.6 316.2,149.1 316.3,151.2 316.4,147.1 316.4,148.2 316.5,142.7 316.6,144.4 316.6,140.5 316.7,140.7 316.9,140.2 317.0,135.1 317.2,137.1 317.4,132.8 317.5,134.0 317.7,129.1 317.9,131.5 318.1,126.2 318.2,128.4 318.4,124.3 318.4,125.0 318.5,128.5 318.5,128.1 318.5,131.2 318.6,129.6 318.6,135.6 318.6,133.9 318.7,137.4 318.7,136.4 318.7,141.7 318.8,138.6 318.8,144.7 318.8,142.1 318.8,146.4 318.9,145.6 318.9,149.5 318.9,148.3 319.0,153.4 319.0,152.1 319.0,155.7 319.1,153.8 319.1,158.2 319.1,156.8 319.2,163.2 319.2,159.5 319.2,165.1 319.3,163.4 319.3,168.6 319.3,166.2 319.4,172.5 319.4,169.1 319.4,174.0 319.5,171.8 319.5,177.4 319.5,175.4 319.6,181.0 319.6,179.8 319.6,184.1 319.6,181.3 319.7,186.5 319.7,184.6 319.7,189.5 319.8,188.4 319.8,192.7 319.8,191.8 319.9,195.6 319.9,193.5 319.9,198.5 320.0,196.7 320.0,200.0 321.9,198.7 322.1,199.8 322.4,193.0 322.6,194.8 322.8,190.0 323.1,192.8 323.3,188.5 323.5,189.0 323.8,185.0 324.0,185.2 324.2,181.1 324.5,184.0 324.7,178.5 324.9,180.7 325.2,174.5 325.4,175.0 325.5,177.4 325.6,175.6 325.8,181.6 325.9,178.6 326.0,185.0 326.1,182.1 326.3,187.2 326.4,185.1 326.5,191.7 326.6,188.1 326.8,193.7 326.9,191.5 327.0,196.9 327.1,196.0 327.3,199.0 327.4,199.2 327.5,201.5 327.6,201.0 327.7,197.5 327.8,198.6 327.9,193.3 328.0,195.6 328.2,190.8 328.3,192.8 328.4,188.0 328.5,189.3 328.6,184.0 328.7,186.1 328.8,182.2 328.9,184.2 329.0,177.9 329.1,180.0 329.2,175.7 329.4,177.3 329.5,172.1 329.6,173.5 329.7,170.4 329.8,170.4 329.9,165.6 330.0,167.2 330.1,163.2 330.2,164.3 330.3,160.7 330.5,161.2 330.6,157.2 330.7,158.1 330.8,155.0 330.9,154.9 331.0,152.6 331.1,153.2 331.2,157.3 331.2,156.4 331.3,159.2 331.4,158.6 331.5,163.1 331.6,161.0 331.6,165.3 331.7,164.7 331.8,169.1 331.9,168.6 332.0,173.4 332.1,171.1 332.1,174.5 332.2,173.6 332.3,177.7 332.4,176.3 332.5,181.1 332.5,180.4 332.6,183.4 332.7,182.1 332.8,186.9 332.9,185.0 332.9,190.4 333.0,187.6 333.1,191.8 333.8,194.4 334.5,193.4 335.2,197.1 335.9,194.9 336.6,198.7 336.7,199.1 336.8,194.3 336.9,194.9 336.9,190.5 337.0,193.8 337.1,187.6 337.2,188.5 337.3,185.8 337.4,185.7 337.5,182.4 337.5,182.5 337.6,179.6 337.7,180.8 337.8,174.7 337.9,176.7 338.0,171.5 338.1,174.3 338.1,168.8 338.2,172.2 338.3,165.4 338.4,167.2 338.5,163.8 338.6,165.4 338.6,159.3 338.7,161.2 338.8,157.7 338.9,159.8 339.0,155.0 339.1,155.7 339.2,151.4 339.2,153.3 339.3,147.0 339.4,149.1 339.5,144.4 339.6,147.3 339.7,141.1 339.8,143.8 339.8,137.9 339.9,140.3 340.0,135.9 340.1,135.9 340.2,138.5 340.2,136.6 340.3,142.1 340.3,140.8 340.4,144.4 340.4,142.8 340.5,148.4 340.6,145.8 340.6,150.9 340.7,149.4 340.7,153.4 340.8,151.9 340.8,156.2 340.9,155.4 341.0,160.8 341.0,158.0 341.1,162.4 341.1,162.0 341.2,167.1 341.2,164.1 341.3,170.2 341.3,166.6 341.4,172.2 341.5,169.6 341.5,175.9 341.6,173.9 341.6,178.1 341.7,177.5 341.7,181.2 341.8,178.5 341.9,183.5 341.9,182.4 342.0,186.6 342.0,186.5 342.1,190.8 342.1,189.2 342.2,191.8 342.3,190.9 342.4,187.8 342.4,189.1 342.5,183.7 342.6,184.6 342.7,181.4 342.7,183.7 342.8,178.3 342.9,179.7 343.0,174.8 343.1,177.0 343.1,171.3 343.2,174.0 343.3,168.3 343.4,169.5 343.4,166.0 343.5,166.2 343.6,161.5 343.7,163.1 343.8,160.1 343.8,161.9 343.9,156.7 344.0,158.7 344.1,153.8 344.1,154.6 344.2,150.4 344.3,149.9 344.4,153.8 344.4,151.0 344.5,156.4 344.5,153.6 344.6,159.9 344.6,157.6 344.7,162.3 344.7,160.4 344.8,164.2 344.8,162.5 344.9,168.3 344.9,165.6 345.0,170.5 345.1,169.2 345.1,174.1 345.2,171.8 345.2,176.2 345.3,175.6 345.3,180.1 345.4,179.3 345.4,183.3 345.5,180.8 345.5,186.0 345.6,184.0 345.6,189.4 345.7,189.0 345.8,186.4 345.8,187.3 345.9,181.7 345.9,184.3 346.0,179.9 346.0,180.7 346.1,177.4 346.2,177.8 346.2,172.8 346.3,176.1 346.3,169.9 346.4,173.6 346.4,167.4 346.5,170.5 346.6,164.6 346.6,166.3 346.7,160.6 346.7,164.4 346.8,157.6 346.8,160.4 346.9,155.0 347.0,157.2 347.0,151.4 347.1,155.3 347.1,150.0 347.2,152.4 347.2,147.2 347.3,147.5 347.4,143.0 347.4,144.9 347.5,140.4 347.5,142.6 347.6,138.5 347.7,139.8 347.7,134.9 347.8,136.1 347.8,131.7 347.9,133.8 347.9,127.8 348.0,129.7 348.1,126.2 348.1,126.7 348.2,122.5 348.2,123.2 348.3,120.1 348.3,121.7 348.4,115.8 348.5,119.2 348.5,112.2 348.6,115.9 348.6,110.5 348.7,111.3 348.7,107.6 348.8,109.0 348.9,104.1 348.9,106.1 349.0,101.5 349.0,103.8 349.1,98.6 349.1,99.9 349.2,96.8 349.2,95.8 349.3,102.2 349.3,100.1 349.3,103.9 349.4,102.0 349.4,106.4 349.5,106.5 349.5,110.6 349.5,108.6 349.6,112.8 349.6,112.7 349.6,115.9 349.7,114.1 349.7,119.5 349.7,116.6 349.8,123.2 349.8,119.7 349.8,124.6 349.9,124.4 349.9,127.5 350.0,126.9 350.0,131.3 350.0,130.8 350.1,134.7 350.1,133.7 350.1,137.2 350.2,136.4 350.2,141.3 350.2,139.0 350.3,143.1 350.3,142.8 350.4,146.5 350.4,144.5 350.4,150.1 350.5,146.9 350.5,153.4 350.5,151.4 350.6,154.9 350.6,153.3 350.6,159.4 350.7,156.9 350.7,162.5 350.7,159.8 350.8,164.3 350.8,163.6 350.9,166.7 350.9,165.6 350.9,171.7 351.0,168.0 351.0,173.7 351.0,171.6 351.1,177.8 351.1,174.2 351.1,180.0 351.2,178.2 351.2,182.9 351.2,181.7 351.3,185.1 351.3,183.6 351.4,190.0 351.4,186.9 351.4,191.7 351.5,190.3 351.5,193.2 351.6,193.3 351.6,187.8 351.7,190.2 351.8,184.5 351.8,186.6 351.9,182.9 351.9,184.4 352.0,179.6 352.1,182.1 352.1,175.7 352.2,179.2 352.3,173.2 352.3,174.2 352.4,170.2 352.4,172.3 352.5,167.4 352.6,168.7 352.6,163.9 352.7,167.1 352.8,162.2 352.8,163.6 352.9,158.6 352.9,160.2 353.0,154.4 353.1,158.2 353.1,151.9 353.2,153.4 353.3,148.3 353.3,150.4 353.4,146.5 353.4,148.8 353.5,143.6 353.6,144.5 353.6,139.2 353.7,143.0 353.8,137.6 353.8,138.8 353.9,134.6 354.0,135.2 354.0,131.7 354.1,134.1 354.1,129.1 354.2,129.4 354.3,125.8 354.3,126.0 354.4,122.0 354.5,124.5 354.5,118.3 354.6,121.2 354.6,115.3 354.7,116.8 354.8,113.5 354.8,115.9 354.9,111.0 355.0,111.3 355.0,107.0 355.1,108.3 355.1,103.9 355.2,104.8 355.3,101.5 355.3,103.8 355.4,99.6 355.4,100.2 355.4,105.2 355.5,103.2 355.5,108.5 355.5,105.1 355.5,110.7 355.6,109.3 355.6,112.4 355.6,111.0 355.6,115.7 355.7,115.3 355.7,120.2 355.7,116.8 355.7,121.5 355.8,119.6 355.8,125.6 355.8,124.0 355.8,127.7 355.9,127.0 355.9,132.7 355.9,130.3 355.9,133.8 356.0,133.6 356.0,136.9 356.0,136.2 356.0,141.7 356.1,139.8 356.1,143.1 356.1,140.9 356.1,147.9 356.1,143.9 356.2,149.3 356.2,148.3 356.2,153.9 356.2,151.1 356.3,156.4 356.3,154.5 356.3,157.9 356.3,157.4 356.4,162.5 356.4,159.5 356.4,165.2 356.4,163.2 356.5,168.1 356.5,166.3 356.5,171.2 356.5,168.5 356.6,173.4 356.6,172.1 356.6,178.1 356.6,174.5 356.7,179.5 356.7,177.3 356.7,184.0 356.7,182.1 356.8,185.7 356.8,185.1 356.8,187.6 356.9,186.7 356.9,181.8 357.0,184.5 357.1,178.9 357.1,180.7 357.2,177.8 357.3,179.3 357.4,172.9 357.4,176.5 357.5,170.1 357.6,172.4 357.6,166.8 357.7,168.3 357.8,164.3 357.9,166.0 357.9,162.1 358.0,163.3 358.1,158.6 358.1,160.0 358.2,156.8 358.7,157.0 359.1,161.3 359.6,160.3 360.1,165.2 360.5,162.2 361.0,166.6 361.3,170.8 361.5,167.2 361.8,173.6 362.0,171.5 362.3,177.0 362.5,174.6 362.8,178.1 363.0,177.1 363.3,182.5 363.5,180.5 363.8,183.4 363.9,183.9 363.9,179.1 364.0,181.5 364.1,175.7 364.1,177.4 364.2,172.5 364.3,175.2 364.3,168.4 364.4,171.4 364.5,166.5 364.5,168.5 364.6,164.3 364.7,165.0 364.7,159.5 364.8,162.7 364.9,158.2 365.0,159.8 365.0,154.4 365.1,157.0 365.2,151.4 365.2,152.3 365.3,147.9 365.4,150.7 365.4,145.1 365.5,147.6 365.6,141.4 365.6,143.4 365.7,139.3 365.8,140.7 365.8,136.0 365.9,135.9 366.0,138.8 366.0,136.9 366.1,143.0 366.1,140.1 366.2,144.4 366.3,144.0 366.3,147.9 366.4,146.1 366.4,150.4 366.5,150.3 366.6,153.9 366.6,152.9 366.7,156.2 366.7,155.4 366.8,161.3 366.9,158.4 366.9,163.9 367.0,160.8 367.0,167.2 367.1,163.6 367.2,169.3 367.2,167.2 367.3,171.6 367.3,169.8 367.4,175.2 367.5,173.7 367.5,179.4 367.6,177.2 367.6,180.9 367.7,179.0 367.8,184.8 367.8,183.7 367.9,186.6 367.9,186.1 368.0,189.0 368.2,188.0 368.4,183.4 368.7,185.2 368.9,181.5 369.1,182.6 369.3,177.8 369.5,179.5 369.8,174.4 370.0,176.9 370.2,171.7 370.4,172.5 370.6,167.3 370.8,170.6 371.1,166.2 371.3,166.9 371.5,163.8 371.6,163.1 371.6,169.7 371.7,167.7 371.8,170.5 371.9,169.9 371.9,174.5 372.0,172.0 372.1,178.5 372.1,176.4 372.2,180.7 372.3,178.9 372.3,184.8 372.4,182.8 372.5,186.8 372.5,186.1 372.6,190.4 372.7,189.4 372.8,194.2 372.8,191.3 372.9,194.6 373.3,194.9 373.8,190.8 374.2,191.1 374.7,186.9 375.1,189.4 375.6,183.7 376.0,185.1 376.5,179.6 376.9,182.9 377.4,177.6 377.8,177.8 377.9,177.3 377.9,173.5 378.0,175.8 378.0,170.9 378.1,172.0 378.2,166.7 378.2,168.5 378.3,163.4 378.3,166.7 378.4,160.1 378.5,163.3 378.5,158.6 378.6,158.8 378.6,155.0 378.7,156.3 378.8,152.5 378.8,154.5 378.9,149.4 378.9,151.4 379.0,144.8 379.1,146.8 379.1,141.8 379.2,144.4 379.2,140.4 379.3,140.9 379.3,137.7 379.4,138.5 379.5,133.9 379.5,136.3 379.6,129.9 379.6,131.5 379.7,127.8 379.8,129.2 379.8,125.3 379.9,125.8 379.9,122.0 380.0,123.8 380.1,118.8 380.1,119.4 380.2,116.1 380.2,117.2 380.3,112.3 380.4,113.7 380.4,108.9 380.5,110.6 380.5,106.0 380.6,106.5 380.6,110.0 380.7,108.6 380.7,113.3 380.8,111.2 380.8,115.9 380.8,113.8 380.9,119.1 380.9,117.2 380.9,120.9 381.0,119.4 381.0,125.8 381.1,123.1 381.1,128.2 381.1,126.7 381.2,132.0 381.2,128.8 381.2,133.5 381.3,131.6 381.3,138.3 381.4,135.7 381.4,141.3 381.4,138.4 381.5,142.5 381.5,140.9 381.6,146.0 381.6,144.0 381.6,149.6 381.7,148.4 381.7,152.5 381.7,149.8 381.8,155.4 381.8,153.5 381.9,159.3 381.9,156.8 381.9,161.6 382.0,159.6 382.0,165.3 382.1,163.5 382.1,166.8 382.1,165.3 382.2,170.8 382.2,169.3 382.2,174.7 382.3,171.1 382.3,176.9 382.4,173.9 382.4,180.6 382.4,177.5 382.5,182.5 382.5,182.2 382.5,186.4 382.6,183.6 382.6,188.7 382.7,187.2 382.7,190.4 383.0,190.7 383.3,186.2 383.6,188.0 383.9,182.5 384.2,184.2 384.4,180.5 384.7,181.6 385.0,177.0 385.3,178.9 385.6,174.3 385.9,175.2 386.2,172.2 386.3,169.7 386.5,170.7 386.6,165.8 386.8,167.0 386.9,164.0 387.1,164.8 387.2,160.7 387.4,161.9 387.6,157.8 387.7,158.0 387.9,153.9 388.0,156.8 388.2,150.2 388.3,151.2 388.4,154.4 388.5,152.8 388.7,156.5 388.8,156.1 388.9,160.0 389.0,157.6 389.1,162.6 389.2,160.6 389.4,166.5 389.5,164.8 389.6,169.0 389.7,166.7 389.8,171.9 389.9,170.6 390.1,175.7 390.2,174.5 390.3,178.0 390.4,175.7 390.5,182.3 390.6,179.3 390.8,185.6 390.9,183.8 391.0,188.2 391.1,187.6 391.5,183.8 391.8,185.6 392.2,181.5 392.5,184.3 392.9,178.7 393.2,180.8 393.6,176.1 393.9,177.5 394.2,172.8 394.6,174.1 394.9,169.5 395.3,169.4 395.5,173.5 395.8,170.3 396.0,175.7 396.2,173.5 396.4,178.7 396.7,176.3 396.9,181.4 397.1,181.8 397.2,178.5 397.2,180.6 397.3,175.8 397.3,176.4 397.4,173.3 397.5,174.7 397.5,170.1 397.6,171.9 397.6,166.5 397.7,169.3 397.8,162.7 397.8,165.8 397.9,160.7 397.9,161.2 398.0,157.2 398.1,159.8 398.1,153.4 398.2,155.5 398.2,152.1 398.3,154.2 398.4,147.7 398.4,150.1 398.5,144.7 398.5,146.3 398.6,142.1 398.7,144.4 398.7,138.9 398.8,140.2 398.8,136.9 398.9,138.2 399.0,132.2 399.0,134.1 399.1,131.2 399.1,131.0 399.2,128.7 400.6,125.7 402.0,127.3 402.1,130.3 402.2,128.9 402.3,134.9 402.4,131.8 402.5,136.5 402.6,134.8 402.8,139.1 402.9,139.0 403.0,143.9 403.1,142.4 403.2,145.6 403.3,144.9 403.4,148.2 403.5,151.0 403.7,148.5 403.8,153.6 403.9,152.0 404.1,157.3 404.2,155.0 404.3,160.5 404.5,158.4 404.6,163.3 404.7,162.5 404.9,166.6 405.0,164.2 405.1,169.5 405.3,168.6 405.4,172.7 405.5,172.0 405.7,175.5 405.8,174.0 405.9,179.1 406.1,177.0 406.2,180.4 407.6,180.2 409.0,177.6 409.1,175.5 409.2,175.2 409.3,171.8 409.4,172.6 409.6,168.2 409.7,169.7 409.8,164.8 409.9,167.4 410.0,162.0 410.1,164.7 410.2,159.3 410.3,161.0 410.5,156.7 410.6,157.2 410.7,152.6 410.8,155.2 410.9,151.2 411.0,153.1 411.1,147.1 411.2,149.4 411.4,144.4 411.5,145.3 411.6,140.1 411.7,142.3 411.8,139.9 412.0,140.1 412.2,145.8 412.4,143.7 412.6,147.8 412.8,146.1 413.0,150.4 413.2,148.2 413.4,153.9 413.7,153.3 413.9,157.1 414.1,156.5 414.3,160.8 414.5,157.7 414.7,164.3 414.9,162.6 415.1,166.9 415.3,166.4 416.0,163.8 416.7,165.2 417.4,161.0 418.1,160.8 418.3,160.5 418.6,156.9 418.8,158.2 419.1,153.9 419.3,155.9 419.6,151.0 419.8,152.8 420.1,147.6 420.3,147.8 420.6,143.3 420.8,144.0 421.0,144.2 421.2,138.6 421.4,141.0 421.6,135.8 421.8,137.0 422.0,132.6 422.2,134.8 422.4,128.8 422.7,130.5 422.9,127.7 423.1,128.9 423.3,122.7 423.5,125.2 423.7,120.0 423.9,122.4 424.1,117.6 424.3,117.5 424.4,120.6 424.6,118.6 424.7,122.6 424.8,122.3 424.9,127.2 425.1,125.4 425.2,129.6 425.3,128.4 425.5,132.4 425.6,130.5 425.7,136.2 425.9,132.8 426.0,138.6 426.1,137.5 426.2,141.3 426.4,140.8 426.5,144.1 426.6,142.6 426.8,147.9 426.9,146.4 427.0,150.0 427.2,149.7 427.3,153.0 427.4,151.8 427.5,156.1 427.7,154.0 427.8,158.0 427.9,158.3 428.1,153.7 428.2,155.0 428.4,151.3 428.5,152.7 428.7,146.7 428.8,148.8 429.0,143.8 429.1,145.6 429.3,141.9 429.4,142.5 429.6,139.0 429.7,140.4 429.8,134.9 430.0,137.6 430.1,133.1 430.3,134.7 430.4,129.3 430.6,130.8 430.7,126.2 430.9,127.9 431.0,123.9 431.2,124.9 431.3,119.9 431.5,122.6 431.6,118.9 431.9,117.8 432.2,122.9 432.4,120.8 432.7,127.3 433.0,124.2 433.3,130.7 433.6,128.5 433.8,133.2 434.1,129.8 434.4,134.7 434.7,133.5 434.9,139.6 435.2,137.2 435.5,139.9 435.8,143.9 436.0,140.3 436.3,146.0 436.5,145.1 436.8,148.5 437.0,146.6 437.3,152.0 437.5,150.8 437.8,155.1 438.0,152.4 438.3,156.6 438.7,156.2 439.0,152.8 439.4,154.6 439.7,149.0 440.1,150.1 440.4,144.4 440.8,146.8 441.1,144.0 441.8,144.6 442.5,149.3 443.2,147.1 443.9,150.7 444.6,148.3 445.3,152.4 446.1,154.9 447.0,152.6 447.8,157.9 448.7,156.8 449.5,159.4 449.6,158.9 449.7,154.6 449.8,156.7 449.9,151.9 449.9,153.5 450.0,149.1 450.1,151.2 450.2,144.6 450.3,148.0 450.4,141.9 450.5,143.5 450.6,140.1 450.7,140.7 450.8,137.3 450.8,139.4 450.9,132.6 451.0,136.3 451.1,130.3 451.2,131.4 451.3,127.6 451.4,128.3 451.5,123.5 451.6,125.7 451.6,121.8 451.7,124.2 451.8,119.0 451.9,121.1 452.0,115.7 452.1,117.5 452.2,113.2 452.3,115.0 452.4,109.5 452.4,110.7 452.5,105.9 452.6,108.3 452.7,103.7 452.8,104.2 452.9,100.0 453.0,100.9 453.1,96.3 453.2,98.6 453.3,94.8 453.3,95.6 453.4,91.9 453.5,92.5 453.6,87.9 453.7,88.2 453.8,91.2 453.8,89.9 453.9,94.0 453.9,92.6 454.0,98.1 454.1,95.7 454.1,101.1 454.2,98.7 454.2,102.7 454.3,102.4 454.4,107.3 454.4,104.7 454.5,109.3 454.5,107.7 454.6,113.4 454.7,111.0 454.7,115.3 454.8,114.1 454.8,117.6 454.9,116.7 455.0,121.6 455.0,119.9 455.1,124.6 455.1,122.9 455.2,128.2 455.2,126.6 455.3,131.9 455.4,129.8 455.4,134.6 455.5,132.7 455.5,137.5 455.6,135.5 455.7,138.9 455.7,137.9 455.8,143.7 455.8,140.3 455.9,146.8 456.0,143.0 456.0,148.0 456.1,147.4 456.1,151.1 456.2,149.6 456.3,154.9 456.3,152.6 456.4,158.7 456.4,155.1 456.5,159.4 457.1,163.2 457.6,160.2 458.2,166.2 458.7,165.4 459.3,167.8 459.4,168.8 459.5,164.0 459.6,164.0 459.6,159.3 459.7,161.4 459.8,156.7 459.9,157.9 460.0,154.7 460.1,156.4 460.1,152.1 460.2,152.9 460.3,147.0 460.4,149.2 460.5,144.5 460.6,147.4 460.6,141.7 460.7,144.4 460.8,138.5 460.9,139.7 461.0,136.7 461.1,137.9 461.1,131.9 461.2,134.2 461.3,129.7 461.4,130.1 461.5,132.5 461.6,130.7 461.7,136.2 461.8,134.4 461.9,139.7 461.9,138.3 462.0,142.9 462.1,139.9 462.2,146.2 462.3,144.1 462.4,147.9 462.5,147.4 462.6,152.4 462.7,149.8 462.8,154.3 462.9,152.7 463.0,158.0 463.0,156.1 463.1,160.2 463.2,158.2 463.3,164.3 463.4,162.3 463.5,165.0 463.7,167.2 463.9,165.4 464.1,171.7 464.3,169.2 464.5,174.0 464.8,171.4 465.0,177.1 465.2,176.1 465.4,179.4 465.6,178.8 465.8,183.6 466.0,183.2 466.0,180.3 466.1,182.8 466.1,176.6 466.1,178.7 466.2,173.6 466.2,176.0 466.2,170.6 466.3,172.7 466.3,167.8 466.3,169.7 466.4,164.1 466.4,166.0 466.4,161.2 466.5,163.2 466.5,158.0 466.5,159.7 466.5,155.8 466.6,157.4 466.6,152.2 466.6,153.9 466.7,150.2 466.7,150.7 466.7,146.5 466.8,148.6 466.8,144.7 466.8,144.7 466.9,141.2 466.9,143.4 466.9,137.6 467.0,139.5 467.0,135.0 467.0,136.7 467.1,130.8 467.1,133.7 467.1,129.5 467.2,130.1 467.2,125.4 467.2,126.2 467.3,121.7 467.3,123.8 467.3,119.8 467.4,121.4 467.4,116.1 467.4,118.1 467.4,112.5 467.5,115.1 467.5,110.6 467.5,111.1 467.6,107.1 467.6,108.7 467.6,104.1 467.7,105.7 467.7,102.2 467.7,101.9 467.8,98.9 467.8,99.0 467.8,94.3 467.9,97.1 467.9,93.7 468.0,94.1 468.1,98.9 468.1,96.2 468.2,100.4 468.3,99.0 468.4,103.8 468.4,101.5 468.5,106.7 468.6,106.1 468.7,109.9 468.8,107.8 468.8,114.2 468.9,111.5 469.0,115.7 469.1,114.8 469.1,120.0 469.2,118.7 469.3,123.5 469.4,119.9 469.5,126.5 469.5,123.3 469.6,128.9 469.7,125.7 469.8,131.1 469.9,130.2 469.9,133.8 470.0,133.5 470.1,138.3 470.2,136.7 470.2,141.2 470.3,139.1 470.4,144.5 470.5,141.3 470.6,147.1 470.6,144.1 470.7,148.7 470.8,148.4 470.9,152.5 470.9,151.1 471.0,156.2 471.1,153.1 471.2,159.3 471.3,156.0 471.3,162.3 471.4,160.3 471.5,164.9 471.6,162.4 471.6,168.6 471.7,166.3 471.8,169.2 471.9,169.1 472.0,164.3 472.1,165.8 472.2,160.7 472.3,162.3 472.4,158.2 472.5,160.3 472.6,156.2 472.7,157.5 472.8,152.6 472.8,155.4 472.9,148.7 473.0,151.6 473.1,145.7 473.2,149.2 473.3,144.3 473.4,146.1 473.5,139.8 473.6,143.5 473.7,136.9 473.8,139.1 473.9,135.2 474.0,136.7 474.1,132.2 474.2,134.0 474.3,128.4 474.4,131.1 474.5,125.8 474.6,126.9 474.7,121.6 474.7,124.7 474.8,119.8 474.9,121.5 475.0,116.7 475.1,118.7 475.2,113.5 475.3,114.9 475.4,109.4 475.5,113.2 475.6,106.9 475.7,107.7 475.7,110.4 475.8,109.7 475.8,114.4 475.9,111.3 475.9,117.3 476.0,115.7 476.0,120.4 476.1,118.0 476.1,122.7 476.1,120.9 476.2,125.9 476.2,123.8 476.3,129.5 476.3,126.0 476.4,131.1 476.4,130.0 476.5,136.0 476.5,132.8 476.5,138.2 476.6,135.4 476.6,140.0 476.7,138.5 476.7,144.3 476.8,142.0 476.8,146.7 476.9,145.0 476.9,149.3 477.0,148.2 477.0,152.6 477.0,150.3 477.1,156.8 477.1,154.3 477.2,159.7 477.2,157.5 477.3,162.2 477.3,161.1 477.4,166.0 477.4,165.0 478.8,163.4 480.2,166.4 480.3,167.2 480.3,162.6 480.4,164.3 480.4,159.8 480.5,160.7 480.5,155.7 480.6,156.6 480.6,152.9 480.7,155.4 480.7,149.4 480.8,151.1 480.8,146.0 480.9,148.2 480.9,142.8 481.0,145.3 481.0,141.6 481.1,143.6 481.1,138.6 481.2,139.0 481.2,134.1 481.3,135.7 481.4,131.6 481.4,134.3 481.5,128.5 481.5,130.2 481.6,125.1 481.6,128.2 481.7,122.5 481.7,124.8 481.8,120.0 481.8,121.3 481.9,115.5 481.9,119.6 482.0,114.8 482.0,114.8 482.1,111.2 482.1,113.1 482.2,108.3 482.2,108.7 482.3,106.3 482.4,105.6 482.5,110.3 482.6,108.2 482.7,114.1 482.8,111.5 482.9,118.0 483.0,116.1 483.1,121.0 483.2,118.8 483.3,122.9 483.4,122.7 483.5,127.1 483.6,124.7 483.8,129.3 483.9,127.2 484.0,132.1 484.1,131.1 484.2,135.0 484.3,134.4 484.4,139.9 484.5,137.2 484.6,141.3 484.7,140.9 484.8,145.5 484.9,143.9 485.0,149.2 485.1,148.2 485.2,146.0 485.2,147.6 485.2,141.6 485.3,144.4 485.4,139.1 485.4,139.6 485.5,136.4 485.5,137.8 485.6,133.7 485.6,133.5 485.7,128.9 485.7,132.2 485.8,125.6 485.8,129.0 485.9,123.2 485.9,126.0 485.9,119.8 486.0,122.2 486.1,117.3 486.1,117.9 486.1,115.0 486.2,115.3 486.2,111.0 486.3,111.9 486.4,106.8 486.4,109.8 486.4,104.2 486.5,104.9 486.5,109.0 486.6,106.9 486.6,112.0 486.7,108.3 486.7,113.7 486.7,113.2 486.8,117.9 486.8,114.5 486.9,120.9 486.9,118.6 486.9,123.6 487.0,122.4 487.0,125.8 487.1,124.7 487.1,130.0 487.1,128.5 487.2,133.4 487.2,131.7 487.3,136.6 487.3,134.3 487.3,139.3 487.4,136.0 487.4,142.6 487.5,139.8 487.5,145.1 487.5,143.3 487.6,148.4 487.6,146.7 487.7,151.6 487.7,148.7 487.7,152.8 487.8,150.9 487.8,156.4 487.9,155.9 487.9,159.3 487.9,159.1 488.0,162.4 488.0,160.6 488.1,167.0 488.1,163.8 488.1,169.8 488.2,166.4 488.2,172.5 488.3,170.5 488.3,173.4 488.4,173.0 488.5,169.5 488.6,170.6 488.7,166.3 488.7,168.0 488.8,163.0 488.9,164.6 489.0,159.5 489.1,161.7 489.2,157.3 489.3,157.8 489.4,153.1 489.5,154.7 489.5,150.1 489.6,153.4 489.7,147.7 489.8,150.3 489.9,144.2 490.0,147.2 490.1,141.3 490.2,143.8 490.2,137.9 490.3,139.5 490.4,135.3 490.5,137.3 490.6,132.4 490.7,134.5 490.8,128.3 490.9,131.7 491.0,125.5 491.0,127.2 491.1,122.7 491.2,125.3 491.3,119.2 491.4,120.3 492.1,122.7 492.8,123.1 493.5,125.9 493.5,130.2 493.6,127.5 493.6,132.6 493.7,130.0 493.7,134.9 493.8,133.4 493.8,138.3 493.9,135.2 493.9,141.2 494.0,138.6 494.0,143.7 494.1,141.8 494.1,147.4 494.2,144.8 494.2,151.0 494.3,149.3 494.3,154.3 494.4,151.1 494.4,155.7 494.4,154.5 494.5,158.3 494.5,158.0 494.6,163.0 494.6,159.9 494.7,166.1 494.7,164.2 494.8,167.4 494.8,166.7 494.9,171.3 494.9,169.0 495.0,173.9 495.0,171.9 495.1,177.5 495.1,176.0 495.2,181.0 495.2,179.5 495.3,183.6 495.3,183.2 495.4,180.7 495.4,180.8 495.5,177.0 495.6,178.8 495.7,173.7 495.7,175.5 495.8,169.9 495.9,173.4 495.9,168.6 496.0,168.6 496.1,163.8 496.1,166.4 496.2,162.6 496.3,162.9 496.4,158.3 496.4,159.8 496.5,156.0 496.6,157.9 496.6,153.0 496.7,154.8 496.8,148.6 496.9,152.1 496.9,146.3 497.0,148.7 497.1,143.9 497.1,145.7 497.2,140.1 497.3,142.5 497.3,137.4 497.4,139.8 497.5,135.0 497.6,136.7 497.6,130.3 497.7,131.5 497.9,133.7 498.1,133.4 498.3,138.8 498.5,136.8 498.7,141.5 498.9,138.7 499.1,142.8 499.3,141.6 499.5,145.7 499.7,144.2 499.9,149.4 500.1,147.0 500.4,153.7 500.6,151.8 500.8,155.7 501.0,154.8 501.2,159.5 501.4,158.0 501.6,161.0 501.8,160.9 502.0,165.7 502.2,163.7 502.4,167.6 502.6,167.8 504.0,165.3 505.4,167.7 506.8,165.0 508.2,162.1 509.6,162.2 509.9,163.3 510.1,157.8 510.4,159.2 510.6,153.5 510.9,155.6 511.1,152.0 511.4,153.9 511.6,148.6 511.9,150.9 512.1,146.8 512.4,145.9 512.7,151.2 513.0,150.0 513.3,153.7 513.6,151.9 513.9,157.5 514.1,156.1 514.4,159.9 514.7,159.4 515.0,164.5 515.3,162.6 515.6,165.0 515.7,165.3 515.9,160.0 516.0,162.2 516.1,157.3 516.3,158.9 516.4,155.0 516.5,156.9 516.7,150.4 516.8,153.3 516.9,148.8 517.1,151.1 517.2,145.9 517.4,146.4 517.5,142.0 517.6,144.9 517.8,139.1 517.9,140.2 518.0,135.2 518.2,137.3 518.3,133.6 518.4,136.2 518.6,129.6 518.7,132.7 518.8,128.2 519.0,129.9 519.1,125.9 519.2,126.0 519.3,129.6 519.5,128.2 519.6,134.7 519.7,132.9 519.8,136.7 519.9,134.1 520.0,139.5 520.1,138.5 520.3,143.6 520.4,141.3 520.5,147.1 520.6,143.4 520.7,149.9 520.9,146.8 521.0,151.5 521.1,149.9 521.2,155.4 521.3,153.5 521.4,158.5 521.6,156.9 521.7,160.7 521.8,158.6 521.9,164.2 522.0,163.5 522.1,168.6 522.2,165.7 522.4,171.0 522.5,169.1 522.6,172.0 522.7,171.4 522.8,167.6 522.9,169.8 523.0,164.7 523.1,166.9 523.2,161.5 523.3,163.8 523.3,158.7 523.4,159.7 523.5,155.8 523.6,156.0 523.7,151.8 523.8,153.4 523.9,148.7 524.0,150.0 524.1,146.2 524.2,147.2 524.3,141.8 524.4,143.5 524.5,139.8 524.6,142.2 524.7,136.4 524.7,137.8 524.8,132.3 524.9,134.4 525.0,131.2 525.1,131.1 525.2,127.4 525.3,129.9 525.4,125.9 526.8,123.3 528.2,123.1 528.3,125.8 528.4,123.8 528.5,128.4 528.6,128.6 528.7,132.8 528.9,131.5 529.0,135.5 529.1,134.4 529.2,138.8 529.3,135.9 529.4,141.5 529.5,140.3 529.6,144.9 529.7,142.4 529.8,146.7 530.0,146.5 530.1,150.5 530.2,148.9 530.3,153.3 530.4,151.6 530.5,156.3 530.6,154.1 530.7,159.6 530.8,158.7 530.9,162.0 531.0,162.0 531.2,165.4 531.3,163.4 531.4,168.9 531.5,167.4 531.6,173.2 531.7,172.0 532.0,167.8 532.2,171.3 532.5,166.4 532.7,167.3 533.0,162.9 533.2,164.2 533.5,160.3 533.8,161.1 534.0,157.5 534.3,159.4 534.5,153.7 534.8,155.7 535.0,151.0 535.3,153.1 535.5,147.6 535.8,148.2 535.9,150.4 536.1,148.9 536.2,154.5 536.3,153.2 536.5,158.8 536.6,155.4 536.7,160.6 536.8,160.2 537.0,163.9 537.1,162.4 537.2,166.9 537.4,166.3 537.5,170.5 537.6,169.1 537.8,174.1 537.9,173.4 538.1,170.1 538.2,171.6 538.4,166.5 538.5,168.9 538.7,165.1 538.9,165.5 539.0,162.2 539.2,162.9 539.4,157.2 539.5,161.0 539.7,154.8 539.8,156.2 540.0,153.8 540.1,154.3 540.3,157.9 540.4,157.0 540.6,162.0 540.7,160.9 540.9,164.7 541.0,163.1 541.2,168.2 541.3,165.3 541.5,170.7 541.6,168.9 541.8,173.5 541.9,172.3 542.1,177.4 542.2,176.3 542.4,180.3 542.5,178.4 542.7,182.6 542.8,183.2 542.9,180.6 543.0,182.6 543.0,177.3 543.1,178.1 543.2,174.4 543.3,175.8 543.4,171.1 543.4,172.4 543.5,168.3 543.6,169.1 543.7,164.8 543.8,166.9 543.8,162.8 543.9,163.9 544.0,159.2 544.1,161.7 544.1,154.8 544.2,156.8 544.3,152.3 544.4,154.2 544.5,150.6 544.5,152.4 544.6,145.8 544.7,149.2 544.8,143.3 544.9,146.6 544.9,140.5 545.0,142.9 545.1,137.3 545.2,140.2 545.3,133.8 545.3,136.0 545.4,132.2 545.5,133.5 545.6,128.3 545.6,130.0 545.7,124.7 545.8,128.1 545.9,122.0 546.0,124.4 546.0,119.0 546.1,120.6 546.2,115.7 546.3,117.4 546.4,112.5 546.4,115.5 546.5,110.8 546.6,110.5 546.8,113.1 546.9,111.7 547.1,116.8 547.2,114.7 547.4,119.2 547.5,117.4 547.7,123.0 547.9,121.6 548.0,126.9 548.2,124.3 548.3,129.4 548.5,128.2 548.6,132.6 548.8,131.9 548.9,135.3 549.1,135.7 549.2,134.8 549.4,139.5 549.5,139.4 549.6,144.2 549.7,141.8 549.9,146.4 550.0,144.3 550.1,149.9 550.3,147.9 550.4,153.0 550.5,151.6 550.7,156.2 550.8,153.9 550.9,158.7 551.0,157.0 551.2,161.9 551.3,159.8 551.4,164.6 551.6,162.9 551.7,168.1 551.8,164.9 552.0,169.7 552.1,167.9 552.2,174.4 552.3,172.1 552.5,175.7 552.6,176.2 552.7,172.0 552.7,175.9 552.8,170.8 552.8,172.5 552.9,166.0 552.9,168.3 553.0,163.3 553.1,165.3 553.1,160.3 553.2,162.8 553.2,158.0 553.3,158.9 553.4,154.5 553.4,157.2 553.5,152.3 553.5,152.7 553.6,149.8 553.6,150.1 553.7,144.7 553.8,148.2 553.8,141.9 553.9,145.2 553.9,140.6 554.0,141.4 554.1,135.7 554.1,139.4 554.2,132.6 554.2,136.3 554.3,130.2 554.3,133.1 554.4,126.8 554.5,129.4 554.5,125.7 554.6,126.1 554.6,122.7 554.7,123.0 554.8,118.4 554.8,120.0 554.9,116.2 554.9,116.5 555.0,112.9 555.0,114.5 555.1,109.3 555.2,112.4 555.2,107.5 555.3,107.8 555.3,104.5 555.4,106.3 555.5,100.2 555.5,102.7 555.6,96.8 555.6,98.2 555.7,93.5 555.7,95.9 555.8,93.1 555.9,92.7 555.9,97.6 556.0,95.5 556.1,100.5 556.1,99.6 556.2,103.4 556.3,101.6 556.3,106.9 556.4,106.0 556.5,109.8 556.5,108.1 556.6,112.9 556.7,111.1 556.7,117.0 556.8,114.1 556.9,119.9 556.9,117.9 557.0,123.1 557.1,119.5 557.1,125.4 557.2,124.6 557.3,127.5 557.3,126.0 557.4,132.3 557.4,129.2 557.5,134.6 557.6,132.6 557.6,136.8 557.7,135.6 557.8,141.8 557.8,139.5 557.9,144.0 558.0,141.1 558.0,147.1 558.1,145.3 558.2,149.3 558.2,147.5 558.3,153.9 558.4,150.2 558.4,155.7 558.5,153.6 558.6,159.7 558.6,157.5 558.7,162.7 558.8,160.5 558.8,164.5 558.9,165.0 559.6,163.0 560.3,164.4 561.0,158.6 561.7,160.1 562.4,158.0 564.0,157.8 565.7,160.2 567.3,159.4 567.8,156.8 568.3,158.4 568.8,153.6 569.3,154.9 569.8,149.6 570.3,151.1 570.8,148.2 570.9,147.2 571.0,152.8 571.2,151.1 571.3,156.3 571.4,154.3 571.5,158.3 571.7,156.2 571.8,162.6 571.9,160.1 572.0,165.1 572.1,163.0 572.3,167.7 572.4,167.3 572.5,171.3 572.6,168.5 572.7,173.3 572.9,171.3 573.0,177.0 573.1,174.3 573.2,180.9 573.4,179.0 573.5,182.7 573.6,183.2 573.6,179.1 573.7,182.9 573.7,176.3 573.8,179.0 573.8,173.8 573.8,176.4 573.9,170.2 573.9,173.5 574.0,168.3 574.0,170.4 574.0,163.8 574.1,166.8 574.1,162.9 574.2,162.9 574.2,158.4 574.2,160.4 574.3,154.8 574.3,157.9 574.4,152.3 574.4,153.8 574.4,149.6 574.5,152.0 574.5,145.7 574.6,149.4 574.6,144.1 574.6,145.4 574.7,139.5 574.7,141.5 574.7,138.5 574.8,138.7 574.8,134.0 574.9,135.9 574.9,131.0 574.9,134.0 575.0,127.7 575.0,129.2 575.1,125.0 575.1,127.9 575.1,121.9 575.2,125.0 575.2,118.6 575.3,121.4 575.3,115.5 575.3,118.2 575.4,114.1 575.4,114.6 575.5,109.3 575.5,111.7 575.5,107.3 575.6,109.9 575.6,103.7 575.7,106.6 575.7,102.8 576.1,102.7 576.5,107.4 576.8,106.5 577.2,109.7 577.6,109.2 578.0,113.3 578.4,111.3 578.8,115.2 579.1,114.0 579.5,118.2 579.9,118.9 580.0,119.0 580.0,122.6 580.1,121.9 580.2,125.9 580.2,123.9 580.3,129.5 580.4,127.2 580.4,132.7 580.5,131.4 580.6,136.7 580.6,134.6 580.7,139.1 580.8,136.9 580.8,143.2 580.9,139.8 581.0,144.2 581.0,143.4 581.1,149.3 581.2,145.6 581.2,151.0 581.3,150.3 581.4,153.9 581.4,152.0 581.5,156.7 581.6,154.8 581.6,160.0 581.7,158.3 581.8,164.0 581.8,162.4 581.9,165.0 582.0,165.2 582.2,160.0 582.3,161.6 582.5,157.2 582.6,159.4 582.7,153.2 582.9,155.6 583.0,151.9 583.1,153.0 583.3,147.9 583.4,149.9 583.6,144.1 583.7,146.2 583.8,142.0 584.0,143.8 584.1,139.7 584.2,140.7 584.4,136.1 584.5,137.5 584.7,132.3 584.8,135.8 584.9,128.8 585.1,131.1 585.2,127.1 585.4,129.7 585.5,124.7 585.6,124.7 585.8,121.7 585.9,123.6 586.0,117.7 586.2,119.4 586.3,115.6 586.5,117.4 586.6,113.3 586.7,112.0 586.7,118.4 586.8,115.2 586.9,121.2 586.9,119.6 587.0,123.4 587.1,122.7 587.1,126.3 587.2,125.6 587.3,129.1 587.3,129.3 587.4,134.1 587.5,130.6 587.5,136.9 587.6,134.7 587.7,139.1 587.7,137.3 587.8,142.9 587.8,140.9 587.9,145.4 588.0,143.4 588.0,149.1 588.1,146.9 588.2,150.3 588.2,149.8 588.3,155.3 588.4,153.3 588.4,157.7 588.5,156.4 588.6,160.0 588.6,158.4 588.7,162.6 588.8,161.8 588.8,166.8 588.9,166.4 589.0,163.5 589.1,165.6 589.1,159.4 589.2,161.6 589.3,156.6 589.4,159.6 589.5,154.0 589.5,156.3 589.6,151.0 589.7,153.6 589.8,147.8 589.9,149.5 590.0,144.8 590.0,147.5 590.1,142.2 590.2,144.9 590.3,139.6 590.4,141.1 590.4,136.0 590.5,138.2 590.6,133.8 590.7,135.4 590.8,131.0 590.8,132.1 590.9,127.2 591.0,127.3 591.2,130.9 591.4,127.8 591.5,134.6 591.7,132.2 591.9,137.4 592.0,134.7 592.2,139.5 592.4,138.6 592.6,143.3 592.8,141.2 592.9,144.9 593.1,144.0 593.3,147.8 593.5,147.0 593.6,151.0 593.8,149.5 594.0,154.1 594.1,152.0 594.3,158.4 594.5,154.6 594.7,160.1 594.9,158.1 595.0,163.9 595.2,161.0 595.4,166.2 595.5,165.2 595.7,170.0 595.9,169.2 596.0,165.6 596.1,167.5 596.2,162.6 596.3,163.8 596.4,159.3 596.5,162.6 596.5,155.8 596.6,157.8 596.7,153.4 596.8,156.2 596.9,151.5 597.0,152.8 597.1,148.4 597.2,148.9 597.3,145.7 597.4,146.0 597.5,140.8 597.6,143.6 597.6,137.9 597.7,141.4 597.8,136.2 597.9,138.1 598.0,131.5 598.1,134.6 598.2,129.7 598.3,130.5 598.4,126.4 598.5,127.9 598.6,123.8 598.7,125.5 598.8,119.9 598.8,121.5 598.9,117.9 599.0,119.0 599.1,113.6 599.2,116.3 599.3,110.7 599.4,111.2 599.5,115.3 599.6,112.0 599.8,117.3 599.9,115.0 600.0,120.8 600.1,119.0 600.2,122.7 600.3,121.9 600.4,127.0 600.6,124.1 600.7,129.1 600.8,127.6 600.9,131.6 601.0,130.5 601.1,135.5 601.3,133.1 601.4,139.4 601.5,137.8 601.6,142.7 601.7,140.5 601.9,145.7 602.0,141.7 602.1,147.1 602.2,146.3 602.3,149.9 602.4,147.9 602.5,154.3 602.7,150.8 602.8,157.5 602.9,156.6 603.1,153.7 603.4,155.7 603.6,150.5 603.8,151.6 604.1,147.2 604.3,149.2 604.5,144.3 604.8,145.8 605.0,140.5 605.2,143.1 605.5,137.6 605.7,139.1 605.9,134.3 606.2,136.1 606.4,132.9 606.6,132.2 606.7,136.7 606.9,136.4 607.0,139.5 607.2,138.9 607.3,144.4 607.5,141.5 607.6,146.9 607.8,143.7 608.0,150.3 608.1,148.2 608.3,152.0 608.4,150.6 608.6,155.0 608.7,153.5 608.9,157.6 609.0,157.0 609.2,162.1 609.4,160.3 609.5,163.8 609.7,162.2 609.8,166.9 610.0,164.8 610.1,170.8 610.3,167.8 610.4,173.7 610.6,173.4 610.8,170.2 610.9,171.5 611.1,168.1 611.3,170.0 611.4,164.7 611.6,164.9 611.8,160.0 611.9,162.9 612.1,157.7 612.3,160.7 612.4,154.3 612.6,156.1 612.8,152.3 612.9,154.0 613.1,148.3 613.3,149.9 613.4,146.2 613.6,147.5 613.8,143.6 613.9,145.1 614.1,141.2 614.4,140.7 614.7,145.2 615.1,143.9 615.4,149.2 615.7,148.1 616.0,151.9 616.3,149.6 616.6,155.0 617.0,152.8 617.3,157.6 617.6,158.0 617.6,153.7 617.7,157.0 617.7,151.7 617.8,152.6 617.8,149.1 617.9,149.5 617.9,145.9 618.0,146.9 618.0,143.4 618.1,144.2 618.1,140.6 618.2,141.1 618.2,136.8 618.3,137.8 618.3,133.6 618.3,136.6 618.4,130.2 618.4,133.6 618.5,128.6 618.5,130.0 618.6,125.3 618.6,127.6 618.7,121.7 618.7,124.1 618.8,118.1 618.8,119.7 618.9,116.6 618.9,118.3 619.0,112.0 619.0,114.4 619.0,110.7 619.1,110.5 619.1,106.0 619.2,109.0 619.2,103.9 619.3,105.9 619.3,100.0 619.4,101.4 619.4,97.1 619.5,100.6 619.5,93.8 619.6,97.4 619.6,91.8 619.7,93.7 619.7,90.3 619.8,91.0 619.9,95.7 620.0,92.8 620.1,97.9 620.2,97.2 620.3,100.4 620.4,99.5 620.5,105.1 620.6,102.4 620.7,108.0 620.8,106.1 620.9,109.7 621.0,109.0 621.1,112.8 621.2,110.8 621.3,116.0 621.4,114.9 621.5,119.8 621.6,117.6 621.7,123.3 621.8,120.1 621.9,126.2 622.0,123.8 622.1,128.3 622.2,126.8 622.3,132.6 622.4,128.7 622.5,132.9 622.6,136.2 622.7,134.2 622.8,138.1 622.9,136.4 623.0,142.3 623.1,140.4 623.3,144.4 623.4,143.3 623.5,148.6 623.6,146.8 623.7,150.6 623.8,149.2 623.9,154.1 624.0,153.4 624.1,156.2 624.2,155.6 624.3,160.6 624.4,158.6 624.5,162.1 624.7,161.9 624.8,165.5 624.9,163.7 625.0,168.6 625.1,166.2 625.2,171.7 625.3,172.0 625.4,169.5 625.6,169.6 625.7,165.8 625.8,167.7 625.9,162.1 626.1,165.0 626.2,159.6 626.3,160.6 626.5,155.7 626.6,158.0 626.7,154.3 626.8,154.8 627.0,150.4 627.1,150.8 627.5,154.4 627.8,152.6 628.1,156.6 628.5,156.4 628.9,160.4 629.2,157.9 629.6,162.4 629.9,162.0 630.2,166.9 630.6,166.2 630.7,162.5 630.8,164.0 630.9,158.9 631.0,162.3 631.1,156.5 631.2,158.4 631.3,152.9 631.4,155.6 631.5,150.6 631.6,153.8 631.7,147.1 631.8,149.0 631.9,145.7 632.0,146.0 632.1,142.7 632.2,144.5 632.3,138.7 632.4,140.6 632.5,136.0 632.6,137.6 632.7,132.9 632.8,135.1 632.9,129.9 633.0,132.4 633.2,125.9 633.3,129.3 633.4,123.1 633.5,124.7 633.6,120.8 633.7,123.2 633.8,117.9 633.9,119.6 634.0,115.2 634.1,117.1 634.2,111.9 634.3,113.0 634.4,107.8 634.5,109.4 634.6,106.6 634.7,107.1 634.8,102.5 634.9,103.4 635.0,99.6 635.1,101.8 635.2,95.5 635.3,99.2 635.4,92.7 635.5,93.5 635.6,95.7 635.6,95.2 635.7,99.6 635.7,99.0 635.8,103.4 635.9,101.4 635.9,106.4 636.0,103.6 636.0,108.3 636.1,107.4 636.2,111.8 636.2,110.7 636.3,113.8 636.4,113.3 636.4,117.4 636.5,116.7 636.5,121.7 636.6,118.6 636.7,123.9 636.7,123.3 636.8,127.7 636.8,125.8 636.9,129.2 637.0,127.7 637.0,134.1 637.1,131.9 637.1,136.3 637.2,133.5 637.3,139.3 637.3,137.7 637.4,141.5 637.4,141.5 637.5,146.2 637.6,142.8 637.6,147.7 637.7,146.2 637.8,150.7 637.8,149.0 637.9,154.2 637.9,152.2 638.0,157.6 638.1,156.6 638.1,160.7 638.2,158.3 638.2,162.5 638.3,163.4 638.3,161.2 638.4,161.5 638.4,156.7 638.5,160.1 638.5,154.3 638.5,156.8 638.6,150.7 638.6,152.5 638.6,148.2 638.7,150.7 638.7,145.1 638.8,146.9 638.8,141.5 638.8,143.1 638.9,139.1 638.9,140.9 639.0,135.8 639.0,138.3 639.0,133.5 639.1,134.7 639.1,130.0 639.2,130.9 639.2,126.3 639.2,129.8 639.3,123.7 639.3,125.5 639.4,121.1 639.4,122.6 639.4,118.1 639.5,119.2 639.5,113.8 639.5,116.3 639.6,112.4 639.6,114.0 639.7,109.8 639.7,108.9 640.1,111.8 640.4,110.2 640.8,116.0 641.1,114.0 641.5,117.5 641.8,115.6 642.1,120.5 642.5,121.5 642.8,118.4 643.0,120.1 643.3,114.0 643.5,116.6 643.8,112.5 644.1,113.2 644.3,109.1 644.6,108.9 644.7,111.3 644.7,109.3 644.8,115.1 644.8,112.7 644.9,117.6 644.9,115.9 645.0,122.1 645.1,119.9 645.1,125.2 645.2,122.8 645.2,127.7 645.3,124.4 645.3,130.1 645.4,127.4 645.5,133.0 645.5,131.5 645.6,137.2 645.6,134.2 645.7,138.3 645.7,138.2 645.8,142.4 645.9,140.8 645.9,144.3 646.0,142.8 646.0,147.9 646.1,145.6 646.1,151.1 646.2,150.2 646.3,154.2 646.3,151.8 646.4,158.3 646.4,155.4 646.5,159.9 646.5,158.5 646.6,162.9 646.7,161.9 646.7,165.4 646.8,165.7 646.8,170.4 646.9,167.0 646.9,171.9 647.0,170.4 647.1,174.5 647.1,172.9 647.2,178.8 647.2,176.2 647.3,181.4 647.3,179.9 647.4,182.9 647.6,183.8 647.8,178.6 648.0,179.2 648.2,176.1 648.4,178.1 648.6,172.8 648.8,173.2 648.9,169.1 649.1,170.3 649.3,166.5 649.5,168.8 649.7,163.9 649.9,165.0 650.1,162.0 650.4,160.9 650.7,167.6 651.0,164.2 651.3,168.9 651.7,167.0 652.0,173.1 652.3,172.0 652.6,177.2 652.9,176.0 653.0,173.7 653.0,175.8 653.1,170.9 653.2,170.7 653.2,166.9 653.3,168.9 653.3,163.6 653.4,166.4 653.5,161.7 653.5,163.1 653.6,158.2 653.7,160.7 653.7,154.5 653.8,157.1 653.8,152.6 653.9,154.5 654.0,149.2 654.0,150.0 654.1,145.9 654.2,148.2 654.2,143.1 654.3,144.5 654.3,139.5 654.4,141.0 654.5,137.6 654.5,138.4 654.6,135.4 654.8,134.8 654.9,140.5 655.1,138.9 655.2,143.5 655.4,140.5 655.5,146.6 655.7,145.0 655.8,148.2 656.0,146.2 656.2,152.7 656.3,150.9 656.5,155.8 656.6,153.2 656.8,158.5 656.9,156.7 657.1,161.6 657.3,159.7 657.4,164.0 657.6,162.8 657.7,167.8 657.9,164.7 658.0,169.9 658.2,169.4 658.3,172.8 658.5,173.2 658.6,169.4 658.7,171.5 658.7,168.0 658.8,169.6 658.9,164.1 659.0,164.8 659.0,160.3 659.1,162.7 659.2,157.0 659.3,160.4 659.4,154.1 659.4,157.5 659.5,152.0 659.6,154.3 659.7,148.7 659.7,150.9 659.8,146.3 659.9,147.8 660.0,143.6 660.1,145.2 660.1,140.3 660.2,141.5 660.3,135.7 660.4,139.1 660.4,132.7 660.5,135.1 660.6,131.4 660.7,133.3 660.8,127.8 660.8,130.0 660.9,124.5 661.0,126.0 661.1,121.2 661.1,123.2 661.2,117.6 661.3,120.3 661.4,115.9 661.5,117.1 661.5,113.1 661.6,114.8 661.7,109.8 661.8,110.6 661.8,105.9 661.9,107.5 662.0,104.7 662.2,103.6 662.3,110.1 662.5,107.9 662.7,112.3 662.8,110.0 663.0,115.5 663.2,113.3 663.3,118.1 663.5,116.4 663.7,121.7 663.8,118.7 664.0,124.1 664.2,121.9 664.3,126.8 664.5,126.1 664.7,129.9 664.8,127.7 665.0,132.6 665.1,132.1 665.3,136.5 665.5,134.2 665.6,139.9 665.8,138.5 666.0,142.3 666.1,140.2 666.3,144.8 666.5,144.6 666.6,149.3 666.8,147.9 667.0,150.7 667.1,150.5 667.3,155.4 667.5,153.1 667.6,157.5 667.8,155.7 668.0,161.5 668.1,159.8 668.3,162.0 668.4,161.5 668.5,157.5 668.6,159.4 668.7,155.0 668.8,155.9 668.9,150.9 669.0,151.9 669.0,148.4 669.1,148.9 669.2,144.0 669.3,145.7 669.4,142.6 669.5,144.0 669.6,139.4 669.7,140.8 669.8,136.1 669.9,138.7 670.0,132.5 670.1,134.2 670.2,130.3 670.3,131.4 670.4,125.9 670.4,128.8 670.5,123.0 670.6,125.3 670.7,119.4 670.8,122.0 670.9,117.2 671.0,120.1 671.1,115.9 671.8,112.2 672.5,114.7 673.2,109.4 673.9,112.6 674.6,108.9 674.7,109.2 674.7,113.4 674.8,111.2 674.9,116.4 674.9,115.2 675.0,119.9 675.1,118.9 675.1,122.3 675.2,119.9 675.3,125.3 675.3,123.4 675.4,127.9 675.5,127.6 675.5,132.1 675.6,130.6 675.7,136.1 675.8,132.2 675.8,137.7 675.9,137.1 676.0,142.2 676.0,138.7 676.1,144.3 676.2,143.5 676.2,146.3 676.3,145.1 676.4,150.8 676.4,148.7 676.5,153.1 676.6,152.2 676.6,156.3 676.7,156.4 676.9,153.4 677.1,155.4 677.3,150.5 677.5,151.8 677.7,147.9 677.9,149.5 678.1,143.3 678.3,145.5 678.5,140.7 678.7,143.5 678.9,139.0 679.1,139.4 679.3,134.6 679.5,136.5 679.7,133.3 680.0,133.4 680.2,128.7 680.4,131.0 680.6,127.6 680.8,127.8 681.0,123.4 681.2,125.3 681.4,121.3 681.6,123.2 681.8,117.1 682.0,118.9 682.2,115.0 682.4,115.9 682.6,112.7 682.8,113.7 683.0,110.3 683.2,110.6 683.3,115.4 683.5,112.4 683.7,117.6 683.8,116.6 684.0,120.7 684.2,119.2 684.3,123.0 684.5,122.4 684.7,126.6 684.8,126.1 685.0,130.8 685.2,127.8 685.3,133.1 685.5,132.2 685.7,136.6 685.8,134.5 686.0,140.0 686.1,136.9 686.3,141.6 686.5,139.7 686.6,145.4 686.8,143.6 687.0,148.8 687.1,146.7 687.3,150.4 687.5,150.4 687.6,154.5 687.8,152.9 688.0,156.5 688.1,156.4 688.3,160.8 688.5,158.9 688.6,164.1 688.8,160.5 689.0,167.0 689.1,165.0 689.3,167.6 690.0,166.3 690.1,167.5 690.3,161.3 690.4,164.2 690.6,157.7 690.7,160.0 690.9,155.9 691.0,158.3 691.1,153.0 691.3,153.5 691.4,150.6 691.6,151.5 691.7,147.0 691.9,149.4 692.0,144.6 692.2,145.1 692.3,140.0 692.4,142.6 692.6,136.7 692.7,139.7 692.9,133.6 693.0,137.4 693.2,130.6 693.3,133.5 693.4,128.7 693.6,130.4 693.7,126.0 693.9,126.7 694.0,122.4 694.2,124.1 694.3,119.6 694.5,120.3 694.6,115.3 694.7,117.9 694.9,113.4 695.0,114.9 695.2,110.2 695.3,112.8 695.5,106.3 695.6,107.5 695.8,110.9 696.0,107.9 696.2,113.5 696.4,112.0 696.6,116.5 696.7,113.9 696.9,119.0 697.1,118.7 697.3,123.5 697.5,121.7 697.7,125.0 697.9,124.4 698.1,129.0 698.3,127.3 698.5,131.5 698.7,130.6 698.8,134.7 699.0,134.0 699.2,138.2 699.4,137.0 699.6,140.6 699.8,141.1 699.8,140.0 699.9,146.6 699.9,144.2 699.9,148.9 700.0,147.8 700.0,150.7 700.0,151.6 700.1,153.1 700.1,154.6 700.1,156.1 700.2,157.6 700.2,159.1 700.2,160.6 700.3,162.1 700.3,163.6 700.3,165.1 700.4,166.6 700.4,168.1 700.4,169.6 700.5,171.1 700.5,172.6 700.5,174.1 700.6,175.6 700.6,177.1 700.6,178.6 700.7,180.1 700.7,181.7 700.7,183.2 700.8,184.7 700.8,186.2 700.8,187.7 700.9,189.2 700.9,190.7 700.9,192.2 701.0,193.7 701.0,195.2 701.0,196.7 701.1,198.2 701.1,199.7 701.1,201.2 701.2,202.7 701.2,204.2 701.2,205.7 701.3,207.2 701.3,208.7 701.3,210.2 701.4,211.7 701.4,213.2 701.4,214.7 701.5,216.2 701.5,217.7 701.5,219.2 701.6,220.7 701.6,222.2 701.6,223.7 701.7,225.2 701.7,226.7 701.7,228.2 701.8,229.7 701.8,231.2 701.8,232.7 701.9,234.2 701.9,235.7 701.9,237.2 702.0,238.7 702.0,240.2" stroke="#ff0000" stroke-width="2.8" fill="none" stroke-linejoin="round"/>
<path d="M284.0,187.4 285.1,191.9 286.2,176.9 287.3,196.2 288.4,197.2 289.5,200.6 290.6,197.9 291.7,200.8 292.8,190.9 293.9,187.3 295.0,200.9 296.1,205.0 297.2,185.7 298.3,191.5 299.4,192.5 300.5,196.3 301.6,198.1 302.7,201.3 303.8,202.0 304.9,203.5 306.0,201.8 307.1,202.1 308.2,201.9 309.3,201.5 310.4,170.9 311.5,179.4 312.6,156.2 313.7,195.1 314.8,198.1 315.9,201.2 317.0,173.8 318.1,182.1 319.2,161.3 320.3,199.1 321.4,200.4 322.5,199.1 323.6,190.0 324.7,197.5 325.8,186.5 326.9,197.8 328.0,199.9 329.1,200.5 330.2,177.5 331.3,198.2 332.4,194.0 333.5,200.8 334.6,198.4 335.7,198.9 336.8,199.1 337.9,193.8 339.0,172.0 340.1,193.6 341.2,184.8 342.3,195.7 343.4,181.2 344.5,191.6 345.6,190.5 346.7,191.2 347.8,162.1 348.9,191.4 350.0,173.8 351.1,192.1 352.2,188.4 353.3,187.6 354.4,178.8 355.5,174.5 356.6,177.7 357.7,187.3 358.8,163.4 359.9,184.9 361.0,171.9 362.1,186.5 363.2,180.7 364.3,185.5 365.4,180.1 366.5,183.3 367.6,187.3 368.7,191.5 369.8,184.4 370.9,189.2 372.0,190.5 373.1,193.5 374.2,192.0 375.3,194.1 376.4,188.0 377.5,190.4 378.6,171.1 379.7,189.7 380.8,146.7 381.9,178.8 383.0,189.7 384.1,187.0 385.2,187.2 386.3,186.9 387.4,183.4 388.5,185.5 389.6,176.1 390.7,186.6 391.8,186.1 392.9,185.6 394.0,178.9 395.1,181.7 396.2,183.3 397.3,186.3 398.4,168.3 399.5,167.0" stroke="#ff0000" stroke-width="1.3" fill="none" stroke-linejoin="round"/>
<path d="M119.0,633.1 120.4,633.1 121.8,633.1 123.2,633.1 124.6,633.1 126.0,633.1 127.4,633.1 128.9,633.1 130.3,633.1 131.7,633.1 133.1,633.1 134.5,633.1 135.9,633.1 137.3,633.1 138.7,633.1 140.1,633.1 141.5,633.1 142.9,633.1 144.3,633.1 145.8,633.1 147.2,633.1 148.6,633.1 150.0,633.1 151.4,633.1 152.8,633.1 154.2,633.1 155.6,633.1 157.0,633.1 158.4,633.1 159.8,633.1 161.2,633.1 162.7,633.1 164.1,633.1 165.5,633.1 166.9,633.1 168.3,633.1 169.7,633.1 171.1,633.1 172.6,632.6 174.0,632.1 175.4,631.7 176.9,631.2 178.4,630.2 179.8,630.2 181.0,629.6 182.1,627.7 183.3,627.7 184.4,626.1 185.6,626.1 186.8,623.4 187.9,624.6 189.1,621.6 190.2,622.1 191.4,620.7 192.3,618.8 193.2,619.0 194.1,616.9 195.0,616.6 195.9,614.7 196.8,615.1 197.6,611.9 198.5,612.8 199.4,609.7 200.3,610.0 201.2,607.9 202.1,608.2 203.0,606.2 204.0,604.2 204.9,605.1 205.9,601.9 206.8,602.2 207.8,600.0 208.8,600.6 209.7,597.9 210.7,597.9 211.6,595.8 212.6,595.7 213.5,593.1 214.5,593.2 215.5,593.2 216.6,590.3 217.6,590.6 218.7,587.9 219.7,588.8 220.8,585.9 221.8,585.9 222.2,585.6 222.6,582.5 223.0,582.5 223.5,579.7 223.9,579.8 224.3,577.4 224.7,577.0 225.1,574.1 225.5,574.1 225.9,572.2 226.4,572.0 226.8,569.3 227.2,569.2 227.6,567.1 228.0,565.1 228.4,565.0 228.7,561.8 229.1,562.1 229.5,559.7 229.9,559.4 230.3,556.8 230.6,556.8 231.0,554.3 231.4,554.5 231.8,551.7 232.2,551.6 232.5,548.4 232.9,548.5 233.3,546.8 233.6,545.1 234.0,544.5 234.3,541.7 234.7,542.1 235.0,539.5 235.4,539.1 235.7,536.8 236.1,536.5 236.4,534.1 236.8,533.9 237.1,530.6 237.5,531.4 237.8,528.0 238.2,528.7 238.5,525.9 238.9,525.3 239.2,522.2 239.6,523.0 239.9,520.0 240.3,520.4 240.6,517.9 240.9,515.7 241.3,516.2 241.6,513.2 242.0,512.8 242.3,510.4 242.7,510.0 243.0,507.7 243.3,508.1 243.7,505.0 244.0,504.4 244.4,502.5 244.7,501.8 245.1,499.0 245.4,499.2 245.7,496.7 246.1,496.2 246.4,493.3 246.8,493.8 247.1,491.3 247.5,490.7 247.8,489.0 248.1,487.3 248.5,486.6 248.8,484.0 249.2,483.9 249.5,481.8 249.9,481.4 250.2,478.9 250.6,479.2 250.9,476.2 251.3,475.9 251.6,472.8 252.0,473.1 252.3,469.9 252.7,470.4 253.0,467.8 253.4,467.5 253.7,465.2 254.1,464.8 254.4,462.3 254.8,462.5 255.1,460.0 255.5,457.6 255.9,458.0 256.3,455.6 256.7,455.0 257.1,452.7 257.5,452.2 257.9,450.0 258.3,450.1 258.7,447.3 259.1,446.6 259.5,443.8 259.9,444.4 260.3,441.0 260.7,441.5 261.1,438.4 261.5,439.0 261.9,435.8 262.3,435.4 262.8,435.0 263.2,432.0 263.7,431.7 264.1,429.5 264.6,429.7 265.0,426.2 265.4,427.0 265.9,424.0 266.4,424.1 266.8,420.8 267.2,421.3 267.7,418.1 268.1,418.5 268.6,415.5 269.1,416.0 269.5,413.7 270.1,411.8 270.6,411.9 271.1,408.2 271.7,408.2 272.2,405.3 272.8,406.2 273.3,402.7 273.9,402.1 274.3,401.0 274.7,398.3 275.1,398.4 275.4,395.5 275.8,396.2 276.2,393.7 276.6,393.0 277.0,390.4 277.4,390.7 277.8,387.6 278.2,388.3 278.5,385.4 278.9,384.7 279.3,382.0 279.7,381.8 280.2,381.0 280.7,376.7 281.3,378.5 281.8,374.1 282.3,377.1 282.8,371.3 283.4,373.9 283.9,368.5 284.4,369.5 284.9,369.1 285.4,364.9 285.8,366.6 286.3,361.7 286.8,362.7 287.0,366.2 287.2,364.0 287.4,368.5 287.7,367.7 287.9,370.2 288.1,369.3 288.3,372.4 289.6,373.0 290.9,368.1 292.2,369.5 292.9,372.6 293.5,371.3 294.1,374.7 294.8,372.6 295.5,377.6 296.1,377.3 297.3,375.5 298.6,377.1 299.8,371.4 301.0,372.4 301.8,374.2 302.6,373.0 303.4,377.2 304.3,374.8 305.1,379.3 305.9,379.3 306.5,376.8 307.2,377.9 307.9,372.4 308.5,374.2 309.1,371.2 309.8,370.5 310.2,373.7 310.7,371.0 311.1,376.3 311.5,374.7 312.0,379.9 312.4,376.8 312.8,381.0 313.3,379.4 313.7,383.2 314.3,382.6 314.9,378.9 315.4,380.8 316.0,375.6 316.6,375.4 316.8,376.1 317.0,371.5 317.2,373.2 317.4,368.4 317.7,368.6 317.9,364.7 318.1,366.0 318.3,361.6 318.5,361.7 318.8,365.5 319.0,362.5 319.3,366.5 319.6,366.2 319.9,370.4 320.1,368.7 320.4,373.6 320.7,371.5 321.0,375.1 321.2,374.9 321.5,377.3 322.1,378.2 322.7,373.2 323.3,375.2 323.9,369.1 324.5,372.1 325.1,367.0 325.7,369.3 326.3,366.1 326.8,366.3 327.3,371.3 327.8,368.8 328.2,374.1 328.7,371.9 329.2,376.8 329.7,373.7 330.2,377.3 330.8,377.7 331.3,373.1 331.9,374.0 332.4,369.6 333.0,371.6 333.5,367.1 334.1,367.6 334.5,369.9 334.9,369.8 335.2,372.8 335.6,371.2 336.0,375.8 336.4,374.0 336.7,379.1 337.1,379.3 337.6,376.1 338.1,377.6 338.6,373.1 339.0,374.1 339.5,370.6 340.0,370.5 340.2,374.4 340.4,372.5 340.7,376.7 340.9,375.0 341.1,378.8 341.3,378.5 341.6,381.0 341.8,379.4 342.0,385.6 342.2,382.5 342.5,388.4 342.7,385.1 342.9,389.0 344.1,389.1 345.4,385.8 346.6,388.4 347.8,386.1 349.0,385.6 350.2,391.0 351.5,387.7 352.7,391.0 353.9,392.6 355.1,388.3 356.4,390.0 357.6,387.1 358.9,384.2 360.2,387.2 361.6,382.4 362.9,383.2 363.4,386.9 363.9,385.0 364.4,390.0 364.9,387.7 365.4,392.3 365.9,392.0 367.5,389.9 369.1,394.6 370.7,392.9 371.3,393.1 371.9,396.6 372.5,395.8 373.1,400.1 373.8,397.1 374.4,403.4 375.0,401.0 375.6,403.7 377.1,405.3 378.6,401.9 380.0,405.5 381.5,404.6 382.5,402.1 383.4,402.8 384.4,400.2 385.3,401.6 386.3,398.8 387.0,398.1 387.6,403.2 388.3,401.4 388.9,406.5 389.6,403.5 390.2,407.4 390.9,407.2 391.5,411.7 392.2,410.5 393.0,409.2 393.7,415.5 394.5,412.6 395.2,416.9 396.0,416.3 396.7,419.4 397.5,418.6 398.2,423.4 399.0,422.2 400.6,420.5 402.3,425.6 403.9,424.1 404.7,424.4 405.6,427.4 406.4,426.3 407.3,431.1 408.1,428.9 409.0,433.0 409.8,432.0 410.5,431.4 411.2,436.4 411.9,433.6 412.5,438.6 413.2,437.3 413.9,441.2 414.6,441.7 415.8,441.8 417.0,443.8 418.1,442.9 419.3,445.6 420.5,445.6 422.1,444.6 423.6,447.4 425.2,443.3 426.7,446.5 428.3,443.7 429.4,440.7 430.5,443.8 431.6,438.9 432.8,442.3 433.9,436.4 435.0,439.8 436.1,436.8 437.5,434.2 438.8,436.8 440.2,431.9 441.5,434.6 442.9,432.0 443.6,429.1 444.2,430.2 444.9,425.8 445.5,428.3 446.2,424.8 446.8,425.0 447.5,420.5 448.1,422.6 448.8,420.2 450.0,419.8 451.2,424.1 452.5,420.8 453.7,424.1 454.7,424.0 455.6,420.2 456.6,421.6 457.6,418.3 458.5,419.9 459.5,416.3 461.1,415.4 462.6,418.1 464.2,414.3 465.7,415.6 467.3,414.4 468.3,410.8 469.3,414.0 470.2,409.5 471.2,410.9 472.2,406.4 473.2,406.6 474.2,407.4 475.1,403.3 476.1,405.3 477.0,399.3 478.0,402.7 478.9,397.0 479.9,398.3 481.2,401.7 482.5,398.9 483.8,401.2 484.8,402.3 485.8,396.5 486.7,399.3 487.7,396.3 488.4,397.0 489.1,400.9 489.8,398.1 490.5,403.1 491.2,401.4 491.9,407.1 492.6,406.1 493.6,403.1 494.6,404.2 495.5,400.6 496.5,401.2 497.2,403.5 497.9,401.4 498.6,406.9 499.2,405.1 499.9,409.9 500.6,406.9 501.3,410.0 502.9,411.9 504.6,409.1 506.2,412.0 507.0,413.2 507.8,407.3 508.6,410.9 509.5,405.5 510.3,408.2 511.1,405.1 512.1,404.5 513.0,409.2 514.0,406.2 515.0,410.0 515.4,409.9 515.8,406.5 516.2,407.8 516.7,402.8 517.1,404.7 517.5,399.8 517.9,400.2 518.7,402.6 519.5,402.0 520.2,405.0 521.0,403.6 521.8,407.1 522.6,408.3 523.4,402.8 524.1,404.3 524.9,399.8 525.7,401.2 526.4,404.9 527.0,402.6 527.7,406.1 528.3,404.8 529.0,410.3 529.6,410.0 530.0,406.8 530.5,407.7 530.9,403.7 531.3,404.9 531.8,401.4 532.2,402.4 532.6,398.9 533.1,401.1 533.5,397.3 534.2,396.6 535.0,402.2 535.7,400.2 536.5,404.0 537.2,402.2 537.9,405.9 538.7,405.3 539.4,408.0 539.8,411.9 540.3,408.6 540.7,414.4 541.2,412.3 541.6,416.7 542.1,414.0 542.5,419.5 543.0,417.4 543.4,421.1 543.9,421.0 544.3,425.3 544.8,421.8 545.2,425.6 545.7,425.3 546.3,420.7 546.8,422.7 547.4,418.1 547.9,420.8 548.5,415.9 549.0,417.5 549.6,413.3 550.1,412.9 550.7,416.0 551.3,415.4 551.8,418.6 552.4,418.0 553.0,420.7 553.4,421.7 553.9,417.1 554.3,418.6 554.8,414.4 555.2,416.2 555.7,411.4 556.1,411.5 556.6,408.5 557.0,408.0 557.4,411.8 557.8,408.8 558.2,414.5 558.6,411.9 559.0,415.6 559.3,415.0 559.7,419.1 560.1,416.4 560.5,421.2 560.9,421.7 561.3,419.3 561.7,421.2 562.1,416.8 562.5,418.8 562.8,413.7 563.2,415.2 563.6,410.2 564.0,413.1 564.4,408.7 564.8,408.0 565.2,411.7 565.7,409.9 566.1,414.2 566.5,413.1 567.0,417.2 567.4,415.6 567.8,418.8 568.3,418.7 568.7,420.7 569.5,420.5 570.3,416.8 571.0,419.2 571.8,413.5 572.6,413.9 573.2,416.6 573.9,414.3 574.5,419.2 575.2,418.8 575.9,423.7 576.5,422.7 578.1,419.5 579.7,423.3 581.3,420.7 582.3,419.3 583.3,423.7 584.2,421.8 585.2,427.4 586.2,426.6 587.2,426.1 588.2,431.8 589.1,430.2 590.1,432.4 590.8,431.9 591.5,428.8 592.2,429.8 592.9,425.2 593.6,427.1 594.3,422.8 595.0,422.7 596.0,425.9 597.0,422.8 597.9,428.3 598.9,426.7 599.9,428.5 600.9,428.0 601.9,424.8 602.8,425.4 603.8,421.3 604.8,421.7 606.0,423.6 607.2,421.8 608.4,425.9 609.6,425.6 610.8,423.5 612.0,426.0 613.1,420.8 614.3,423.4 615.5,421.7 616.7,419.2 618.0,421.8 619.2,417.1 620.4,416.8 621.6,416.2 622.7,413.6 623.9,415.6 625.0,410.1 626.2,411.0 627.2,414.8 628.2,412.2 629.1,415.7 630.1,415.3 631.1,417.8 631.9,418.5 632.7,413.7 633.4,414.5 634.2,411.1 635.0,411.0 635.7,413.9 636.4,412.5 637.1,416.6 637.8,415.7 638.5,418.5 639.2,417.2 639.9,420.7 640.9,421.4 641.8,416.7 642.8,416.8 643.3,418.9 643.8,418.4 644.3,422.5 644.8,419.8 645.2,425.1 645.7,422.4 646.2,427.9 646.7,427.6 648.7,426.2 650.6,426.6 651.2,429.7 651.9,427.4 652.5,432.3 653.2,429.8 653.9,433.7 654.5,434.4 655.5,434.1 656.5,438.9 657.4,437.1 658.4,439.6 659.4,440.2 660.4,438.2 661.3,439.0 662.3,435.4 663.3,436.8 664.2,432.7 665.2,433.4 666.2,435.3 667.1,434.2 668.1,438.4 669.0,435.8 670.0,438.5 671.5,440.6 672.9,437.6 673.7,436.5 674.5,441.4 675.2,440.5 676.0,444.7 676.8,444.4 678.8,442.2 680.7,443.4 681.4,446.1 682.1,443.9 682.8,448.5 683.5,447.5 684.2,451.2 684.9,449.4 685.6,453.2 686.3,456.3 686.9,453.2 687.6,457.9 688.2,456.4 688.9,461.5 689.5,460.4 690.2,464.5 690.8,461.3 691.5,464.9 692.7,466.7 693.8,464.7 695.0,470.5 696.1,467.8 697.3,470.7 698.3,473.7 699.3,472.2 700.2,475.2 701.2,474.4 702.2,479.5 703.2,478.5 703.7,478.9 704.2,482.7 704.6,481.5 705.1,485.9 705.6,482.8 706.1,489.1 706.6,487.0 707.0,490.8 707.5,490.3 708.0,492.2 709.0,495.0 710.0,492.2 710.9,498.0 711.9,496.2 712.9,498.0 714.5,499.4 716.2,497.3 717.8,498.0 719.0,500.2 720.2,497.1 721.5,501.4 722.7,501.0 723.7,497.5 724.7,501.1 725.6,495.2 726.6,497.2 727.6,495.1 728.6,493.9 729.5,500.0 730.5,496.2 731.5,500.0 732.3,499.2 733.1,496.8 733.8,497.0 734.6,493.0 735.4,493.2 735.9,496.0 736.5,495.3 737.0,499.3 737.5,496.9 738.1,502.1 738.6,500.1 739.1,504.7 739.7,502.5 740.2,505.9 740.9,507.9 741.6,507.2 742.3,510.8 743.0,510.6 743.7,514.8 744.3,512.9 745.0,516.6 745.7,515.7 746.4,519.9 747.1,519.5 748.3,517.8 749.5,519.4 750.8,515.9 752.0,515.6 753.2,517.1 754.3,512.8 755.5,514.8 756.6,510.0 757.8,510.7 759.1,511.1 760.4,507.6 761.7,509.1 763.0,504.7 764.3,507.5 765.6,504.9 766.8,504.4 768.0,508.3 769.1,506.6 770.3,510.4 771.5,510.7 772.9,510.2 774.2,514.5 775.6,512.0 776.9,516.3 778.3,515.6 779.8,514.4 781.2,517.5 782.6,514.6 784.1,517.6 785.2,518.7 786.4,513.9 787.5,517.7 788.7,512.9 789.9,514.7 791.0,512.7 792.4,511.0 793.7,512.7 795.1,509.8 796.4,511.6 797.8,509.8 799.2,509.2 800.5,512.1 801.9,509.8 803.2,512.6 804.6,511.7 805.6,511.1 806.6,515.5 807.5,513.3 808.5,519.1 809.5,517.0 810.5,519.5 811.6,522.7 812.8,520.6 813.9,523.2 815.0,520.8 816.2,525.0 817.3,525.4 818.9,524.2 820.6,526.4 822.2,523.4 823.4,521.7 824.5,523.0 825.7,518.2 826.8,519.7 828.0,517.6 829.7,516.3 831.5,519.6 833.2,515.5 834.9,516.6 836.3,518.2 837.6,516.3 839.0,520.4 840.3,517.8 841.7,519.5 842.5,521.5 843.4,519.8 844.2,524.0 845.1,523.9 845.9,526.3 846.8,524.5 847.6,528.3 849.0,529.2 850.5,525.2 852.0,528.5 853.4,526.3 855.0,523.2 856.7,526.4 858.4,523.3 860.0,524.0 861.4,526.7 862.8,525.1 864.2,527.7 865.6,527.2 866.7,526.1 867.8,530.8 869.0,528.5 870.1,533.5 871.2,532.0 872.2,531.9 873.1,536.6 874.1,534.5 875.0,537.8 876.0,538.4 877.6,536.5 879.2,538.3 880.8,536.8 882.2,536.6 883.6,538.7 885.0,537.2 886.4,538.4 887.3,538.8 888.3,534.2 889.2,537.3 890.1,531.8 891.1,534.2 892.0,532.0 892.8,528.8 893.6,531.7 894.4,526.7 895.2,529.1 896.0,524.6 896.8,524.0 898.0,527.4 899.2,523.6 900.4,529.6 901.6,528.0 903.2,526.2 904.8,530.8 906.4,527.8 908.0,529.6 909.6,532.0 911.2,528.1 912.8,532.5 914.4,531.2 916.4,529.0 918.4,530.4 919.1,531.2 919.8,526.1 920.5,525.6 921.7,528.2 922.8,527.7 924.0,529.6 925.3,532.9 926.6,529.7 927.8,534.4 929.1,532.4 930.4,534.4 932.0,534.8 933.6,531.8 935.2,532.8 936.4,536.1 937.6,533.5 938.8,537.2 940.0,536.8 941.6,535.0 943.2,536.0 944.0,539.6 944.8,537.8 945.6,542.2 946.4,540.6 947.2,542.4 948.8,544.4 950.4,540.3 952.0,542.4 953.4,544.7 954.8,541.9 956.2,545.9 957.6,545.6 959.2,545.4 960.8,548.1 962.4,546.3 964.0,548.0 965.2,551.6 966.4,551.2 966.8,550.9 967.2,556.0 967.6,553.0 968.0,559.1 968.4,556.2 968.8,562.4 969.2,558.8 969.6,564.8 970.0,562.9 970.4,565.6 970.9,568.5 971.3,566.3 971.8,571.9 972.2,568.7 972.7,574.5 973.1,571.9 973.6,575.2 974.3,577.6 974.9,576.1 975.6,580.1 976.3,578.7 976.9,582.8 977.6,583.2 979.0,583.4 980.4,587.3 981.8,583.3 983.2,586.4 984.5,588.2 985.8,587.1 987.0,590.5 988.3,586.8 989.6,589.6 990.9,591.1 992.2,588.7 993.4,593.8 994.7,590.4 996.0,592.8 997.6,594.4 999.2,593.1 1000.8,594.9 1002.4,593.3 1004.0,595.2 1005.0,598.3 1005.9,595.6 1006.9,599.5 1007.8,597.5 1008.8,600.8 1009.8,602.6 1010.7,601.2 1011.7,605.0 1012.6,605.3 1013.6,606.4 1014.9,607.0 1016.2,607.7 1017.4,608.3 1018.7,609.0 1020.0,609.6 1022.0,610.1 1024.0,610.6" stroke="#ff0000" stroke-width="2.5" fill="none" stroke-linejoin="round"/>
</g>
<rect x="119.4" y="48.8" width="904.6999999999999" height="850.4000000000001" fill="none" stroke="#1a1a1a" stroke-width="2.2"/>
<line x1="119.4" y1="347.4" x2="1024.1" y2="347.4" stroke="#1a1a1a" stroke-width="2.4"/>
<line x1="119.4" y1="646.1" x2="1024.1" y2="646.1" stroke="#1a1a1a" stroke-width="2.4"/>
<path d="M173.2 48.8v7 M173.2 340.4v14 M173.2 640.1v12 M173.2 899.2v-6 M305.3 48.8v7 M305.3 340.4v14 M305.3 640.1v12 M305.3 899.2v-6 M437.4 48.8v7 M437.4 340.4v14 M437.4 640.1v12 M437.4 899.2v-6 M569.4 48.8v7 M569.4 340.4v14 M569.4 640.1v12 M569.4 899.2v-6 M701.5 48.8v7 M701.5 340.4v14 M701.5 640.1v12 M701.5 899.2v-6 M833.6 48.8v7 M833.6 340.4v14 M833.6 640.1v12 M833.6 899.2v-6 M965.7 48.8v7 M965.7 340.4v14 M965.7 640.1v12 M965.7 899.2v-6 M119.4 334.4h19 M1024.1 334.4h-19.8 M119.4 272.3h19 M1024.1 272.3h-19.8 M119.4 210.2h19 M1024.1 210.2h-19.8 M119.4 148.1h19 M1024.1 148.1h-19.8 M119.4 86.0h19 M1024.1 86.0h-19.8 M119.4 633.8h19 M1024.1 633.8h-19.8 M119.4 552.2h19 M1024.1 552.2h-19.8 M119.4 470.6h19 M1024.1 470.6h-19.8 M119.4 389.0h19 M1024.1 389.0h-19.8 M119.4 888.7h19 M1024.1 888.7h-19.8 M119.4 816.2h19 M1024.1 816.2h-19.8 M119.4 743.6h19 M1024.1 743.6h-19.8 M119.4 671.1h19 M1024.1 671.1h-19.8" stroke="#1a1a1a" stroke-width="2.2" fill="none"/>
<text transform="translate(88.17,0) scale(0.9395,1)" x="0" y="344.2" font-size="33.4">0</text>
<path d="M101.1 259.1H104.4V282.1H101.1V264.5L96.4 265.7V262.7Z" fill="#0c0c14"/>
<text transform="translate(88.34,0) scale(0.9267,1)" x="0" y="220.0" font-size="33.4">2</text>
<text transform="translate(89.72,0) scale(0.8525,1)" x="0" y="157.9" font-size="33.4">3</text>
<text transform="translate(87.70,0) scale(0.9091,1)" x="0" y="95.8" font-size="33.4">4</text>
<text transform="translate(88.17,0) scale(0.9395,1)" x="0" y="643.6" font-size="33.4">0</text>
<path d="M100.9 539.0H104.2V562.0H100.9V544.4L96.6 545.6V542.6Z" fill="#0c0c14"/>
<text transform="translate(88.34,0) scale(0.9267,1)" x="0" y="480.4" font-size="33.4">2</text>
<text transform="translate(89.74,0) scale(0.8336,1)" x="0" y="398.8" font-size="33.4">3</text>
<text transform="translate(82.77,0) scale(0.9395,1)" x="0" y="898.5" font-size="33.4">0</text>
<text transform="translate(83.71,0) scale(0.8904,1)" x="0" y="826.0" font-size="33.4">5</text>
<path d="M76.1 730.4H79.5V753.4H76.1V735.8L70.9 737.0V734.0Z" fill="#0c0c14"/>
<text transform="translate(85.69,0) scale(0.9270,1)" x="0" y="753.4" font-size="33.4">0</text>
<path d="M77.0 657.9H80.3V680.9H77.0V663.3L72.4 664.5V661.5Z" fill="#0c0c14"/>
<text transform="translate(87.31,0) scale(0.8146,1)" x="0" y="680.9" font-size="33.4">5</text>
<text transform="translate(154.05,0) scale(1.0209,1)" x="0" y="939.7" font-size="33.4">7</text>
<text transform="translate(286.05,0) scale(1.0656,1)" x="0" y="939.7" font-size="33.4">8</text>
<text transform="translate(417.73,0) scale(1.0695,1)" x="0" y="939.7" font-size="33.4">9</text>
<path d="M558.9 916.6H562.2V939.7H558.9V922.0L554.3 923.2V920.2Z" fill="#0c0c14"/>
<text transform="translate(568.68,0) scale(0.9332,1)" x="0" y="939.7" font-size="33.4">0</text>
<path d="M691.5 916.6H694.8V939.7H691.5V922.0L687.3 923.2V920.2Z" fill="#0c0c14"/>
<path d="M708.1 916.6H711.4V939.7H708.1V922.0L703.9 923.2V920.2Z" fill="#0c0c14"/>
<path d="M823.3 916.6H826.6V939.7H823.3V922.0L819.3 923.2V920.2Z" fill="#0c0c14"/>
<text transform="translate(832.21,0) scale(0.9464,1)" x="0" y="939.7" font-size="33.4">2</text>
<path d="M955.6 916.6H958.9V939.7H955.6V922.0L951.3 923.2V920.2Z" fill="#0c0c14"/>
<text transform="translate(965.86,0) scale(0.8146,1)" x="0" y="939.7" font-size="33.4">3</text>
<g transform="translate(128.52,0) scale(0.9447,1)"><text x="0" y="34.5" font-size="47">Discharge 99886</text></g>
<text x="484" y="992.7" font-size="47">Time (s)</text>
<path d="M290.2 255.6H303.4V258.6H298.8V284.7H303.4V287.7H290.2V284.7H294.8V258.6H290.2Z" fill="#0c0c14"/>
<g transform="translate(305.01,0) scale(0.8972,1)"><text x="0" y="287.7" font-size="47">CRH Power</text></g>
<g transform="translate(278.53,0) scale(0.9671,1)"><text x="0" y="574" font-size="47">Measured neutron yield</text></g>
<g transform="translate(214.22,0) scale(0.9440,1)"><text x="0" y="694.5" font-size="47">Modelled</text></g>
<path d="M411.2 662.2H424.5V665.2H419.9V691.5H424.5V694.5H411.2V691.5H415.9V665.2H411.2Z" fill="#0c0c14"/>
<g transform="translate(424.91,0) scale(0.9435,1)"><text x="0" y="694.5" font-size="47">CRF-enhancement of R<tspan font-size="26" dy="14.5">NT</tspan></text></g>
<g transform="translate(448.30,0) scale(1.0277,1)"><text x="0" y="756.6" font-size="47">0%</text></g>
<g transform="translate(532.70,0) scale(1.1170,1)"><text x="0" y="741.8" font-size="24.5">3</text></g>
<g transform="translate(547.80,0) scale(0.9180,1)"><text x="0" y="756.6" font-size="47">He</text></g>
<g transform="translate(444.10,0) scale(1.0077,1)"><text x="0" y="870.8" font-size="47">0.4%</text></g>
<g transform="translate(567.10,0) scale(1.0250,1)"><text x="0" y="854.1" font-size="25">3</text></g>
<g transform="translate(581.60,0) scale(0.9160,1)"><text x="0" y="870.8" font-size="47">He</text></g>
<text transform="translate(38.8,194.6) rotate(-90)" font-size="38" text-anchor="middle">(MW)</text>
<text transform="translate(39,496.8) rotate(-90) scale(1.0286,1)" font-size="46.5" style="stroke-width:0" text-anchor="middle">(10<tspan font-size="27" dy="-13">18</tspan><tspan dy="13"> n/s)</tspan></text>
<text transform="translate(37,774.8) rotate(-90) scale(1.126,1)" font-size="47.5" style="stroke-width:0" text-anchor="middle">(%)</text>
</svg>
</body></html>
